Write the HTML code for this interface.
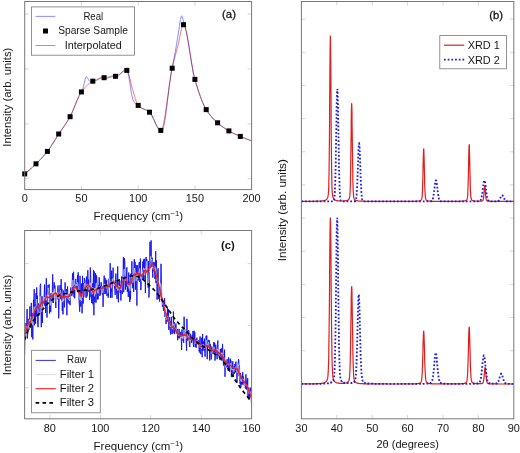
<!DOCTYPE html>
<html><head><meta charset="utf-8"><title>Figure</title>
<style>html,body{margin:0;padding:0;background:#fff}svg{display:block}text{font-family:"Liberation Sans",sans-serif;fill:#161616}.tk{font-size:10.9px;text-anchor:middle}.lb{font-size:11.5px;text-anchor:middle}.lg{font-size:11px}.ax{fill:none;stroke:#777;stroke-width:1}.t{stroke:#ccc;stroke-width:0.8}</style></head><body>
<svg width="520" height="453" viewBox="0 0 520 453">
<rect width="520" height="453" fill="#fff"/>
<path class="t" d="M81.4 189.6v-4M81.4 1.5v4"/><path class="t" d="M138.2 189.6v-4M138.2 1.5v4"/><path class="t" d="M194.9 189.6v-4M194.9 1.5v4"/><path class="t" d="M24.7 14.1h4M251.6 14.1h-4"/><path class="t" d="M24.7 68.9h4M251.6 68.9h-4"/><path class="t" d="M24.7 123.8h4M251.6 123.8h-4"/><path class="t" d="M24.7 178.7h4M251.6 178.7h-4"/>
<polyline fill="none" stroke="#5a5aff" stroke-width="0.7" points="24.7,173.9 25.3,173.4 25.8,173.0 26.4,172.5 27.0,172.1 27.5,171.6 28.1,171.1 28.7,170.6 29.2,170.1 29.8,169.6 30.4,169.1 31.0,168.6 31.5,168.1 32.1,167.6 32.7,167.0 33.2,166.5 33.8,166.0 34.4,165.4 34.9,164.9 35.5,164.3 36.1,163.8 36.6,163.2 37.2,162.7 37.8,162.1 38.3,161.5 38.9,160.9 39.5,160.4 40.1,159.8 40.6,159.2 41.2,158.6 41.8,158.0 42.3,157.4 42.9,156.7 43.5,156.1 44.0,155.5 44.6,154.8 45.2,154.1 45.7,153.4 46.3,152.8 46.9,152.0 47.4,151.3 48.0,150.6 48.6,149.8 49.2,149.0 49.7,148.2 50.3,147.4 50.9,146.5 51.4,145.6 52.0,144.7 52.6,143.9 53.1,142.9 53.7,142.0 54.3,141.1 54.8,140.2 55.4,139.3 56.0,138.4 56.5,137.4 57.1,136.5 57.7,135.6 58.3,134.7 58.8,133.9 59.4,133.0 60.0,132.2 60.5,131.3 61.1,130.5 61.7,129.7 62.2,128.9 62.8,128.0 63.4,127.2 63.9,126.4 64.5,125.6 65.1,124.8 65.6,123.9 66.2,123.0 66.8,122.2 67.4,121.3 67.9,120.4 68.5,119.4 69.1,118.5 69.6,117.5 70.2,116.5 70.8,115.4 71.3,114.2 71.9,113.0 72.5,111.7 73.0,110.4 73.6,109.0 74.2,107.6 74.7,106.2 75.3,104.7 75.9,103.3 76.4,101.9 77.0,100.5 77.6,99.2 78.2,97.9 78.7,96.6 79.3,95.5 79.9,94.4 80.4,93.4 81.0,92.4 81.6,91.5 82.1,90.5 82.7,89.1 83.3,87.3 83.8,85.0 84.4,82.4 85.0,79.8 85.5,77.8 86.1,76.8 86.7,76.8 87.3,77.4 87.8,78.4 88.4,79.5 89.0,80.5 89.5,81.2 90.1,81.6 90.7,81.8 91.2,81.7 91.8,81.6 92.4,81.3 92.9,81.2 93.5,81.2 94.1,81.2 94.6,81.2 95.2,81.0 95.8,80.8 96.4,80.5 96.9,80.2 97.5,79.8 98.1,79.3 98.6,78.9 99.2,78.4 99.8,78.0 100.3,77.7 100.9,77.5 101.5,77.3 102.0,77.3 102.6,77.3 103.2,77.5 103.7,77.6 104.3,77.8 104.9,78.0 105.5,78.1 106.0,78.2 106.6,78.2 107.2,78.2 107.7,78.0 108.3,77.8 108.9,77.5 109.4,77.2 110.0,76.9 110.6,76.6 111.1,76.3 111.7,76.0 112.3,75.9 112.8,75.8 113.4,75.8 114.0,75.9 114.6,76.1 115.1,76.2 115.7,76.4 116.3,76.5 116.8,76.5 117.4,76.4 118.0,76.2 118.5,75.8 119.1,75.3 119.7,74.8 120.2,74.1 120.8,73.4 121.4,72.7 121.9,72.1 122.5,71.5 123.1,70.9 123.6,70.5 124.2,70.2 124.8,70.1 125.4,70.1 125.9,70.2 126.5,70.5 127.1,70.9 127.6,72.0 128.2,73.8 128.8,76.4 129.3,79.6 129.9,83.3 130.5,87.2 131.0,91.0 131.6,94.4 132.2,97.0 132.7,98.9 133.3,100.4 133.9,101.5 134.5,102.4 135.0,103.2 135.6,103.8 136.2,104.4 136.7,105.0 137.3,105.5 137.9,105.9 138.4,106.2 139.0,106.5 139.6,106.9 140.1,107.2 140.7,107.6 141.3,107.9 141.8,108.2 142.4,108.5 143.0,108.7 143.6,109.0 144.1,109.2 144.7,109.4 145.3,109.7 145.8,109.9 146.4,110.2 147.0,110.5 147.5,110.8 148.1,111.1 148.7,111.5 149.2,112.0 149.8,112.5 150.4,113.2 150.9,114.0 151.5,114.9 152.1,116.0 152.7,117.1 153.2,118.3 153.8,119.5 154.4,120.7 154.9,122.0 155.5,123.3 156.1,124.5 156.6,125.6 157.2,126.7 157.8,127.7 158.3,128.6 158.9,129.4 159.5,130.1 160.0,130.7 160.6,131.2 161.2,131.5 161.7,131.3 162.3,130.5 162.9,129.2 163.5,127.4 164.0,125.0 164.6,122.2 165.2,118.8 165.7,114.9 166.3,110.7 166.9,106.1 167.4,101.4 168.0,96.7 168.6,92.0 169.1,87.5 169.7,83.1 170.3,79.1 170.8,75.2 171.4,71.8 172.0,68.6 172.6,65.7 173.1,62.9 173.7,60.0 174.3,57.1 174.8,54.1 175.4,51.0 176.0,47.8 176.5,44.5 177.1,41.0 177.7,37.5 178.2,34.0 178.8,30.2 179.4,26.4 179.9,22.8 180.5,19.6 181.1,16.9 181.7,15.8 182.2,16.7 182.8,18.6 183.4,20.8 183.9,23.0 184.5,25.0 185.1,27.0 185.6,29.2 186.2,31.7 186.8,34.5 187.3,37.6 187.9,40.8 188.5,44.1 189.0,47.6 189.6,51.1 190.2,54.7 190.8,58.2 191.3,61.7 191.9,65.1 192.5,68.4 193.0,71.4 193.6,74.3 194.2,76.8 194.7,79.0 195.3,80.9 195.9,82.8 196.4,84.7 197.0,86.5 197.6,88.3 198.1,90.1 198.7,91.8 199.3,93.5 199.9,95.1 200.4,96.7 201.0,98.3 201.6,99.7 202.1,101.2 202.7,102.5 203.3,103.9 203.8,105.1 204.4,106.3 205.0,107.4 205.5,108.4 206.1,109.4 206.7,110.3 207.2,111.2 207.8,112.0 208.4,112.9 208.9,113.6 209.5,114.4 210.1,115.1 210.7,115.8 211.2,116.5 211.8,117.1 212.4,117.8 212.9,118.4 213.5,119.0 214.1,119.5 214.6,120.1 215.2,120.6 215.8,121.2 216.3,121.7 216.9,122.2 217.5,122.7 218.0,123.2 218.6,123.7 219.2,124.2 219.8,124.7 220.3,125.1 220.9,125.6 221.5,126.0 222.0,126.4 222.6,126.8 223.2,127.2 223.7,127.6 224.3,128.0 224.9,128.4 225.4,128.8 226.0,129.1 226.6,129.5 227.1,129.9 227.7,130.2 228.3,130.5 228.9,130.9 229.4,131.2 230.0,131.5 230.6,131.8 231.1,132.1 231.7,132.4 232.3,132.7 232.8,133.0 233.4,133.3 234.0,133.6 234.5,133.8 235.1,134.1 235.7,134.4 236.2,134.6 236.8,134.9 237.4,135.1 238.0,135.4 238.5,135.6 239.1,135.9 239.7,136.1 240.2,136.4 240.8,136.6 241.4,136.9 241.9,137.1 242.5,137.4 243.1,137.6 243.6,137.8 244.2,138.0 244.8,138.3 245.3,138.5 245.9,138.7 246.5,138.9 247.1,139.2 247.6,139.4 248.2,139.6 248.8,139.8 249.3,140.0 249.9,140.2 250.5,140.4 251.0,140.6 251.6,140.8"/>
<polyline fill="none" stroke="#f04040" stroke-width="0.7" style="mix-blend-mode:multiply" points="24.7,173.9 25.3,173.4 25.8,173.0 26.4,172.5 27.0,172.1 27.5,171.6 28.1,171.1 28.7,170.6 29.2,170.1 29.8,169.6 30.4,169.1 31.0,168.6 31.5,168.1 32.1,167.6 32.7,167.0 33.2,166.5 33.8,166.0 34.4,165.4 34.9,164.9 35.5,164.3 36.1,163.8 36.6,163.2 37.2,162.7 37.8,162.1 38.3,161.5 38.9,160.9 39.5,160.4 40.1,159.8 40.6,159.2 41.2,158.6 41.8,158.0 42.3,157.4 42.9,156.7 43.5,156.1 44.0,155.5 44.6,154.8 45.2,154.1 45.7,153.4 46.3,152.8 46.9,152.0 47.4,151.3 48.0,150.6 48.6,149.8 49.2,149.0 49.7,148.2 50.3,147.4 50.9,146.5 51.4,145.6 52.0,144.7 52.6,143.9 53.1,142.9 53.7,142.0 54.3,141.1 54.8,140.2 55.4,139.3 56.0,138.4 56.5,137.4 57.1,136.5 57.7,135.6 58.3,134.7 58.8,133.9 59.4,133.0 60.0,132.2 60.5,131.3 61.1,130.5 61.7,129.7 62.2,128.9 62.8,128.0 63.4,127.2 63.9,126.4 64.5,125.6 65.1,124.8 65.6,123.9 66.2,123.0 66.8,122.2 67.4,121.3 67.9,120.4 68.5,119.4 69.1,118.5 69.6,117.5 70.2,116.5 70.8,115.4 71.3,114.2 71.9,113.0 72.5,111.7 73.0,110.4 73.6,109.0 74.2,107.6 74.7,106.2 75.3,104.7 75.9,103.3 76.4,101.9 77.0,100.5 77.6,99.2 78.2,97.9 78.7,96.6 79.3,95.5 79.9,94.4 80.4,93.4 81.0,92.5 81.6,91.7 82.1,91.0 82.7,90.3 83.3,89.6 83.8,88.9 84.4,88.2 85.0,87.6 85.5,86.9 86.1,86.3 86.7,85.7 87.3,85.2 87.8,84.7 88.4,84.2 89.0,83.7 89.5,83.2 90.1,82.8 90.7,82.4 91.2,82.0 91.8,81.7 92.4,81.4 92.9,81.1 93.5,80.9 94.1,80.6 94.6,80.4 95.2,80.2 95.8,79.9 96.4,79.7 96.9,79.5 97.5,79.3 98.1,79.2 98.6,79.0 99.2,78.8 99.8,78.7 100.3,78.5 100.9,78.4 101.5,78.2 102.0,78.1 102.6,78.0 103.2,77.9 103.7,77.8 104.3,77.7 104.9,77.6 105.5,77.5 106.0,77.4 106.6,77.3 107.2,77.3 107.7,77.2 108.3,77.2 108.9,77.1 109.4,77.1 110.0,77.0 110.6,77.0 111.1,76.9 111.7,76.8 112.3,76.8 112.8,76.7 113.4,76.6 114.0,76.6 114.6,76.5 115.1,76.4 115.7,76.2 116.3,76.1 116.8,75.9 117.4,75.6 118.0,75.3 118.5,74.9 119.1,74.5 119.7,74.1 120.2,73.7 120.8,73.3 121.4,72.9 121.9,72.5 122.5,72.1 123.1,71.7 123.6,71.4 124.2,71.1 124.8,70.8 125.4,70.6 125.9,70.5 126.5,70.4 127.1,70.5 127.6,71.2 128.2,72.5 128.8,74.3 129.3,76.4 129.9,78.8 130.5,81.3 131.0,83.8 131.6,86.1 132.2,88.1 132.7,89.9 133.3,91.8 133.9,93.8 134.5,95.8 135.0,97.7 135.6,99.6 136.2,101.3 136.7,102.8 137.3,104.1 137.9,105.0 138.4,105.7 139.0,106.2 139.6,106.7 140.1,107.1 140.7,107.5 141.3,107.9 141.8,108.2 142.4,108.5 143.0,108.7 143.6,109.0 144.1,109.2 144.7,109.4 145.3,109.7 145.8,109.9 146.4,110.2 147.0,110.5 147.5,110.8 148.1,111.1 148.7,111.5 149.2,112.0 149.8,112.5 150.4,113.2 150.9,114.0 151.5,114.9 152.1,116.0 152.7,117.1 153.2,118.3 153.8,119.5 154.4,120.7 154.9,122.0 155.5,123.2 156.1,124.5 156.6,125.6 157.2,126.7 157.8,127.7 158.3,128.5 158.9,129.2 159.5,129.8 160.0,130.2 160.6,130.4 161.2,130.3 161.7,129.6 162.3,128.3 162.9,126.4 163.5,124.1 164.0,121.3 164.6,118.2 165.2,114.8 165.7,111.1 166.3,107.2 166.9,103.1 167.4,99.0 168.0,94.8 168.6,90.6 169.1,86.5 169.7,82.6 170.3,78.8 170.8,75.3 171.4,72.0 172.0,69.1 172.6,66.6 173.1,64.1 173.7,61.8 174.3,59.6 174.8,57.4 175.4,55.2 176.0,53.1 176.5,51.0 177.1,48.8 177.7,46.7 178.2,44.4 178.8,41.8 179.4,39.1 179.9,36.2 180.5,33.5 181.1,30.8 181.7,28.5 182.2,26.7 182.8,25.4 183.4,24.7 183.9,24.9 184.5,25.6 185.1,26.8 185.6,28.6 186.2,30.7 186.8,33.3 187.3,36.1 187.9,39.3 188.5,42.7 189.0,46.2 189.6,49.8 190.2,53.5 190.8,57.2 191.3,60.9 191.9,64.5 192.5,67.9 193.0,71.1 193.6,74.0 194.2,76.6 194.7,78.9 195.3,80.9 195.9,82.8 196.4,84.6 197.0,86.5 197.6,88.3 198.1,90.1 198.7,91.8 199.3,93.5 199.9,95.1 200.4,96.7 201.0,98.3 201.6,99.7 202.1,101.2 202.7,102.5 203.3,103.9 203.8,105.1 204.4,106.3 205.0,107.4 205.5,108.4 206.1,109.4 206.7,110.3 207.2,111.2 207.8,112.0 208.4,112.9 208.9,113.6 209.5,114.4 210.1,115.1 210.7,115.8 211.2,116.5 211.8,117.1 212.4,117.8 212.9,118.4 213.5,119.0 214.1,119.5 214.6,120.1 215.2,120.6 215.8,121.2 216.3,121.7 216.9,122.2 217.5,122.7 218.0,123.2 218.6,123.7 219.2,124.2 219.8,124.7 220.3,125.1 220.9,125.6 221.5,126.0 222.0,126.4 222.6,126.8 223.2,127.2 223.7,127.6 224.3,128.0 224.9,128.4 225.4,128.8 226.0,129.1 226.6,129.5 227.1,129.9 227.7,130.2 228.3,130.5 228.9,130.9 229.4,131.2 230.0,131.5 230.6,131.8 231.1,132.1 231.7,132.4 232.3,132.7 232.8,133.0 233.4,133.3 234.0,133.6 234.5,133.8 235.1,134.1 235.7,134.4 236.2,134.6 236.8,134.9 237.4,135.1 238.0,135.4 238.5,135.6 239.1,135.9 239.7,136.1 240.2,136.4 240.8,136.6 241.4,136.9 241.9,137.1 242.5,137.4 243.1,137.6 243.6,137.8 244.2,138.0 244.8,138.3 245.3,138.5 245.9,138.7 246.5,138.9 247.1,139.2 247.6,139.4 248.2,139.6 248.8,139.8 249.3,140.0 249.9,140.2 250.5,140.4 251.0,140.6 251.6,140.8"/>
<rect x="22.2" y="171.4" width="5" height="5" fill="#000"/>
<rect x="33.5" y="161.3" width="5" height="5" fill="#000"/>
<rect x="44.9" y="148.9" width="5" height="5" fill="#000"/>
<rect x="56.2" y="131.5" width="5" height="5" fill="#000"/>
<rect x="67.6" y="114.2" width="5" height="5" fill="#000"/>
<rect x="78.9" y="89.4" width="5" height="5" fill="#000"/>
<rect x="90.3" y="78.7" width="5" height="5" fill="#000"/>
<rect x="101.6" y="75.2" width="5" height="5" fill="#000"/>
<rect x="113.0" y="73.8" width="5" height="5" fill="#000"/>
<rect x="124.3" y="67.9" width="5" height="5" fill="#000"/>
<rect x="135.7" y="102.9" width="5" height="5" fill="#000"/>
<rect x="147.0" y="109.7" width="5" height="5" fill="#000"/>
<rect x="158.3" y="127.9" width="5" height="5" fill="#000"/>
<rect x="169.7" y="65.7" width="5" height="5" fill="#000"/>
<rect x="181.0" y="22.2" width="5" height="5" fill="#000"/>
<rect x="192.4" y="76.9" width="5" height="5" fill="#000"/>
<rect x="203.7" y="107.1" width="5" height="5" fill="#000"/>
<rect x="215.1" y="120.3" width="5" height="5" fill="#000"/>
<rect x="226.4" y="128.4" width="5" height="5" fill="#000"/>
<rect x="237.8" y="133.9" width="5" height="5" fill="#000"/>
<rect class="ax" x="24.7" y="1.5" width="226.9" height="188.1"/>
<rect x="31.4" y="6.9" width="103" height="48.3" fill="#fff" stroke="#777" stroke-width="0.8"/>
<path d="M35.5 16.4H55.3" stroke="#5a5aff" stroke-width="0.7"/>
<rect x="43" y="28.5" width="5" height="5" fill="#000"/>
<path d="M35.5 45.5H55.3" stroke="#f04040" stroke-width="0.7"/>
<text x="93.3" y="19.5" text-anchor="middle" style="font-size:10.8px" textLength="19.8" lengthAdjust="spacingAndGlyphs">Real</text>
<text x="93.1" y="34.4" text-anchor="middle" style="font-size:10.8px" textLength="69.8" lengthAdjust="spacingAndGlyphs">Sparse Sample</text>
<text x="93.3" y="48.6" text-anchor="middle" style="font-size:10.8px" textLength="57.2" lengthAdjust="spacingAndGlyphs">Interpolated</text>
<text x="229" y="18.3" text-anchor="middle" style="font-size:11.3px;stroke:#161616;stroke-width:0.3px">(a)</text>
<text class="tk" x="24.7" y="202.4">0</text>
<text class="tk" x="81.4" y="202.4">50</text>
<text class="tk" x="138.2" y="202.4">100</text>
<text class="tk" x="194.9" y="202.4">150</text>
<text class="tk" x="251.6" y="202.4">200</text>
<text x="138.3" y="220" text-anchor="middle" style="font-size:11.2px" textLength="89.5" lengthAdjust="spacingAndGlyphs">Frequency (cm<tspan dy="-4" style="font-size:7.5px">−1</tspan><tspan dy="4">)</tspan></text>
<text x="0" y="0" text-anchor="middle" style="font-size:11.2px" textLength="99" lengthAdjust="spacingAndGlyphs" transform="translate(11.4 97.2) rotate(-90)">Intensity (arb. units)</text>
<path class="t" d="M49.8 418.8v-4M49.8 230.5v4"/><path class="t" d="M100.3 418.8v-4M100.3 230.5v4"/><path class="t" d="M150.7 418.8v-4M150.7 230.5v4"/><path class="t" d="M201.2 418.8v-4M201.2 230.5v4"/><path class="t" d="M24.6 263.6h4M251.6 263.6h-4"/><path class="t" d="M24.6 325.6h4M251.6 325.6h-4"/><path class="t" d="M24.6 387.7h4M251.6 387.7h-4"/>
<clipPath id="cc"><rect x="24.6" y="230.5" width="227.0" height="188.3"/></clipPath>
<g clip-path="url(#cc)">
<polyline fill="none" stroke="#1414ee" stroke-width="0.95" stroke-linejoin="round" points="24.6,354.6 25.0,329.8 25.3,334.2 25.7,337.2 26.0,323.0 26.4,330.6 26.7,329.5 27.1,309.1 27.4,338.5 27.8,332.9 28.2,318.8 28.5,323.1 28.9,329.9 29.2,320.8 29.6,320.3 29.9,306.4 30.3,327.8 30.6,322.4 31.0,323.4 31.3,302.9 31.7,337.2 32.1,320.1 32.4,313.4 32.8,339.4 33.1,315.9 33.5,299.8 33.8,310.6 34.2,289.2 34.5,325.3 34.9,308.6 35.3,304.4 35.6,323.7 36.0,293.2 36.3,316.6 36.7,287.4 37.0,302.3 37.4,295.7 37.7,324.4 38.1,327.2 38.5,303.5 38.8,315.8 39.2,304.0 39.5,311.6 39.9,296.5 40.2,285.3 40.6,283.7 40.9,307.2 41.3,327.2 41.7,305.2 42.0,296.2 42.4,322.8 42.7,304.2 43.1,302.4 43.4,303.9 43.8,299.4 44.1,297.2 44.5,284.6 44.8,305.7 45.2,298.9 45.6,312.9 45.9,295.5 46.3,278.3 46.6,298.0 47.0,317.5 47.3,294.4 47.7,288.6 48.0,285.0 48.4,286.4 48.8,294.4 49.1,284.4 49.5,313.5 49.8,293.6 50.2,297.5 50.5,311.8 50.9,312.2 51.2,293.0 51.6,298.6 52.0,302.7 52.3,292.1 52.7,274.3 53.0,300.7 53.4,303.0 53.7,297.4 54.1,282.3 54.4,290.0 54.8,285.3 55.2,288.1 55.5,305.4 55.9,308.0 56.2,298.9 56.6,297.8 56.9,299.5 57.3,292.2 57.6,291.8 58.0,285.5 58.3,292.6 58.7,318.3 59.1,303.3 59.4,290.3 59.8,289.1 60.1,285.1 60.5,298.9 60.8,299.2 61.2,279.1 61.5,300.4 61.9,288.9 62.3,311.0 62.6,297.1 63.0,314.4 63.3,290.5 63.7,292.5 64.0,299.0 64.4,307.4 64.7,302.1 65.1,282.4 65.5,298.1 65.8,296.4 66.2,291.6 66.5,289.0 66.9,315.2 67.2,291.6 67.6,286.4 67.9,302.5 68.3,296.8 68.7,294.4 69.0,303.7 69.4,300.3 69.7,298.7 70.1,305.2 70.4,297.6 70.8,287.5 71.1,290.1 71.5,288.2 71.8,296.1 72.2,281.8 72.6,273.4 72.9,294.4 73.3,278.7 73.6,271.8 74.0,297.2 74.3,285.2 74.7,298.3 75.0,286.9 75.4,280.3 75.8,278.9 76.1,286.8 76.5,289.3 76.8,283.1 77.2,289.0 77.5,275.1 77.9,292.2 78.2,272.4 78.6,290.2 79.0,300.2 79.3,304.7 79.7,311.7 80.0,275.9 80.4,301.6 80.7,306.7 81.1,304.4 81.4,283.5 81.8,297.9 82.1,313.3 82.5,275.9 82.9,297.1 83.2,303.6 83.6,283.2 83.9,296.8 84.3,278.1 84.6,280.4 85.0,279.9 85.3,290.5 85.7,286.9 86.1,297.9 86.4,276.5 86.8,284.9 87.1,296.4 87.5,291.5 87.8,270.3 88.2,291.7 88.5,279.4 88.9,289.5 89.3,289.2 89.6,300.0 90.0,288.5 90.3,267.5 90.7,273.4 91.0,297.2 91.4,287.0 91.7,303.0 92.1,294.1 92.5,283.5 92.8,304.3 93.2,284.0 93.5,270.1 93.9,315.2 94.2,271.3 94.6,299.1 94.9,302.3 95.3,293.4 95.6,273.1 96.0,302.6 96.4,275.4 96.7,276.3 97.1,286.9 97.4,299.4 97.8,293.8 98.1,299.3 98.5,285.3 98.8,288.1 99.2,277.3 99.6,286.1 99.9,296.0 100.3,286.0 100.6,294.3 101.0,282.6 101.3,282.2 101.7,288.9 102.0,286.1 102.4,294.6 102.8,289.8 103.1,306.8 103.5,285.0 103.8,284.7 104.2,275.6 104.5,287.0 104.9,294.1 105.2,278.2 105.6,285.6 106.0,293.8 106.3,284.3 106.7,279.8 107.0,296.0 107.4,286.2 107.7,289.3 108.1,297.7 108.4,297.3 108.8,280.7 109.1,278.6 109.5,287.4 109.9,282.7 110.2,263.2 110.6,298.0 110.9,284.1 111.3,291.8 111.6,270.7 112.0,297.7 112.3,276.9 112.7,282.1 113.1,267.7 113.4,281.2 113.8,280.6 114.1,281.4 114.5,288.5 114.8,284.6 115.2,294.9 115.5,279.2 115.9,273.6 116.3,284.6 116.6,292.0 117.0,299.0 117.3,294.5 117.7,266.4 118.0,290.2 118.4,302.3 118.7,287.2 119.1,281.1 119.4,290.0 119.8,280.7 120.2,292.9 120.5,285.3 120.9,300.5 121.2,290.3 121.6,276.5 121.9,290.7 122.3,294.0 122.6,277.1 123.0,278.3 123.4,257.3 123.7,292.2 124.1,275.5 124.4,258.2 124.8,261.8 125.1,278.6 125.5,289.6 125.8,280.5 126.2,286.8 126.6,269.7 126.9,267.3 127.3,291.9 127.6,287.8 128.0,282.2 128.3,296.9 128.7,272.5 129.0,278.1 129.4,293.5 129.8,302.0 130.1,281.4 130.5,299.3 130.8,273.7 131.2,283.5 131.5,277.5 131.9,261.4 132.2,281.3 132.6,288.2 132.9,275.9 133.3,276.2 133.7,291.9 134.0,262.3 134.4,259.1 134.7,268.0 135.1,261.9 135.4,289.7 135.8,278.1 136.1,265.0 136.5,267.6 136.9,305.6 137.2,267.2 137.6,265.4 137.9,276.9 138.3,280.4 138.6,276.0 139.0,264.2 139.3,262.0 139.7,282.0 140.1,275.4 140.4,258.6 140.8,290.1 141.1,286.4 141.5,275.3 141.8,274.7 142.2,279.7 142.5,269.2 142.9,261.5 143.3,279.4 143.6,259.6 144.0,279.3 144.3,258.8 144.7,273.1 145.0,272.3 145.4,293.0 145.7,261.2 146.1,257.0 146.4,264.9 146.8,259.2 147.2,264.6 147.5,275.2 147.9,278.6 148.2,287.8 148.6,261.0 148.9,297.6 149.3,289.9 149.6,265.4 150.0,241.9 150.4,265.7 150.7,266.9 151.1,240.4 151.4,266.7 151.8,263.9 152.1,257.6 152.5,273.3 152.8,277.6 153.2,262.2 153.6,271.2 153.9,262.6 154.3,262.3 154.6,273.0 155.0,279.0 155.3,268.2 155.7,251.2 156.0,283.1 156.4,260.3 156.8,280.3 157.1,299.7 157.5,281.0 157.8,269.5 158.2,268.3 158.5,299.0 158.9,287.7 159.2,295.6 159.6,301.6 159.9,292.6 160.3,291.5 160.7,286.2 161.0,263.8 161.4,282.2 161.7,299.2 162.1,299.2 162.4,306.7 162.8,302.0 163.1,305.6 163.5,311.0 163.9,300.7 164.2,306.0 164.6,298.1 164.9,316.8 165.3,311.6 165.6,315.8 166.0,324.0 166.3,321.8 166.7,315.0 167.1,321.7 167.4,307.5 167.8,321.1 168.1,320.0 168.5,309.0 168.8,330.0 169.2,317.0 169.5,327.4 169.9,320.8 170.2,331.4 170.6,334.5 171.0,320.8 171.3,316.8 171.7,326.9 172.0,334.1 172.4,326.3 172.7,325.2 173.1,333.3 173.4,311.6 173.8,326.5 174.2,322.1 174.5,334.1 174.9,327.6 175.2,325.5 175.6,331.0 175.9,323.5 176.3,333.5 176.6,329.1 177.0,331.2 177.4,329.0 177.7,340.2 178.1,333.3 178.4,337.8 178.8,337.5 179.1,328.9 179.5,338.3 179.8,336.9 180.2,336.8 180.6,332.0 180.9,331.9 181.3,340.3 181.6,349.9 182.0,329.4 182.3,338.8 182.7,332.8 183.0,340.7 183.4,338.5 183.7,342.8 184.1,316.7 184.5,331.9 184.8,329.6 185.2,335.9 185.5,332.0 185.9,332.8 186.2,342.1 186.6,350.7 186.9,318.8 187.3,336.2 187.7,340.7 188.0,338.9 188.4,336.8 188.7,330.2 189.1,333.3 189.4,344.7 189.8,347.0 190.1,340.3 190.5,333.8 190.9,340.1 191.2,337.7 191.6,343.0 191.9,340.0 192.3,334.9 192.6,340.4 193.0,331.0 193.3,344.5 193.7,346.9 194.1,330.8 194.4,341.6 194.8,332.3 195.1,346.9 195.5,346.2 195.8,339.0 196.2,347.8 196.5,338.6 196.9,337.7 197.2,338.7 197.6,342.1 198.0,341.3 198.3,345.1 198.7,340.3 199.0,350.2 199.4,352.5 199.7,342.6 200.1,336.5 200.4,351.2 200.8,354.2 201.2,345.4 201.5,337.8 201.9,348.5 202.2,357.2 202.6,334.1 202.9,350.3 203.3,345.0 203.6,341.4 204.0,350.7 204.4,338.6 204.7,349.6 205.1,356.6 205.4,349.0 205.8,341.9 206.1,335.8 206.5,339.3 206.8,335.6 207.2,359.2 207.5,346.7 207.9,341.4 208.3,339.8 208.6,341.5 209.0,346.6 209.3,340.3 209.7,360.5 210.0,344.1 210.4,344.0 210.7,351.6 211.1,359.5 211.5,358.7 211.8,346.5 212.2,351.7 212.5,351.1 212.9,353.8 213.2,352.0 213.6,344.0 213.9,342.0 214.3,352.1 214.7,343.0 215.0,360.6 215.4,351.8 215.7,344.8 216.1,349.9 216.4,348.8 216.8,351.6 217.1,359.2 217.5,343.1 217.9,340.5 218.2,355.8 218.6,352.5 218.9,355.1 219.3,357.2 219.6,353.2 220.0,360.1 220.3,348.9 220.7,355.8 221.0,350.1 221.4,348.4 221.8,360.7 222.1,360.7 222.5,343.9 222.8,349.9 223.2,359.9 223.5,365.5 223.9,354.0 224.2,357.7 224.6,349.7 225.0,376.8 225.3,363.3 225.7,366.5 226.0,365.2 226.4,367.4 226.7,365.4 227.1,359.2 227.4,366.8 227.8,362.5 228.2,371.0 228.5,357.4 228.9,358.9 229.2,367.4 229.6,371.8 229.9,364.3 230.3,358.7 230.6,362.9 231.0,360.6 231.4,377.1 231.7,370.5 232.1,373.3 232.4,366.9 232.8,361.3 233.1,373.3 233.5,376.8 233.8,369.7 234.2,365.8 234.5,373.6 234.9,364.1 235.3,372.3 235.6,362.8 236.0,361.6 236.3,372.6 236.7,371.5 237.0,382.8 237.4,368.4 237.7,371.0 238.1,363.6 238.5,359.1 238.8,360.3 239.2,376.1 239.5,365.4 239.9,381.7 240.2,384.2 240.6,373.1 240.9,386.9 241.3,377.7 241.7,384.4 242.0,375.8 242.4,384.5 242.7,372.1 243.1,383.3 243.4,376.6 243.8,379.4 244.1,385.2 244.5,382.7 244.9,381.6 245.2,387.6 245.6,388.7 245.9,374.4 246.3,388.3 246.6,389.6 247.0,380.5 247.3,388.9 247.7,378.1 248.0,398.0 248.4,387.7 248.8,389.9 249.1,399.7 249.5,391.7 249.8,397.9 250.2,387.8 250.5,392.2 250.9,387.7 251.2,396.9 251.6,406.4"/>
<polyline fill="none" stroke="#c8c8d0" stroke-width="0.7" points="24.6,345.6 25.0,342.1 25.3,335.7 25.7,330.9 26.0,330.9 26.4,325.9 26.7,326.1 27.1,328.1 27.4,325.7 27.8,324.5 28.2,328.6 28.5,325.1 28.9,322.6 29.2,320.1 29.6,321.0 29.9,319.5 30.3,320.0 30.6,316.6 31.0,322.7 31.3,321.2 31.7,319.4 32.1,322.6 32.4,325.2 32.8,317.7 33.1,315.8 33.5,311.0 33.8,308.1 34.2,306.7 34.5,307.6 34.9,310.2 35.3,311.0 35.6,309.3 36.0,305.1 36.3,304.7 36.7,299.0 37.0,305.3 37.4,307.4 37.7,310.6 38.1,313.3 38.5,315.0 38.8,312.4 39.2,306.3 39.5,302.6 39.9,296.2 40.2,296.9 40.6,300.0 40.9,301.7 41.3,303.9 41.7,311.7 42.0,311.1 42.4,306.2 42.7,305.9 43.1,306.5 43.4,301.4 43.8,297.5 44.1,298.2 44.5,297.2 44.8,299.9 45.2,299.5 45.6,298.3 45.9,296.7 46.3,300.4 46.6,296.7 47.0,295.4 47.3,296.7 47.7,294.4 48.0,289.8 48.4,287.8 48.8,292.8 49.1,294.5 49.5,296.7 49.8,300.2 50.2,305.7 50.5,301.6 50.9,302.6 51.2,303.6 51.6,299.7 52.0,292.1 52.3,293.7 52.7,294.6 53.0,293.5 53.4,291.6 53.7,294.7 54.1,291.6 54.4,288.6 54.8,290.2 55.2,295.4 55.5,297.1 55.9,299.6 56.2,301.9 56.6,299.3 56.9,296.0 57.3,293.4 57.6,292.3 58.0,296.1 58.3,298.3 58.7,298.0 59.1,298.7 59.4,297.2 59.8,293.3 60.1,292.5 60.5,290.3 60.8,292.6 61.2,293.3 61.5,295.7 61.9,295.3 62.3,302.4 62.6,300.4 63.0,301.1 63.3,298.7 63.7,300.8 64.0,298.3 64.4,296.7 64.7,297.8 65.1,297.3 65.5,294.1 65.8,291.5 66.2,298.1 66.5,296.8 66.9,294.8 67.2,296.9 67.6,298.5 67.9,294.3 68.3,296.8 68.7,299.5 69.0,298.8 69.4,300.5 69.7,301.1 70.1,297.9 70.4,295.8 70.8,293.7 71.1,291.9 71.5,288.8 71.8,286.0 72.2,286.8 72.6,284.9 72.9,280.0 73.3,283.1 73.6,285.5 74.0,286.2 74.3,287.9 74.7,289.6 75.0,285.9 75.4,286.2 75.8,284.4 76.1,283.7 76.5,285.4 76.8,284.6 77.2,285.7 77.5,282.4 77.9,283.8 78.2,286.0 78.6,291.9 79.0,295.9 79.3,296.6 79.7,298.8 80.0,300.1 80.4,300.1 80.7,294.4 81.1,298.8 81.4,301.2 81.8,295.0 82.1,293.6 82.5,297.6 82.9,294.6 83.2,291.3 83.6,291.8 83.9,288.4 84.3,283.7 84.6,285.1 85.0,283.2 85.3,287.1 85.7,286.3 86.1,287.3 86.4,288.5 86.8,289.5 87.1,283.9 87.5,287.0 87.8,285.9 88.2,284.5 88.5,284.0 88.9,290.0 89.3,289.3 89.6,286.9 90.0,283.7 90.3,285.3 90.7,282.7 91.0,285.6 91.4,290.9 91.7,292.9 92.1,294.4 92.5,293.8 92.8,287.2 93.2,291.4 93.5,289.0 93.9,288.0 94.2,291.6 94.6,296.3 94.9,287.9 95.3,294.1 95.6,289.4 96.0,284.2 96.4,282.9 96.7,288.1 97.1,286.4 97.4,291.1 97.8,292.9 98.1,293.2 98.5,288.8 98.8,287.2 99.2,286.6 99.6,286.7 99.9,287.9 100.3,289.0 100.6,288.2 101.0,286.8 101.3,286.8 101.7,286.9 102.0,288.3 102.4,293.2 102.8,292.5 103.1,292.2 103.5,288.4 103.8,287.8 104.2,285.3 104.5,283.9 104.9,284.1 105.2,287.8 105.6,287.2 106.0,284.4 106.3,287.9 106.7,288.0 107.0,287.1 107.4,289.8 107.7,293.3 108.1,290.2 108.4,288.7 108.8,288.3 109.1,285.4 109.5,278.5 109.9,282.0 110.2,283.1 110.6,284.0 110.9,281.6 111.3,288.4 111.6,284.2 112.0,283.8 112.3,279.0 112.7,281.1 113.1,277.7 113.4,278.6 113.8,279.9 114.1,283.2 114.5,286.0 114.8,285.7 115.2,284.1 115.5,283.4 115.9,284.9 116.3,285.7 116.6,288.7 117.0,287.3 117.3,288.4 117.7,290.5 118.0,288.1 118.4,285.4 118.7,290.1 119.1,288.2 119.4,286.3 119.8,286.0 120.2,289.9 120.5,289.9 120.9,289.1 121.2,288.6 121.6,290.4 121.9,285.7 122.3,283.3 122.6,279.5 123.0,279.8 123.4,276.1 123.7,272.3 124.1,269.0 124.4,273.3 124.8,272.7 125.1,273.7 125.5,279.5 125.8,281.0 126.2,278.8 126.6,279.2 126.9,280.7 127.3,279.8 127.6,285.2 128.0,286.3 128.3,283.5 128.7,284.6 129.0,288.6 129.4,285.5 129.8,290.8 130.1,290.0 130.5,287.9 130.8,283.1 131.2,279.1 131.5,275.5 131.9,278.4 132.2,276.9 132.6,276.6 132.9,282.7 133.3,278.9 133.7,273.1 134.0,271.5 134.4,268.7 134.7,268.2 135.1,271.4 135.4,272.5 135.8,272.4 136.1,281.2 136.5,276.7 136.9,274.2 137.2,276.6 137.6,279.1 137.9,273.2 138.3,272.6 138.6,271.9 139.0,272.9 139.3,271.9 139.7,268.4 140.1,273.6 140.4,278.5 140.8,277.2 141.1,277.0 141.5,281.3 141.8,277.1 142.2,272.1 142.5,272.9 142.9,269.9 143.3,269.8 143.6,267.7 144.0,270.1 144.3,268.6 144.7,275.3 145.0,271.7 145.4,271.3 145.7,269.7 146.1,267.1 146.4,261.4 146.8,264.2 147.2,268.5 147.5,273.1 147.9,273.4 148.2,280.0 148.6,283.0 148.9,280.3 149.3,271.1 149.6,272.1 150.0,265.9 150.4,256.1 150.7,256.3 151.1,260.7 151.4,259.1 151.8,260.4 152.1,267.8 152.5,266.9 152.8,268.4 153.2,269.4 153.6,267.2 153.9,266.3 154.3,269.6 154.6,269.0 155.0,266.7 155.3,270.9 155.7,268.4 156.0,268.6 156.4,274.9 156.8,280.9 157.1,278.1 157.5,279.8 157.8,283.5 158.2,281.1 158.5,284.0 158.9,290.4 159.2,295.3 159.6,293.8 159.9,293.5 160.3,287.1 160.7,283.3 161.0,284.6 161.4,286.1 161.7,290.2 162.1,297.8 162.4,302.5 162.8,304.9 163.1,305.2 163.5,305.1 163.9,304.3 164.2,306.5 164.6,306.6 164.9,309.6 165.3,313.3 165.6,318.0 166.0,317.6 166.3,319.7 166.7,318.0 167.1,317.4 167.4,317.0 167.8,315.8 168.1,317.5 168.5,319.4 168.8,320.7 169.2,320.9 169.5,325.4 169.9,326.2 170.2,327.0 170.6,324.9 171.0,326.1 171.3,326.6 171.7,325.0 172.0,325.9 172.4,329.2 172.7,326.1 173.1,324.6 173.4,323.7 173.8,325.5 174.2,324.4 174.5,327.2 174.9,328.1 175.2,328.3 175.6,328.2 175.9,328.5 176.3,329.7 176.6,329.3 177.0,332.6 177.4,332.6 177.7,334.3 178.1,335.6 178.4,335.5 178.8,335.2 179.1,335.9 179.5,335.7 179.8,334.6 180.2,335.2 180.6,335.6 180.9,338.2 181.3,336.7 181.6,338.1 182.0,338.2 182.3,338.3 182.7,336.1 183.0,338.7 183.4,334.3 183.7,334.1 184.1,331.9 184.5,331.4 184.8,329.2 185.2,332.4 185.5,334.5 185.9,338.7 186.2,335.3 186.6,336.1 186.9,337.7 187.3,337.0 187.7,334.3 188.0,336.5 188.4,336.0 188.7,336.8 189.1,338.4 189.4,339.1 189.8,339.8 190.1,341.2 190.5,339.8 190.9,339.0 191.2,339.0 191.6,339.2 191.9,339.2 192.3,337.9 192.6,338.2 193.0,339.5 193.3,338.7 193.7,339.0 194.1,339.2 194.4,339.7 194.8,339.5 195.1,341.2 195.5,342.4 195.8,343.7 196.2,341.9 196.5,340.3 196.9,341.0 197.2,339.7 197.6,341.0 198.0,341.5 198.3,343.8 198.7,345.9 199.0,346.1 199.4,344.4 199.7,346.6 200.1,347.4 200.4,346.0 200.8,345.0 201.2,347.4 201.5,348.6 201.9,344.6 202.2,345.6 202.6,347.0 202.9,345.6 203.3,344.3 203.6,345.2 204.0,345.1 204.4,347.4 204.7,348.9 205.1,347.1 205.4,346.6 205.8,344.5 206.1,340.3 206.5,342.4 206.8,343.3 207.2,344.5 207.5,344.6 207.9,345.7 208.3,343.2 208.6,341.9 209.0,345.7 209.3,346.6 209.7,347.1 210.0,348.1 210.4,351.9 210.7,351.6 211.1,352.1 211.5,353.6 211.8,353.5 212.2,352.3 212.5,351.0 212.9,350.5 213.2,348.6 213.6,348.8 213.9,346.6 214.3,348.3 214.7,349.9 215.0,350.5 215.4,350.0 215.7,351.2 216.1,349.4 216.4,350.9 216.8,350.5 217.1,348.7 217.5,350.1 217.9,350.2 218.2,349.4 218.6,352.2 218.9,354.7 219.3,355.6 219.6,354.9 220.0,355.1 220.3,353.6 220.7,352.7 221.0,352.8 221.4,355.1 221.8,352.8 222.1,352.7 222.5,355.0 222.8,356.0 223.2,354.7 223.5,357.4 223.9,357.4 224.2,360.7 224.6,360.3 225.0,362.8 225.3,364.3 225.7,367.8 226.0,365.6 226.4,364.7 226.7,364.8 227.1,364.3 227.4,365.0 227.8,363.4 228.2,363.3 228.5,363.4 228.9,365.3 229.2,363.9 229.6,364.2 229.9,365.0 230.3,363.6 230.6,364.7 231.0,366.0 231.4,368.9 231.7,369.7 232.1,369.8 232.4,369.1 232.8,370.3 233.1,369.6 233.5,369.4 233.8,371.8 234.2,370.0 234.5,369.1 234.9,367.7 235.3,366.9 235.6,366.7 236.0,368.2 236.3,370.2 236.7,371.4 237.0,373.2 237.4,371.4 237.7,369.0 238.1,364.5 238.5,366.0 238.8,364.9 239.2,368.5 239.5,373.5 239.9,376.1 240.2,378.3 240.6,380.7 240.9,381.3 241.3,379.6 241.7,381.8 242.0,378.9 242.4,380.0 242.7,378.4 243.1,379.2 243.4,379.3 243.8,381.4 244.1,381.1 244.5,383.3 244.9,385.2 245.2,383.0 245.6,384.1 245.9,385.7 246.3,384.3 246.6,384.3 247.0,385.1 247.3,387.0 247.7,386.6 248.0,388.5 248.4,390.7 248.8,393.4 249.1,393.4 249.5,393.4 249.8,393.9 250.2,391.4 250.5,392.5 250.9,394.2 251.2,397.9 251.6,400.8"/>
<polyline fill="none" stroke="#f41a1a" stroke-width="1.3" stroke-linejoin="round" points="24.6,334.2 25.3,333.8 26.0,331.6 26.7,329.3 27.4,325.6 28.2,324.6 28.9,322.8 29.6,322.4 30.3,322.3 31.0,320.2 31.7,317.3 32.4,316.6 33.1,315.9 33.8,313.8 34.5,311.0 35.3,310.1 36.0,308.6 36.7,308.7 37.4,308.0 38.1,305.6 38.8,306.1 39.5,305.5 40.2,306.4 40.9,303.7 41.7,302.5 42.4,301.4 43.1,302.8 43.8,301.9 44.5,300.9 45.2,299.1 45.9,297.4 46.6,296.1 47.3,297.2 48.0,297.3 48.8,297.1 49.5,298.0 50.2,295.6 50.9,296.8 51.6,296.5 52.3,295.2 53.0,295.1 53.7,294.0 54.4,293.9 55.2,292.9 55.9,292.9 56.6,294.3 57.3,295.1 58.0,295.8 58.7,294.4 59.4,294.3 60.1,295.3 60.8,296.7 61.5,295.8 62.3,296.5 63.0,296.8 63.7,296.4 64.4,297.7 65.1,296.8 65.8,296.4 66.5,297.1 67.2,296.5 67.9,297.2 68.7,296.3 69.4,296.3 70.1,293.8 70.8,293.0 71.5,291.8 72.2,290.8 72.9,289.0 73.6,288.1 74.3,287.7 75.0,287.0 75.8,286.8 76.5,288.5 77.2,289.9 77.9,289.4 78.6,292.1 79.3,292.6 80.0,293.7 80.7,295.6 81.4,297.0 82.1,294.2 82.9,292.8 83.6,291.2 84.3,289.6 85.0,288.2 85.7,287.4 86.4,286.2 87.1,286.2 87.8,285.1 88.5,284.5 89.3,286.3 90.0,286.9 90.7,288.7 91.4,289.9 92.1,290.2 92.8,291.3 93.5,293.0 94.2,290.9 94.9,290.1 95.6,290.1 96.4,290.9 97.1,289.7 97.8,288.7 98.5,289.1 99.2,288.7 99.9,289.4 100.6,289.4 101.3,288.6 102.0,288.4 102.8,287.8 103.5,287.6 104.2,287.4 104.9,287.6 105.6,287.6 106.3,286.8 107.0,286.9 107.7,285.1 108.4,286.0 109.1,285.2 109.9,285.1 110.6,283.8 111.3,282.2 112.0,282.5 112.7,282.8 113.4,282.1 114.1,282.4 114.8,283.9 115.5,284.0 116.3,286.1 117.0,286.6 117.7,286.9 118.4,287.9 119.1,288.7 119.8,288.0 120.5,287.3 121.2,284.9 121.9,283.1 122.6,281.4 123.4,280.7 124.1,278.7 124.8,277.8 125.5,277.9 126.2,279.9 126.9,280.4 127.6,283.7 128.3,284.4 129.0,284.2 129.8,283.8 130.5,282.6 131.2,281.7 131.9,280.0 132.6,276.6 133.3,275.7 134.0,274.1 134.7,275.3 135.4,274.1 136.1,274.3 136.9,272.8 137.6,273.8 138.3,273.2 139.0,274.5 139.7,274.5 140.4,275.4 141.1,275.6 141.8,275.1 142.5,274.4 143.3,274.8 144.0,271.9 144.7,270.5 145.4,270.5 146.1,270.6 146.8,272.6 147.5,271.1 148.2,269.3 148.9,268.4 149.6,267.8 150.4,267.7 151.1,265.5 151.8,264.1 152.5,263.8 153.2,264.8 153.9,267.7 154.6,271.0 155.3,272.8 156.0,274.6 156.8,277.4 157.5,280.5 158.2,283.0 158.9,285.0 159.6,289.1 160.3,291.9 161.0,296.3 161.7,297.6 162.4,299.0 163.1,301.6 163.9,306.7 164.6,310.1 165.3,311.9 166.0,313.6 166.7,315.7 167.4,318.3 168.1,320.5 168.8,321.0 169.5,322.7 170.2,324.5 171.0,325.4 171.7,326.2 172.4,327.1 173.1,327.5 173.8,328.0 174.5,329.2 175.2,330.2 175.9,330.8 176.6,332.0 177.4,332.8 178.1,333.5 178.8,334.4 179.5,335.2 180.2,335.8 180.9,336.1 181.6,335.5 182.3,335.2 183.0,334.9 183.7,335.4 184.5,334.6 185.2,335.3 185.9,335.6 186.6,335.0 187.3,337.2 188.0,337.8 188.7,338.8 189.4,338.5 190.1,339.2 190.9,338.9 191.6,339.3 192.3,339.0 193.0,339.1 193.7,339.4 194.4,338.9 195.1,339.6 195.8,340.9 196.5,341.3 197.2,342.7 198.0,343.4 198.7,344.5 199.4,345.0 200.1,346.0 200.8,346.4 201.5,346.6 202.2,345.9 202.9,347.2 203.6,346.0 204.4,345.7 205.1,345.8 205.8,345.7 206.5,345.8 207.2,346.4 207.9,345.6 208.6,346.6 209.3,348.1 210.0,348.6 210.7,349.4 211.5,349.7 212.2,350.2 212.9,350.5 213.6,350.5 214.3,349.9 215.0,350.3 215.7,350.0 216.4,350.7 217.1,351.6 217.9,352.0 218.6,352.6 219.3,353.1 220.0,352.9 220.7,354.4 221.4,355.2 222.1,355.2 222.8,356.7 223.5,358.2 224.2,360.0 225.0,360.5 225.7,362.6 226.4,362.4 227.1,363.8 227.8,363.7 228.5,363.5 229.2,364.3 229.9,365.2 230.6,365.6 231.4,366.6 232.1,367.3 232.8,367.4 233.5,367.6 234.2,367.9 234.9,368.3 235.6,369.1 236.3,368.1 237.0,368.8 237.7,370.4 238.5,371.9 239.2,373.5 239.9,374.1 240.6,375.1 241.3,377.0 242.0,378.8 242.7,380.2 243.4,380.9 244.1,381.9 244.9,382.6 245.6,383.9 246.3,384.9 247.0,386.3 247.7,387.6 248.4,388.7 249.1,391.4 249.8,393.2 250.5,395.2 251.2,397.2"/>
<polyline fill="none" stroke="#000" stroke-width="1.7" stroke-dasharray="3.6 3.3" points="24.6,340.0 25.7,336.7 26.9,333.5 28.0,330.7 29.2,328.0 30.3,325.7 31.4,323.6 32.6,321.8 33.7,320.3 34.9,318.9 36.0,317.5 37.1,316.1 38.3,314.7 39.4,313.4 40.6,312.0 41.7,310.7 42.9,309.3 44.0,307.9 45.1,306.5 46.3,305.1 47.4,303.8 48.6,302.7 49.7,301.7 50.8,300.8 52.0,299.9 53.1,299.0 54.3,298.2 55.4,297.4 56.5,296.8 57.7,296.2 58.8,295.7 60.0,295.2 61.1,294.8 62.2,294.4 63.4,294.1 64.5,293.8 65.7,293.5 66.8,293.2 67.9,292.9 69.1,292.7 70.2,292.4 71.4,292.1 72.5,291.9 73.7,291.7 74.8,291.5 75.9,291.3 77.1,291.1 78.2,290.9 79.4,290.8 80.5,290.7 81.6,290.6 82.8,290.5 83.9,290.4 85.1,290.2 86.2,290.1 87.3,290.0 88.5,289.9 89.6,289.7 90.8,289.6 91.9,289.4 93.0,289.2 94.2,289.0 95.3,288.8 96.5,288.6 97.6,288.3 98.7,288.0 99.9,287.7 101.0,287.3 102.2,286.9 103.3,286.4 104.4,286.0 105.6,285.5 106.7,285.1 107.9,284.7 109.0,284.2 110.2,283.8 111.3,283.3 112.4,282.9 113.6,282.4 114.7,281.9 115.9,281.4 117.0,281.0 118.1,280.5 119.3,279.9 120.4,279.4 121.6,278.9 122.7,278.5 123.8,278.1 125.0,277.7 126.1,277.3 127.3,276.9 128.4,276.5 129.5,276.2 130.7,276.0 131.8,275.8 133.0,275.8 134.1,275.9 135.2,276.0 136.4,276.3 137.5,276.5 138.7,276.9 139.8,277.2 141.0,277.8 142.1,278.6 143.2,279.6 144.4,280.7 145.5,281.9 146.7,282.9 147.8,283.9 148.9,284.9 150.1,286.0 151.2,287.1 152.4,288.2 153.5,289.3 154.6,290.5 155.8,291.8 156.9,293.1 158.1,294.6 159.2,296.1 160.3,297.7 161.5,299.3 162.6,301.0 163.8,302.7 164.9,304.3 166.0,305.9 167.2,307.6 168.3,309.3 169.5,311.1 170.6,312.8 171.8,314.6 172.9,316.2 174.0,317.8 175.2,319.3 176.3,320.7 177.5,322.0 178.6,323.3 179.7,324.5 180.9,325.7 182.0,326.9 183.2,328.1 184.3,329.2 185.4,330.4 186.6,331.6 187.7,332.8 188.9,334.1 190.0,335.4 191.1,336.6 192.3,337.8 193.4,339.0 194.6,340.1 195.7,341.1 196.8,342.1 198.0,343.0 199.1,343.8 200.3,344.6 201.4,345.4 202.5,346.1 203.7,346.8 204.8,347.5 206.0,348.2 207.1,349.0 208.3,349.7 209.4,350.5 210.5,351.2 211.7,351.9 212.8,352.7 214.0,353.4 215.1,354.1 216.2,354.9 217.4,355.7 218.5,356.6 219.7,357.6 220.8,358.7 221.9,359.9 223.1,361.3 224.2,362.8 225.4,364.3 226.5,365.9 227.6,367.6 228.8,369.3 229.9,371.1 231.1,373.1 232.2,375.1 233.3,377.1 234.5,379.0 235.6,380.8 236.8,382.5 237.9,384.2 239.1,385.8 240.2,387.4 241.3,389.0 242.5,390.5 243.6,392.0 244.8,393.4 245.9,394.8 247.0,396.2 248.2,397.6 249.3,398.9 250.5,400.2 251.6,401.5"/>
</g>
<rect class="ax" x="24.6" y="230.5" width="227.0" height="188.3"/>
<rect x="31.6" y="350.3" width="68.7" height="62.5" fill="#fff" stroke="#777" stroke-width="0.8"/>
<path d="M35.6 360.4H55.8" stroke="#1414ee" stroke-width="0.9"/>
<path d="M35.6 374.6H55.8" stroke="#c8c8d0" stroke-width="0.7"/>
<path d="M35.6 388.7H55.8" stroke="#f41a1a" stroke-width="1.1"/>
<path d="M35.6 402.9H55.8" stroke="#000" stroke-width="1.7" stroke-dasharray="3.6 3.3"/>
<text x="76.9" y="363.2" text-anchor="middle" style="font-size:10.8px" textLength="19.6" lengthAdjust="spacingAndGlyphs">Raw</text>
<text x="76.9" y="377.9" text-anchor="middle" style="font-size:10.8px" textLength="34.2" lengthAdjust="spacingAndGlyphs">Filter 1</text>
<text x="76.9" y="392.0" text-anchor="middle" style="font-size:10.8px" textLength="34.2" lengthAdjust="spacingAndGlyphs">Filter 2</text>
<text x="76.9" y="406.4" text-anchor="middle" style="font-size:10.8px" textLength="34.2" lengthAdjust="spacingAndGlyphs">Filter 3</text>
<text x="227.9" y="248.6" text-anchor="middle" style="font-size:11.3px;font-weight:bold">(c)</text>
<text class="tk" x="49.8" y="431.8">80</text>
<text class="tk" x="100.3" y="431.8">100</text>
<text class="tk" x="150.7" y="431.8">120</text>
<text class="tk" x="201.2" y="431.8">140</text>
<text class="tk" x="251.6" y="431.8">160</text>
<text x="138.3" y="449.5" text-anchor="middle" style="font-size:11.2px" textLength="89.5" lengthAdjust="spacingAndGlyphs">Frequency (cm<tspan dy="-4" style="font-size:7.5px">−1</tspan><tspan dy="4">)</tspan></text>
<text x="0" y="0" text-anchor="middle" style="font-size:11.2px" textLength="100.5" lengthAdjust="spacingAndGlyphs" transform="translate(11.4 325) rotate(-90)">Intensity (arb. units)</text>
<path class="t" d="M336.8 418.8v-4M336.8 1.5v4"/><path class="t" d="M372.2 418.8v-4M372.2 1.5v4"/><path class="t" d="M407.6 418.8v-4M407.6 1.5v4"/><path class="t" d="M443.0 418.8v-4M443.0 1.5v4"/><path class="t" d="M478.4 418.8v-4M478.4 1.5v4"/><path class="t" d="M301.4 19.2h4M513.8 19.2h-4"/><path class="t" d="M301.4 52.3h4M513.8 52.3h-4"/><path class="t" d="M301.4 85.5h4M513.8 85.5h-4"/><path class="t" d="M301.4 118.6h4M513.8 118.6h-4"/><path class="t" d="M301.4 151.8h4M513.8 151.8h-4"/><path class="t" d="M301.4 184.9h4M513.8 184.9h-4"/><path class="t" d="M301.4 218.1h4M513.8 218.1h-4"/><path class="t" d="M301.4 251.2h4M513.8 251.2h-4"/><path class="t" d="M301.4 284.4h4M513.8 284.4h-4"/><path class="t" d="M301.4 317.5h4M513.8 317.5h-4"/><path class="t" d="M301.4 350.7h4M513.8 350.7h-4"/><path class="t" d="M301.4 383.8h4M513.8 383.8h-4"/>
<polyline fill="none" stroke="#e31c1c" stroke-width="1.2" stroke-linejoin="round" points="301.4,201.4 301.5,201.4 301.6,201.4 301.7,201.4 301.8,201.4 301.8,201.4 301.9,201.4 302.0,201.4 302.1,201.4 302.2,201.4 302.3,201.4 302.4,201.4 302.5,201.4 302.6,201.4 302.6,201.4 302.7,201.4 302.8,201.4 302.9,201.4 303.0,201.4 303.1,201.4 303.2,201.4 303.3,201.4 303.3,201.4 303.4,201.3 303.5,201.3 303.6,201.3 303.7,201.3 303.8,201.3 303.9,201.3 304.0,201.3 304.1,201.3 304.1,201.3 304.2,201.3 304.3,201.3 304.4,201.3 304.5,201.3 304.6,201.3 304.7,201.3 304.8,201.3 304.9,201.3 304.9,201.3 305.0,201.3 305.1,201.3 305.2,201.3 305.3,201.3 305.4,201.3 305.5,201.3 305.6,201.3 305.6,201.3 305.7,201.3 305.8,201.3 305.9,201.3 306.0,201.3 306.1,201.3 306.2,201.3 306.3,201.3 306.4,201.3 306.4,201.3 306.5,201.3 306.6,201.3 306.7,201.3 306.8,201.3 306.9,201.3 307.0,201.3 307.1,201.3 307.2,201.3 307.2,201.3 307.3,201.3 307.4,201.3 307.5,201.3 307.6,201.3 307.7,201.3 307.8,201.3 307.9,201.3 308.0,201.3 308.0,201.3 308.1,201.3 308.2,201.3 308.3,201.3 308.4,201.3 308.5,201.3 308.6,201.3 308.7,201.3 308.7,201.3 308.8,201.3 308.9,201.3 309.0,201.3 309.1,201.3 309.2,201.3 309.3,201.3 309.4,201.3 309.5,201.3 309.5,201.3 309.6,201.3 309.7,201.3 309.8,201.3 309.9,201.3 310.0,201.3 310.1,201.3 310.2,201.3 310.3,201.3 310.3,201.3 310.4,201.3 310.5,201.3 310.6,201.3 310.7,201.3 310.8,201.3 310.9,201.3 311.0,201.3 311.1,201.3 311.1,201.3 311.2,201.3 311.3,201.3 311.4,201.3 311.5,201.3 311.6,201.3 311.7,201.3 311.8,201.3 311.8,201.3 311.9,201.3 312.0,201.3 312.1,201.3 312.2,201.3 312.3,201.3 312.4,201.3 312.5,201.3 312.6,201.3 312.6,201.3 312.7,201.3 312.8,201.3 312.9,201.3 313.0,201.3 313.1,201.3 313.2,201.3 313.3,201.3 313.4,201.3 313.4,201.3 313.5,201.3 313.6,201.3 313.7,201.3 313.8,201.3 313.9,201.3 314.0,201.3 314.1,201.3 314.1,201.3 314.2,201.3 314.3,201.3 314.4,201.3 314.5,201.3 314.6,201.3 314.7,201.3 314.8,201.3 314.9,201.3 314.9,201.3 315.0,201.3 315.1,201.3 315.2,201.3 315.3,201.3 315.4,201.3 315.5,201.2 315.6,201.2 315.7,201.2 315.7,201.2 315.8,201.2 315.9,201.2 316.0,201.2 316.1,201.2 316.2,201.2 316.3,201.2 316.4,201.2 316.5,201.2 316.5,201.2 316.6,201.2 316.7,201.2 316.8,201.2 316.9,201.2 317.0,201.2 317.1,201.2 317.2,201.2 317.2,201.2 317.3,201.2 317.4,201.2 317.5,201.2 317.6,201.2 317.7,201.2 317.8,201.2 317.9,201.2 318.0,201.2 318.0,201.2 318.1,201.2 318.2,201.2 318.3,201.2 318.4,201.2 318.5,201.2 318.6,201.2 318.7,201.2 318.8,201.2 318.8,201.2 318.9,201.2 319.0,201.1 319.1,201.1 319.2,201.1 319.3,201.1 319.4,201.1 319.5,201.1 319.6,201.1 319.6,201.1 319.7,201.1 319.8,201.1 319.9,201.1 320.0,201.1 320.1,201.1 320.2,201.1 320.3,201.1 320.3,201.1 320.4,201.1 320.5,201.1 320.6,201.1 320.7,201.1 320.8,201.1 320.9,201.0 321.0,201.0 321.1,201.0 321.1,201.0 321.2,201.0 321.3,201.0 321.4,201.0 321.5,201.0 321.6,201.0 321.7,201.0 321.8,201.0 321.9,201.0 321.9,201.0 322.0,200.9 322.1,200.9 322.2,200.9 322.3,200.9 322.4,200.9 322.5,200.9 322.6,200.9 322.6,200.9 322.7,200.9 322.8,200.9 322.9,200.8 323.0,200.8 323.1,200.8 323.2,200.8 323.3,200.8 323.4,200.8 323.4,200.8 323.5,200.7 323.6,200.7 323.7,200.7 323.8,200.7 323.9,200.7 324.0,200.6 324.1,200.6 324.2,200.6 324.2,200.6 324.3,200.6 324.4,200.5 324.5,200.5 324.6,200.5 324.7,200.5 324.8,200.4 324.9,200.4 325.0,200.4 325.0,200.3 325.1,200.3 325.2,200.3 325.3,200.2 325.4,200.2 325.5,200.1 325.6,200.1 325.7,200.0 325.7,200.0 325.8,199.9 325.9,199.9 326.0,199.8 326.1,199.8 326.2,199.7 326.3,199.6 326.4,199.5 326.5,199.5 326.5,199.4 326.6,199.3 326.7,199.2 326.8,199.1 326.9,199.0 327.0,198.9 327.1,198.7 327.2,198.6 327.3,198.4 327.3,198.3 327.4,198.1 327.5,197.9 327.6,197.7 327.7,197.4 327.8,197.1 327.9,196.8 328.0,196.5 328.0,196.0 328.1,195.5 328.2,194.9 328.3,194.1 328.4,193.1 328.5,191.8 328.6,190.2 328.7,188.2 328.8,185.6 328.8,182.4 328.9,178.4 329.0,173.6 329.1,167.7 329.2,160.8 329.3,152.7 329.4,143.5 329.5,133.1 329.6,121.8 329.6,109.7 329.7,97.1 329.8,84.4 329.9,72.1 330.0,60.6 330.1,50.7 330.2,42.9 330.3,37.8 330.4,36.0 330.4,37.4 330.5,42.1 330.6,49.5 330.7,59.2 330.8,70.5 330.9,82.8 331.0,95.5 331.1,108.1 331.1,120.3 331.2,131.7 331.3,142.2 331.4,151.6 331.5,159.8 331.6,166.9 331.7,172.9 331.8,177.9 331.9,181.9 331.9,185.2 332.0,187.9 332.1,190.0 332.2,191.6 332.3,192.9 332.4,193.9 332.5,194.8 332.6,195.4 332.7,196.0 332.7,196.4 332.8,196.8 332.9,197.1 333.0,197.4 333.1,197.6 333.2,197.8 333.3,198.0 333.4,198.2 333.5,198.4 333.5,198.5 333.6,198.7 333.7,198.8 333.8,198.9 333.9,199.0 334.0,199.2 334.1,199.2 334.2,199.3 334.2,199.4 334.3,199.5 334.4,199.6 334.5,199.7 334.6,199.7 334.7,199.8 334.8,199.8 334.9,199.9 335.0,200.0 335.0,200.0 335.1,200.0 335.2,200.1 335.3,200.1 335.4,200.2 335.5,200.2 335.6,200.2 335.7,200.3 335.8,200.3 335.8,200.3 335.9,200.4 336.0,200.4 336.1,200.4 336.2,200.5 336.3,200.5 336.4,200.5 336.5,200.5 336.5,200.5 336.6,200.6 336.7,200.6 336.8,200.6 336.9,200.6 337.0,200.6 337.1,200.7 337.2,200.7 337.3,200.7 337.3,200.7 337.4,200.7 337.5,200.7 337.6,200.7 337.7,200.8 337.8,200.8 337.9,200.8 338.0,200.8 338.1,200.8 338.1,200.8 338.2,200.8 338.3,200.8 338.4,200.8 338.5,200.8 338.6,200.9 338.7,200.9 338.8,200.9 338.9,200.9 338.9,200.9 339.0,200.9 339.1,200.9 339.2,200.9 339.3,200.9 339.4,200.9 339.5,200.9 339.6,200.9 339.6,200.9 339.7,200.9 339.8,200.9 339.9,200.9 340.0,200.9 340.1,201.0 340.2,201.0 340.3,201.0 340.4,201.0 340.4,201.0 340.5,201.0 340.6,201.0 340.7,201.0 340.8,201.0 340.9,201.0 341.0,201.0 341.1,201.0 341.2,201.0 341.2,201.0 341.3,201.0 341.4,201.0 341.5,201.0 341.6,201.0 341.7,201.0 341.8,201.0 341.9,201.0 341.9,201.0 342.0,201.0 342.1,201.0 342.2,201.0 342.3,201.0 342.4,201.0 342.5,201.0 342.6,201.0 342.7,201.0 342.7,201.0 342.8,201.0 342.9,201.0 343.0,201.0 343.1,201.0 343.2,201.0 343.3,201.0 343.4,201.0 343.5,201.0 343.5,201.0 343.6,201.0 343.7,201.0 343.8,200.9 343.9,200.9 344.0,200.9 344.1,200.9 344.2,200.9 344.3,200.9 344.3,200.9 344.4,200.9 344.5,200.9 344.6,200.9 344.7,200.9 344.8,200.9 344.9,200.9 345.0,200.9 345.0,200.9 345.1,200.8 345.2,200.8 345.3,200.8 345.4,200.8 345.5,200.8 345.6,200.8 345.7,200.8 345.8,200.8 345.8,200.8 345.9,200.7 346.0,200.7 346.1,200.7 346.2,200.7 346.3,200.7 346.4,200.7 346.5,200.6 346.6,200.6 346.6,200.6 346.7,200.6 346.8,200.5 346.9,200.5 347.0,200.5 347.1,200.5 347.2,200.4 347.3,200.4 347.4,200.4 347.4,200.3 347.5,200.3 347.6,200.3 347.7,200.2 347.8,200.2 347.9,200.1 348.0,200.1 348.1,200.0 348.1,199.9 348.2,199.9 348.3,199.8 348.4,199.7 348.5,199.6 348.6,199.5 348.7,199.4 348.8,199.3 348.9,199.2 348.9,199.1 349.0,198.9 349.1,198.8 349.2,198.6 349.3,198.3 349.4,198.1 349.5,197.7 349.6,197.3 349.7,196.8 349.7,196.2 349.8,195.4 349.9,194.4 350.0,193.1 350.1,191.5 350.2,189.5 350.3,187.0 350.4,183.9 350.4,180.3 350.5,176.0 350.6,171.0 350.7,165.4 350.8,159.1 350.9,152.2 351.0,145.0 351.1,137.5 351.2,130.0 351.2,122.9 351.3,116.3 351.4,110.8 351.5,106.6 351.6,104.2 351.7,103.7 351.8,105.1 351.9,108.4 352.0,113.3 352.0,119.3 352.1,126.2 352.2,133.6 352.3,141.1 352.4,148.5 352.5,155.5 352.6,162.1 352.7,168.1 352.8,173.5 352.8,178.1 352.9,182.1 353.0,185.5 353.1,188.2 353.2,190.5 353.3,192.3 353.4,193.8 353.5,194.9 353.5,195.8 353.6,196.6 353.7,197.1 353.8,197.6 353.9,197.9 354.0,198.2 354.1,198.5 354.2,198.7 354.3,198.9 354.3,199.0 354.4,199.2 354.5,199.3 354.6,199.4 354.7,199.5 354.8,199.6 354.9,199.7 355.0,199.8 355.1,199.9 355.1,199.9 355.2,200.0 355.3,200.1 355.4,200.1 355.5,200.2 355.6,200.2 355.7,200.3 355.8,200.3 355.9,200.4 355.9,200.4 356.0,200.4 356.1,200.5 356.2,200.5 356.3,200.5 356.4,200.6 356.5,200.6 356.6,200.6 356.6,200.7 356.7,200.7 356.8,200.7 356.9,200.7 357.0,200.7 357.1,200.8 357.2,200.8 357.3,200.8 357.4,200.8 357.4,200.8 357.5,200.8 357.6,200.9 357.7,200.9 357.8,200.9 357.9,200.9 358.0,200.9 358.1,200.9 358.2,200.9 358.2,201.0 358.3,201.0 358.4,201.0 358.5,201.0 358.6,201.0 358.7,201.0 358.8,201.0 358.9,201.0 358.9,201.0 359.0,201.0 359.1,201.0 359.2,201.1 359.3,201.1 359.4,201.1 359.5,201.1 359.6,201.1 359.7,201.1 359.7,201.1 359.8,201.1 359.9,201.1 360.0,201.1 360.1,201.1 360.2,201.1 360.3,201.1 360.4,201.1 360.5,201.1 360.5,201.1 360.6,201.1 360.7,201.1 360.8,201.2 360.9,201.2 361.0,201.2 361.1,201.2 361.2,201.2 361.3,201.2 361.3,201.2 361.4,201.2 361.5,201.2 361.6,201.2 361.7,201.2 361.8,201.2 361.9,201.2 362.0,201.2 362.0,201.2 362.1,201.2 362.2,201.2 362.3,201.2 362.4,201.2 362.5,201.2 362.6,201.2 362.7,201.2 362.8,201.2 362.8,201.2 362.9,201.2 363.0,201.2 363.1,201.2 363.2,201.2 363.3,201.2 363.4,201.2 363.5,201.2 363.6,201.2 363.6,201.2 363.7,201.2 363.8,201.2 363.9,201.3 364.0,201.3 364.1,201.3 364.2,201.3 364.3,201.3 364.3,201.3 364.4,201.3 364.5,201.3 364.6,201.3 364.7,201.3 364.8,201.3 364.9,201.3 365.0,201.3 365.1,201.3 365.1,201.3 365.2,201.3 365.3,201.3 365.4,201.3 365.5,201.3 365.6,201.3 365.7,201.3 365.8,201.3 365.9,201.3 365.9,201.3 366.0,201.3 366.1,201.3 366.2,201.3 366.3,201.3 366.4,201.3 366.5,201.3 366.6,201.3 366.7,201.3 366.7,201.3 366.8,201.3 366.9,201.3 367.0,201.3 367.1,201.3 367.2,201.3 367.3,201.3 367.4,201.3 367.4,201.3 367.5,201.3 367.6,201.3 367.7,201.3 367.8,201.3 367.9,201.3 368.0,201.3 368.1,201.3 368.2,201.3 368.2,201.3 368.3,201.3 368.4,201.3 368.5,201.3 368.6,201.3 368.7,201.3 368.8,201.3 368.9,201.3 369.0,201.3 369.0,201.3 369.1,201.3 369.2,201.3 369.3,201.3 369.4,201.3 369.5,201.3 369.6,201.3 369.7,201.3 369.8,201.3 369.8,201.3 369.9,201.3 370.0,201.3 370.1,201.3 370.2,201.3 370.3,201.3 370.4,201.3 370.5,201.3 370.5,201.3 370.6,201.3 370.7,201.3 370.8,201.3 370.9,201.3 371.0,201.3 371.1,201.3 371.2,201.3 371.3,201.3 371.3,201.3 371.4,201.3 371.5,201.3 371.6,201.3 371.7,201.3 371.8,201.3 371.9,201.3 372.0,201.3 372.1,201.3 372.1,201.3 372.2,201.3 372.3,201.3 372.4,201.3 372.5,201.3 372.6,201.3 372.7,201.3 372.8,201.3 372.8,201.3 372.9,201.3 373.0,201.3 373.1,201.3 373.2,201.3 373.3,201.3 373.4,201.3 373.5,201.3 373.6,201.3 373.6,201.3 373.7,201.3 373.8,201.3 373.9,201.3 374.0,201.3 374.1,201.3 374.2,201.3 374.3,201.3 374.4,201.3 374.4,201.3 374.5,201.3 374.6,201.3 374.7,201.3 374.8,201.3 374.9,201.3 375.0,201.3 375.1,201.3 375.2,201.3 375.2,201.3 375.3,201.3 375.4,201.3 375.5,201.3 375.6,201.3 375.7,201.3 375.8,201.3 375.9,201.3 375.9,201.3 376.0,201.4 376.1,201.4 376.2,201.4 376.3,201.4 376.4,201.4 376.5,201.4 376.6,201.4 376.7,201.4 376.7,201.4 376.8,201.4 376.9,201.4 377.0,201.4 377.1,201.4 377.2,201.4 377.3,201.4 377.4,201.4 377.5,201.4 377.5,201.4 377.6,201.4 377.7,201.4 377.8,201.4 377.9,201.4 378.0,201.4 378.1,201.4 378.2,201.4 378.3,201.4 378.3,201.4 378.4,201.4 378.5,201.4 378.6,201.4 378.7,201.4 378.8,201.4 378.9,201.4 379.0,201.4 379.0,201.4 379.1,201.4 379.2,201.4 379.3,201.4 379.4,201.4 379.5,201.4 379.6,201.4 379.7,201.4 379.8,201.4 379.8,201.4 379.9,201.4 380.0,201.4 380.1,201.4 380.2,201.4 380.3,201.4 380.4,201.4 380.5,201.4 380.6,201.4 380.6,201.4 380.7,201.4 380.8,201.4 380.9,201.4 381.0,201.4 381.1,201.4 381.2,201.4 381.3,201.4 381.3,201.4 381.4,201.4 381.5,201.4 381.6,201.4 381.7,201.4 381.8,201.4 381.9,201.4 382.0,201.4 382.1,201.4 382.1,201.4 382.2,201.4 382.3,201.4 382.4,201.4 382.5,201.4 382.6,201.4 382.7,201.4 382.8,201.4 382.9,201.4 382.9,201.4 383.0,201.4 383.1,201.4 383.2,201.4 383.3,201.4 383.4,201.4 383.5,201.4 383.6,201.4 383.7,201.4 383.7,201.4 383.8,201.4 383.9,201.4 384.0,201.4 384.1,201.4 384.2,201.4 384.3,201.4 384.4,201.4 384.4,201.4 384.5,201.4 384.6,201.4 384.7,201.4 384.8,201.4 384.9,201.4 385.0,201.4 385.1,201.4 385.2,201.4 385.2,201.4 385.3,201.4 385.4,201.4 385.5,201.4 385.6,201.4 385.7,201.4 385.8,201.4 385.9,201.4 386.0,201.4 386.0,201.4 386.1,201.4 386.2,201.4 386.3,201.4 386.4,201.4 386.5,201.4 386.6,201.4 386.7,201.4 386.7,201.4 386.8,201.4 386.9,201.4 387.0,201.4 387.1,201.4 387.2,201.4 387.3,201.4 387.4,201.4 387.5,201.4 387.5,201.4 387.6,201.4 387.7,201.4 387.8,201.4 387.9,201.4 388.0,201.4 388.1,201.4 388.2,201.4 388.3,201.4 388.3,201.4 388.4,201.4 388.5,201.4 388.6,201.4 388.7,201.4 388.8,201.4 388.9,201.4 389.0,201.4 389.1,201.4 389.1,201.4 389.2,201.4 389.3,201.4 389.4,201.4 389.5,201.4 389.6,201.4 389.7,201.4 389.8,201.4 389.8,201.4 389.9,201.4 390.0,201.4 390.1,201.4 390.2,201.4 390.3,201.4 390.4,201.4 390.5,201.4 390.6,201.4 390.6,201.4 390.7,201.4 390.8,201.4 390.9,201.4 391.0,201.4 391.1,201.4 391.2,201.4 391.3,201.4 391.4,201.4 391.4,201.4 391.5,201.4 391.6,201.4 391.7,201.4 391.8,201.4 391.9,201.4 392.0,201.4 392.1,201.4 392.2,201.4 392.2,201.4 392.3,201.4 392.4,201.4 392.5,201.4 392.6,201.4 392.7,201.4 392.8,201.4 392.9,201.4 392.9,201.4 393.0,201.4 393.1,201.4 393.2,201.4 393.3,201.4 393.4,201.4 393.5,201.4 393.6,201.4 393.7,201.4 393.7,201.4 393.8,201.4 393.9,201.4 394.0,201.4 394.1,201.4 394.2,201.4 394.3,201.4 394.4,201.4 394.5,201.4 394.5,201.4 394.6,201.4 394.7,201.4 394.8,201.4 394.9,201.4 395.0,201.4 395.1,201.4 395.2,201.4 395.2,201.4 395.3,201.4 395.4,201.4 395.5,201.4 395.6,201.4 395.7,201.4 395.8,201.4 395.9,201.4 396.0,201.4 396.0,201.4 396.1,201.4 396.2,201.4 396.3,201.4 396.4,201.4 396.5,201.4 396.6,201.4 396.7,201.4 396.8,201.4 396.8,201.4 396.9,201.4 397.0,201.4 397.1,201.4 397.2,201.4 397.3,201.4 397.4,201.4 397.5,201.4 397.6,201.4 397.6,201.4 397.7,201.4 397.8,201.4 397.9,201.4 398.0,201.4 398.1,201.4 398.2,201.4 398.3,201.4 398.3,201.4 398.4,201.4 398.5,201.4 398.6,201.4 398.7,201.4 398.8,201.4 398.9,201.4 399.0,201.4 399.1,201.4 399.1,201.4 399.2,201.4 399.3,201.4 399.4,201.4 399.5,201.4 399.6,201.4 399.7,201.4 399.8,201.4 399.9,201.4 399.9,201.4 400.0,201.4 400.1,201.4 400.2,201.4 400.3,201.4 400.4,201.4 400.5,201.4 400.6,201.4 400.6,201.4 400.7,201.4 400.8,201.4 400.9,201.4 401.0,201.4 401.1,201.4 401.2,201.4 401.3,201.4 401.4,201.4 401.4,201.4 401.5,201.4 401.6,201.4 401.7,201.4 401.8,201.4 401.9,201.4 402.0,201.4 402.1,201.4 402.2,201.4 402.2,201.4 402.3,201.4 402.4,201.4 402.5,201.4 402.6,201.4 402.7,201.4 402.8,201.4 402.9,201.4 403.0,201.4 403.0,201.4 403.1,201.4 403.2,201.4 403.3,201.4 403.4,201.4 403.5,201.4 403.6,201.4 403.7,201.4 403.7,201.4 403.8,201.4 403.9,201.4 404.0,201.4 404.1,201.4 404.2,201.4 404.3,201.4 404.4,201.4 404.5,201.4 404.5,201.4 404.6,201.4 404.7,201.4 404.8,201.4 404.9,201.4 405.0,201.4 405.1,201.4 405.2,201.4 405.3,201.4 405.3,201.4 405.4,201.4 405.5,201.4 405.6,201.4 405.7,201.4 405.8,201.4 405.9,201.4 406.0,201.4 406.1,201.4 406.1,201.4 406.2,201.4 406.3,201.4 406.4,201.4 406.5,201.4 406.6,201.4 406.7,201.4 406.8,201.4 406.8,201.4 406.9,201.4 407.0,201.4 407.1,201.4 407.2,201.4 407.3,201.4 407.4,201.4 407.5,201.3 407.6,201.3 407.6,201.3 407.7,201.3 407.8,201.3 407.9,201.3 408.0,201.3 408.1,201.3 408.2,201.3 408.3,201.3 408.4,201.3 408.4,201.3 408.5,201.3 408.6,201.3 408.7,201.3 408.8,201.3 408.9,201.3 409.0,201.3 409.1,201.3 409.1,201.3 409.2,201.3 409.3,201.3 409.4,201.3 409.5,201.3 409.6,201.3 409.7,201.3 409.8,201.3 409.9,201.3 409.9,201.3 410.0,201.3 410.1,201.3 410.2,201.3 410.3,201.3 410.4,201.3 410.5,201.3 410.6,201.3 410.7,201.3 410.7,201.3 410.8,201.3 410.9,201.3 411.0,201.3 411.1,201.3 411.2,201.3 411.3,201.3 411.4,201.3 411.5,201.3 411.5,201.3 411.6,201.3 411.7,201.3 411.8,201.3 411.9,201.3 412.0,201.3 412.1,201.3 412.2,201.3 412.2,201.3 412.3,201.3 412.4,201.3 412.5,201.3 412.6,201.3 412.7,201.3 412.8,201.3 412.9,201.3 413.0,201.3 413.0,201.3 413.1,201.3 413.2,201.3 413.3,201.3 413.4,201.3 413.5,201.3 413.6,201.3 413.7,201.3 413.8,201.3 413.8,201.3 413.9,201.3 414.0,201.3 414.1,201.3 414.2,201.3 414.3,201.3 414.4,201.3 414.5,201.3 414.6,201.3 414.6,201.3 414.7,201.3 414.8,201.3 414.9,201.3 415.0,201.3 415.1,201.3 415.2,201.3 415.3,201.3 415.3,201.3 415.4,201.2 415.5,201.2 415.6,201.2 415.7,201.2 415.8,201.2 415.9,201.2 416.0,201.2 416.1,201.2 416.1,201.2 416.2,201.2 416.3,201.2 416.4,201.2 416.5,201.2 416.6,201.2 416.7,201.2 416.8,201.2 416.9,201.2 416.9,201.2 417.0,201.2 417.1,201.2 417.2,201.2 417.3,201.2 417.4,201.2 417.5,201.1 417.6,201.1 417.6,201.1 417.7,201.1 417.8,201.1 417.9,201.1 418.0,201.1 418.1,201.1 418.2,201.1 418.3,201.1 418.4,201.1 418.4,201.0 418.5,201.0 418.6,201.0 418.7,201.0 418.8,201.0 418.9,201.0 419.0,201.0 419.1,201.0 419.2,200.9 419.2,200.9 419.3,200.9 419.4,200.9 419.5,200.9 419.6,200.8 419.7,200.8 419.8,200.8 419.9,200.8 420.0,200.7 420.0,200.7 420.1,200.7 420.2,200.6 420.3,200.6 420.4,200.6 420.5,200.5 420.6,200.5 420.7,200.4 420.7,200.4 420.8,200.3 420.9,200.2 421.0,200.2 421.1,200.1 421.2,200.0 421.3,199.9 421.4,199.7 421.5,199.6 421.5,199.4 421.6,199.2 421.7,198.9 421.8,198.5 421.9,198.0 422.0,197.4 422.1,196.7 422.2,195.8 422.3,194.6 422.3,193.1 422.4,191.4 422.5,189.3 422.6,186.9 422.7,184.1 422.8,180.9 422.9,177.4 423.0,173.7 423.0,169.7 423.1,165.7 423.2,161.7 423.3,157.9 423.4,154.5 423.5,151.8 423.6,149.9 423.7,148.9 423.8,149.0 423.8,150.1 423.9,152.2 424.0,155.0 424.1,158.4 424.2,162.3 424.3,166.3 424.4,170.3 424.5,174.2 424.6,178.0 424.6,181.4 424.7,184.5 424.8,187.3 424.9,189.7 425.0,191.7 425.1,193.4 425.2,194.8 425.3,195.9 425.4,196.8 425.4,197.5 425.5,198.1 425.6,198.6 425.7,198.9 425.8,199.2 425.9,199.4 426.0,199.6 426.1,199.8 426.1,199.9 426.2,200.0 426.3,200.1 426.4,200.2 426.5,200.2 426.6,200.3 426.7,200.4 426.8,200.4 426.9,200.5 426.9,200.5 427.0,200.6 427.1,200.6 427.2,200.6 427.3,200.7 427.4,200.7 427.5,200.7 427.6,200.8 427.7,200.8 427.7,200.8 427.8,200.8 427.9,200.9 428.0,200.9 428.1,200.9 428.2,200.9 428.3,200.9 428.4,201.0 428.5,201.0 428.5,201.0 428.6,201.0 428.7,201.0 428.8,201.0 428.9,201.0 429.0,201.0 429.1,201.1 429.2,201.1 429.2,201.1 429.3,201.1 429.4,201.1 429.5,201.1 429.6,201.1 429.7,201.1 429.8,201.1 429.9,201.1 430.0,201.1 430.0,201.2 430.1,201.2 430.2,201.2 430.3,201.2 430.4,201.2 430.5,201.2 430.6,201.2 430.7,201.2 430.8,201.2 430.8,201.2 430.9,201.2 431.0,201.2 431.1,201.2 431.2,201.2 431.3,201.2 431.4,201.2 431.5,201.2 431.5,201.2 431.6,201.2 431.7,201.2 431.8,201.2 431.9,201.2 432.0,201.2 432.1,201.3 432.2,201.3 432.3,201.3 432.3,201.3 432.4,201.3 432.5,201.3 432.6,201.3 432.7,201.3 432.8,201.3 432.9,201.3 433.0,201.3 433.1,201.3 433.1,201.3 433.2,201.3 433.3,201.3 433.4,201.3 433.5,201.3 433.6,201.3 433.7,201.3 433.8,201.3 433.9,201.3 433.9,201.3 434.0,201.3 434.1,201.3 434.2,201.3 434.3,201.3 434.4,201.3 434.5,201.3 434.6,201.3 434.6,201.3 434.7,201.3 434.8,201.3 434.9,201.3 435.0,201.3 435.1,201.3 435.2,201.3 435.3,201.3 435.4,201.3 435.4,201.3 435.5,201.3 435.6,201.3 435.7,201.3 435.8,201.3 435.9,201.3 436.0,201.3 436.1,201.3 436.2,201.3 436.2,201.3 436.3,201.3 436.4,201.3 436.5,201.3 436.6,201.3 436.7,201.3 436.8,201.3 436.9,201.3 436.9,201.3 437.0,201.3 437.1,201.3 437.2,201.3 437.3,201.3 437.4,201.3 437.5,201.3 437.6,201.3 437.7,201.3 437.7,201.3 437.8,201.3 437.9,201.3 438.0,201.3 438.1,201.3 438.2,201.3 438.3,201.3 438.4,201.3 438.5,201.3 438.5,201.3 438.6,201.3 438.7,201.3 438.8,201.3 438.9,201.3 439.0,201.3 439.1,201.3 439.2,201.3 439.3,201.3 439.3,201.3 439.4,201.3 439.5,201.3 439.6,201.3 439.7,201.3 439.8,201.3 439.9,201.3 440.0,201.3 440.0,201.3 440.1,201.3 440.2,201.3 440.3,201.3 440.4,201.3 440.5,201.3 440.6,201.3 440.7,201.3 440.8,201.3 440.8,201.3 440.9,201.3 441.0,201.3 441.1,201.3 441.2,201.3 441.3,201.3 441.4,201.3 441.5,201.4 441.6,201.4 441.6,201.4 441.7,201.4 441.8,201.4 441.9,201.4 442.0,201.4 442.1,201.4 442.2,201.4 442.3,201.4 442.4,201.4 442.4,201.4 442.5,201.4 442.6,201.4 442.7,201.4 442.8,201.4 442.9,201.4 443.0,201.4 443.1,201.4 443.1,201.4 443.2,201.4 443.3,201.4 443.4,201.4 443.5,201.4 443.6,201.4 443.7,201.4 443.8,201.4 443.9,201.4 443.9,201.4 444.0,201.4 444.1,201.4 444.2,201.4 444.3,201.4 444.4,201.4 444.5,201.4 444.6,201.4 444.7,201.4 444.7,201.4 444.8,201.4 444.9,201.4 445.0,201.4 445.1,201.4 445.2,201.4 445.3,201.4 445.4,201.4 445.4,201.4 445.5,201.4 445.6,201.4 445.7,201.4 445.8,201.4 445.9,201.4 446.0,201.4 446.1,201.4 446.2,201.4 446.2,201.4 446.3,201.4 446.4,201.4 446.5,201.4 446.6,201.4 446.7,201.4 446.8,201.4 446.9,201.4 447.0,201.4 447.0,201.4 447.1,201.4 447.2,201.4 447.3,201.4 447.4,201.4 447.5,201.4 447.6,201.4 447.7,201.4 447.8,201.4 447.8,201.4 447.9,201.4 448.0,201.4 448.1,201.4 448.2,201.4 448.3,201.4 448.4,201.4 448.5,201.4 448.5,201.4 448.6,201.4 448.7,201.4 448.8,201.4 448.9,201.4 449.0,201.4 449.1,201.4 449.2,201.4 449.3,201.4 449.3,201.4 449.4,201.4 449.5,201.4 449.6,201.4 449.7,201.4 449.8,201.4 449.9,201.4 450.0,201.4 450.1,201.4 450.1,201.4 450.2,201.4 450.3,201.4 450.4,201.4 450.5,201.4 450.6,201.4 450.7,201.4 450.8,201.4 450.9,201.4 450.9,201.3 451.0,201.3 451.1,201.3 451.2,201.3 451.3,201.3 451.4,201.3 451.5,201.3 451.6,201.3 451.6,201.3 451.7,201.3 451.8,201.3 451.9,201.3 452.0,201.3 452.1,201.3 452.2,201.3 452.3,201.3 452.4,201.3 452.4,201.3 452.5,201.3 452.6,201.3 452.7,201.3 452.8,201.3 452.9,201.3 453.0,201.3 453.1,201.3 453.2,201.3 453.2,201.3 453.3,201.3 453.4,201.3 453.5,201.3 453.6,201.3 453.7,201.3 453.8,201.3 453.9,201.3 453.9,201.3 454.0,201.3 454.1,201.3 454.2,201.3 454.3,201.3 454.4,201.3 454.5,201.3 454.6,201.3 454.7,201.3 454.7,201.3 454.8,201.3 454.9,201.3 455.0,201.3 455.1,201.3 455.2,201.3 455.3,201.3 455.4,201.3 455.5,201.3 455.5,201.3 455.6,201.3 455.7,201.3 455.8,201.3 455.9,201.3 456.0,201.3 456.1,201.3 456.2,201.3 456.3,201.3 456.3,201.3 456.4,201.3 456.5,201.3 456.6,201.3 456.7,201.3 456.8,201.3 456.9,201.3 457.0,201.3 457.0,201.3 457.1,201.3 457.2,201.3 457.3,201.3 457.4,201.3 457.5,201.3 457.6,201.3 457.7,201.3 457.8,201.3 457.8,201.3 457.9,201.3 458.0,201.3 458.1,201.3 458.2,201.3 458.3,201.3 458.4,201.3 458.5,201.3 458.6,201.3 458.6,201.3 458.7,201.3 458.8,201.3 458.9,201.3 459.0,201.3 459.1,201.3 459.2,201.3 459.3,201.3 459.3,201.3 459.4,201.3 459.5,201.3 459.6,201.3 459.7,201.3 459.8,201.3 459.9,201.3 460.0,201.3 460.1,201.3 460.1,201.3 460.2,201.3 460.3,201.3 460.4,201.3 460.5,201.2 460.6,201.2 460.7,201.2 460.8,201.2 460.9,201.2 460.9,201.2 461.0,201.2 461.1,201.2 461.2,201.2 461.3,201.2 461.4,201.2 461.5,201.2 461.6,201.2 461.7,201.2 461.7,201.2 461.8,201.2 461.9,201.2 462.0,201.2 462.1,201.2 462.2,201.2 462.3,201.2 462.4,201.2 462.4,201.2 462.5,201.2 462.6,201.1 462.7,201.1 462.8,201.1 462.9,201.1 463.0,201.1 463.1,201.1 463.2,201.1 463.2,201.1 463.3,201.1 463.4,201.1 463.5,201.1 463.6,201.1 463.7,201.1 463.8,201.0 463.9,201.0 464.0,201.0 464.0,201.0 464.1,201.0 464.2,201.0 464.3,201.0 464.4,200.9 464.5,200.9 464.6,200.9 464.7,200.9 464.8,200.9 464.8,200.9 464.9,200.8 465.0,200.8 465.1,200.8 465.2,200.8 465.3,200.7 465.4,200.7 465.5,200.7 465.5,200.6 465.6,200.6 465.7,200.6 465.8,200.5 465.9,200.5 466.0,200.4 466.1,200.4 466.2,200.3 466.3,200.3 466.3,200.2 466.4,200.1 466.5,200.0 466.6,199.9 466.7,199.8 466.8,199.7 466.9,199.6 467.0,199.4 467.1,199.2 467.1,198.9 467.2,198.6 467.3,198.2 467.4,197.7 467.5,197.0 467.6,196.1 467.7,195.1 467.8,193.7 467.8,192.1 467.9,190.2 468.0,187.8 468.1,185.1 468.2,182.0 468.3,178.5 468.4,174.7 468.5,170.6 468.6,166.3 468.6,161.9 468.7,157.7 468.8,153.7 468.9,150.2 469.0,147.4 469.1,145.5 469.2,144.7 469.3,145.0 469.4,146.5 469.4,148.9 469.5,152.1 469.6,155.9 469.7,160.1 469.8,164.5 469.9,168.8 470.0,173.0 470.1,177.0 470.2,180.6 470.2,183.9 470.3,186.7 470.4,189.2 470.5,191.3 470.6,193.1 470.7,194.5 470.8,195.7 470.9,196.6 470.9,197.4 471.0,198.0 471.1,198.4 471.2,198.8 471.3,199.1 471.4,199.3 471.5,199.5 471.6,199.7 471.7,199.8 471.7,199.9 471.8,200.0 471.9,200.1 472.0,200.2 472.1,200.2 472.2,200.3 472.3,200.4 472.4,200.4 472.5,200.5 472.5,200.5 472.6,200.5 472.7,200.6 472.8,200.6 472.9,200.7 473.0,200.7 473.1,200.7 473.2,200.7 473.3,200.8 473.3,200.8 473.4,200.8 473.5,200.8 473.6,200.9 473.7,200.9 473.8,200.9 473.9,200.9 474.0,200.9 474.0,200.9 474.1,201.0 474.2,201.0 474.3,201.0 474.4,201.0 474.5,201.0 474.6,201.0 474.7,201.0 474.8,201.0 474.8,201.0 474.9,201.1 475.0,201.1 475.1,201.1 475.2,201.1 475.3,201.1 475.4,201.1 475.5,201.1 475.6,201.1 475.6,201.1 475.7,201.1 475.8,201.1 475.9,201.1 476.0,201.1 476.1,201.1 476.2,201.1 476.3,201.2 476.3,201.2 476.4,201.2 476.5,201.2 476.6,201.2 476.7,201.2 476.8,201.2 476.9,201.2 477.0,201.2 477.1,201.2 477.1,201.2 477.2,201.2 477.3,201.2 477.4,201.2 477.5,201.2 477.6,201.2 477.7,201.2 477.8,201.2 477.9,201.2 477.9,201.2 478.0,201.2 478.1,201.2 478.2,201.2 478.3,201.2 478.4,201.2 478.5,201.2 478.6,201.2 478.7,201.2 478.7,201.2 478.8,201.2 478.9,201.2 479.0,201.2 479.1,201.2 479.2,201.2 479.3,201.2 479.4,201.2 479.4,201.2 479.5,201.2 479.6,201.2 479.7,201.2 479.8,201.2 479.9,201.2 480.0,201.2 480.1,201.2 480.2,201.2 480.2,201.2 480.3,201.2 480.4,201.2 480.5,201.2 480.6,201.2 480.7,201.2 480.8,201.1 480.9,201.1 481.0,201.1 481.0,201.1 481.1,201.1 481.2,201.1 481.3,201.1 481.4,201.1 481.5,201.1 481.6,201.1 481.7,201.1 481.7,201.0 481.8,201.0 481.9,201.0 482.0,201.0 482.1,201.0 482.2,200.9 482.3,200.9 482.4,200.9 482.5,200.8 482.5,200.8 482.6,200.7 482.7,200.7 482.8,200.6 482.9,200.4 483.0,200.3 483.1,200.1 483.2,199.9 483.3,199.6 483.3,199.2 483.4,198.8 483.5,198.2 483.6,197.6 483.7,196.8 483.8,196.0 483.9,195.0 484.0,193.9 484.1,192.8 484.1,191.6 484.2,190.4 484.3,189.2 484.4,188.2 484.5,187.2 484.6,186.5 484.7,186.0 484.8,185.8 484.8,185.9 484.9,186.3 485.0,187.0 485.1,187.9 485.2,188.9 485.3,190.1 485.4,191.3 485.5,192.5 485.6,193.6 485.6,194.7 485.7,195.7 485.8,196.6 485.9,197.4 486.0,198.1 486.1,198.6 486.2,199.1 486.3,199.5 486.4,199.8 486.4,200.1 486.5,200.3 486.6,200.4 486.7,200.6 486.8,200.7 486.9,200.7 487.0,200.8 487.1,200.9 487.2,200.9 487.2,200.9 487.3,201.0 487.4,201.0 487.5,201.0 487.6,201.0 487.7,201.1 487.8,201.1 487.9,201.1 487.9,201.1 488.0,201.1 488.1,201.1 488.2,201.1 488.3,201.2 488.4,201.2 488.5,201.2 488.6,201.2 488.7,201.2 488.7,201.2 488.8,201.2 488.9,201.2 489.0,201.2 489.1,201.2 489.2,201.2 489.3,201.2 489.4,201.2 489.5,201.2 489.5,201.2 489.6,201.3 489.7,201.3 489.8,201.3 489.9,201.3 490.0,201.3 490.1,201.3 490.2,201.3 490.2,201.3 490.3,201.3 490.4,201.3 490.5,201.3 490.6,201.3 490.7,201.3 490.8,201.3 490.9,201.3 491.0,201.3 491.0,201.3 491.1,201.3 491.2,201.3 491.3,201.3 491.4,201.3 491.5,201.3 491.6,201.3 491.7,201.3 491.8,201.3 491.8,201.3 491.9,201.3 492.0,201.3 492.1,201.3 492.2,201.3 492.3,201.3 492.4,201.3 492.5,201.3 492.6,201.3 492.6,201.3 492.7,201.3 492.8,201.3 492.9,201.3 493.0,201.3 493.1,201.3 493.2,201.3 493.3,201.3 493.3,201.3 493.4,201.3 493.5,201.3 493.6,201.3 493.7,201.3 493.8,201.3 493.9,201.3 494.0,201.3 494.1,201.3 494.1,201.3 494.2,201.3 494.3,201.3 494.4,201.3 494.5,201.4 494.6,201.4 494.7,201.4 494.8,201.4 494.9,201.4 494.9,201.4 495.0,201.4 495.1,201.4 495.2,201.4 495.3,201.4 495.4,201.4 495.5,201.4 495.6,201.4 495.6,201.4 495.7,201.4 495.8,201.4 495.9,201.4 496.0,201.4 496.1,201.4 496.2,201.4 496.3,201.4 496.4,201.4 496.4,201.4 496.5,201.4 496.6,201.4 496.7,201.4 496.8,201.4 496.9,201.4 497.0,201.4 497.1,201.4 497.2,201.4 497.2,201.4 497.3,201.4 497.4,201.4 497.5,201.4 497.6,201.4 497.7,201.4 497.8,201.4 497.9,201.4 498.0,201.4 498.0,201.4 498.1,201.4 498.2,201.4 498.3,201.4 498.4,201.4 498.5,201.4 498.6,201.4 498.7,201.4 498.7,201.4 498.8,201.4 498.9,201.4 499.0,201.4 499.1,201.4 499.2,201.4 499.3,201.4 499.4,201.4 499.5,201.4 499.5,201.4 499.6,201.4 499.7,201.4 499.8,201.4 499.9,201.4 500.0,201.4 500.1,201.4 500.2,201.4 500.3,201.4 500.3,201.4 500.4,201.4 500.5,201.4 500.6,201.4 500.7,201.4 500.8,201.4 500.9,201.4 501.0,201.4 501.1,201.4 501.1,201.4 501.2,201.4 501.3,201.4 501.4,201.4 501.5,201.4 501.6,201.4 501.7,201.4 501.8,201.4 501.8,201.4 501.9,201.4 502.0,201.4 502.1,201.4 502.2,201.4 502.3,201.4 502.4,201.4 502.5,201.4 502.6,201.4 502.6,201.4 502.7,201.4 502.8,201.4 502.9,201.4 503.0,201.4 503.1,201.4 503.2,201.4 503.3,201.4 503.4,201.4 503.4,201.4 503.5,201.4 503.6,201.4 503.7,201.4 503.8,201.4 503.9,201.4 504.0,201.4 504.1,201.4 504.1,201.4 504.2,201.4 504.3,201.4 504.4,201.4 504.5,201.4 504.6,201.4 504.7,201.4 504.8,201.4 504.9,201.4 504.9,201.4 505.0,201.4 505.1,201.4 505.2,201.4 505.3,201.4 505.4,201.4 505.5,201.4 505.6,201.4 505.7,201.4 505.7,201.4 505.8,201.4 505.9,201.4 506.0,201.4 506.1,201.4 506.2,201.4 506.3,201.4 506.4,201.4 506.5,201.4 506.5,201.4 506.6,201.4 506.7,201.4 506.8,201.4 506.9,201.4 507.0,201.4 507.1,201.4 507.2,201.4 507.2,201.4 507.3,201.4 507.4,201.4 507.5,201.4 507.6,201.4 507.7,201.4 507.8,201.4 507.9,201.4 508.0,201.4 508.0,201.4 508.1,201.4 508.2,201.4 508.3,201.4 508.4,201.4 508.5,201.4 508.6,201.4 508.7,201.4 508.8,201.4 508.8,201.4 508.9,201.4 509.0,201.4 509.1,201.4 509.2,201.4 509.3,201.4 509.4,201.4 509.5,201.4 509.6,201.4 509.6,201.4 509.7,201.4 509.8,201.4 509.9,201.4 510.0,201.4 510.1,201.4 510.2,201.4 510.3,201.4 510.3,201.4 510.4,201.4 510.5,201.4 510.6,201.4 510.7,201.4 510.8,201.4 510.9,201.4 511.0,201.4 511.1,201.4 511.1,201.4 511.2,201.4 511.3,201.4 511.4,201.4 511.5,201.4 511.6,201.4 511.7,201.4 511.8,201.4 511.9,201.4 511.9,201.4 512.0,201.4 512.1,201.4 512.2,201.4 512.3,201.4 512.4,201.4 512.5,201.4 512.6,201.4 512.6,201.4 512.7,201.4 512.8,201.4 512.9,201.4 513.0,201.4 513.1,201.4 513.2,201.4 513.3,201.4 513.4,201.4 513.4,201.4 513.5,201.4 513.6,201.4 513.7,201.4 513.8,201.4"/>
<polyline fill="none" stroke="#1a1ae0" stroke-width="1.8" stroke-dasharray="1.7 2.0" points="301.4,201.4 301.5,201.4 301.6,201.4 301.7,201.4 301.8,201.4 301.8,201.4 301.9,201.4 302.0,201.4 302.1,201.4 302.2,201.4 302.3,201.4 302.4,201.4 302.5,201.4 302.6,201.4 302.6,201.4 302.7,201.4 302.8,201.4 302.9,201.4 303.0,201.4 303.1,201.4 303.2,201.4 303.3,201.4 303.3,201.4 303.4,201.4 303.5,201.4 303.6,201.4 303.7,201.4 303.8,201.4 303.9,201.4 304.0,201.4 304.1,201.4 304.1,201.4 304.2,201.4 304.3,201.4 304.4,201.4 304.5,201.4 304.6,201.4 304.7,201.4 304.8,201.4 304.9,201.4 304.9,201.4 305.0,201.4 305.1,201.4 305.2,201.4 305.3,201.4 305.4,201.4 305.5,201.4 305.6,201.4 305.6,201.4 305.7,201.4 305.8,201.4 305.9,201.4 306.0,201.4 306.1,201.4 306.2,201.4 306.3,201.4 306.4,201.4 306.4,201.4 306.5,201.4 306.6,201.4 306.7,201.4 306.8,201.4 306.9,201.4 307.0,201.4 307.1,201.4 307.2,201.4 307.2,201.4 307.3,201.4 307.4,201.4 307.5,201.4 307.6,201.4 307.7,201.4 307.8,201.4 307.9,201.4 308.0,201.4 308.0,201.4 308.1,201.4 308.2,201.4 308.3,201.4 308.4,201.4 308.5,201.4 308.6,201.4 308.7,201.4 308.7,201.4 308.8,201.4 308.9,201.4 309.0,201.4 309.1,201.4 309.2,201.4 309.3,201.4 309.4,201.4 309.5,201.4 309.5,201.4 309.6,201.4 309.7,201.4 309.8,201.4 309.9,201.4 310.0,201.4 310.1,201.4 310.2,201.4 310.3,201.4 310.3,201.4 310.4,201.4 310.5,201.4 310.6,201.4 310.7,201.4 310.8,201.4 310.9,201.4 311.0,201.4 311.1,201.4 311.1,201.4 311.2,201.4 311.3,201.4 311.4,201.4 311.5,201.4 311.6,201.4 311.7,201.4 311.8,201.4 311.8,201.4 311.9,201.4 312.0,201.4 312.1,201.4 312.2,201.4 312.3,201.4 312.4,201.4 312.5,201.4 312.6,201.4 312.6,201.4 312.7,201.4 312.8,201.4 312.9,201.4 313.0,201.4 313.1,201.4 313.2,201.4 313.3,201.4 313.4,201.4 313.4,201.4 313.5,201.4 313.6,201.4 313.7,201.4 313.8,201.4 313.9,201.4 314.0,201.4 314.1,201.4 314.1,201.4 314.2,201.4 314.3,201.4 314.4,201.4 314.5,201.4 314.6,201.4 314.7,201.4 314.8,201.4 314.9,201.4 314.9,201.4 315.0,201.4 315.1,201.4 315.2,201.4 315.3,201.4 315.4,201.4 315.5,201.4 315.6,201.4 315.7,201.4 315.7,201.4 315.8,201.4 315.9,201.4 316.0,201.4 316.1,201.4 316.2,201.4 316.3,201.4 316.4,201.4 316.5,201.4 316.5,201.4 316.6,201.4 316.7,201.4 316.8,201.4 316.9,201.4 317.0,201.4 317.1,201.4 317.2,201.4 317.2,201.4 317.3,201.4 317.4,201.4 317.5,201.4 317.6,201.4 317.7,201.4 317.8,201.4 317.9,201.4 318.0,201.4 318.0,201.4 318.1,201.4 318.2,201.4 318.3,201.4 318.4,201.4 318.5,201.4 318.6,201.4 318.7,201.4 318.8,201.4 318.8,201.4 318.9,201.4 319.0,201.4 319.1,201.4 319.2,201.4 319.3,201.4 319.4,201.4 319.5,201.4 319.6,201.4 319.6,201.4 319.7,201.4 319.8,201.4 319.9,201.4 320.0,201.4 320.1,201.4 320.2,201.4 320.3,201.4 320.3,201.4 320.4,201.4 320.5,201.4 320.6,201.4 320.7,201.4 320.8,201.4 320.9,201.4 321.0,201.4 321.1,201.4 321.1,201.4 321.2,201.4 321.3,201.4 321.4,201.4 321.5,201.4 321.6,201.4 321.7,201.4 321.8,201.4 321.9,201.4 321.9,201.4 322.0,201.4 322.1,201.4 322.2,201.4 322.3,201.4 322.4,201.4 322.5,201.4 322.6,201.4 322.6,201.4 322.7,201.4 322.8,201.4 322.9,201.4 323.0,201.4 323.1,201.4 323.2,201.4 323.3,201.4 323.4,201.4 323.4,201.4 323.5,201.4 323.6,201.4 323.7,201.4 323.8,201.4 323.9,201.4 324.0,201.4 324.1,201.4 324.2,201.4 324.2,201.4 324.3,201.4 324.4,201.4 324.5,201.4 324.6,201.4 324.7,201.4 324.8,201.4 324.9,201.4 325.0,201.4 325.0,201.4 325.1,201.4 325.2,201.4 325.3,201.4 325.4,201.4 325.5,201.4 325.6,201.4 325.7,201.4 325.7,201.4 325.8,201.4 325.9,201.4 326.0,201.4 326.1,201.4 326.2,201.4 326.3,201.4 326.4,201.4 326.5,201.4 326.5,201.4 326.6,201.4 326.7,201.4 326.8,201.4 326.9,201.4 327.0,201.4 327.1,201.4 327.2,201.4 327.3,201.4 327.3,201.4 327.4,201.4 327.5,201.4 327.6,201.4 327.7,201.4 327.8,201.4 327.9,201.4 328.0,201.4 328.0,201.4 328.1,201.4 328.2,201.4 328.3,201.4 328.4,201.4 328.5,201.4 328.6,201.4 328.7,201.4 328.8,201.4 328.8,201.4 328.9,201.4 329.0,201.4 329.1,201.4 329.2,201.4 329.3,201.4 329.4,201.4 329.5,201.4 329.6,201.4 329.6,201.4 329.7,201.4 329.8,201.4 329.9,201.4 330.0,201.4 330.1,201.4 330.2,201.4 330.3,201.4 330.4,201.4 330.4,201.4 330.5,201.4 330.6,201.4 330.7,201.4 330.8,201.4 330.9,201.4 331.0,201.4 331.1,201.4 331.1,201.4 331.2,201.4 331.3,201.4 331.4,201.4 331.5,201.4 331.6,201.4 331.7,201.4 331.8,201.4 331.9,201.4 331.9,201.4 332.0,201.4 332.1,201.4 332.2,201.4 332.3,201.4 332.4,201.4 332.5,201.4 332.6,201.4 332.7,201.4 332.7,201.4 332.8,201.4 332.9,201.4 333.0,201.3 333.1,201.3 333.2,201.3 333.3,201.3 333.4,201.2 333.5,201.1 333.5,201.1 333.6,201.0 333.7,200.8 333.8,200.7 333.9,200.5 334.0,200.2 334.1,199.9 334.2,199.5 334.2,199.0 334.3,198.4 334.4,197.7 334.5,196.9 334.6,195.9 334.7,194.7 334.8,193.3 334.9,191.7 335.0,189.9 335.0,187.8 335.1,185.4 335.2,182.8 335.3,179.8 335.4,176.5 335.5,172.9 335.6,169.0 335.7,164.8 335.8,160.3 335.8,155.5 335.9,150.5 336.0,145.3 336.1,140.0 336.2,134.6 336.3,129.2 336.4,123.8 336.5,118.6 336.5,113.5 336.6,108.8 336.7,104.4 336.8,100.4 336.9,96.9 337.0,94.0 337.1,91.7 337.2,90.1 337.3,89.1 337.3,88.9 337.4,89.4 337.5,90.6 337.6,92.4 337.7,94.9 337.8,98.0 337.9,101.7 338.0,105.8 338.1,110.3 338.1,115.2 338.2,120.3 338.3,125.6 338.4,131.0 338.5,136.4 338.6,141.8 338.7,147.1 338.8,152.2 338.9,157.2 338.9,161.9 339.0,166.3 339.1,170.4 339.2,174.2 339.3,177.7 339.4,180.9 339.5,183.7 339.6,186.3 339.6,188.5 339.7,190.5 339.8,192.3 339.9,193.8 340.0,195.1 340.1,196.2 340.2,197.2 340.3,197.9 340.4,198.6 340.4,199.2 340.5,199.6 340.6,200.0 340.7,200.3 340.8,200.5 340.9,200.7 341.0,200.9 341.1,201.0 341.2,201.1 341.2,201.2 341.3,201.2 341.4,201.3 341.5,201.3 341.6,201.3 341.7,201.3 341.8,201.4 341.9,201.4 341.9,201.4 342.0,201.4 342.1,201.4 342.2,201.4 342.3,201.4 342.4,201.4 342.5,201.4 342.6,201.4 342.7,201.4 342.7,201.4 342.8,201.4 342.9,201.4 343.0,201.4 343.1,201.4 343.2,201.4 343.3,201.4 343.4,201.4 343.5,201.4 343.5,201.4 343.6,201.4 343.7,201.4 343.8,201.4 343.9,201.4 344.0,201.4 344.1,201.4 344.2,201.4 344.3,201.4 344.3,201.4 344.4,201.4 344.5,201.4 344.6,201.4 344.7,201.4 344.8,201.4 344.9,201.4 345.0,201.4 345.0,201.4 345.1,201.4 345.2,201.4 345.3,201.4 345.4,201.4 345.5,201.4 345.6,201.4 345.7,201.4 345.8,201.4 345.8,201.4 345.9,201.4 346.0,201.4 346.1,201.4 346.2,201.4 346.3,201.4 346.4,201.4 346.5,201.4 346.6,201.4 346.6,201.4 346.7,201.4 346.8,201.4 346.9,201.4 347.0,201.4 347.1,201.4 347.2,201.4 347.3,201.4 347.4,201.4 347.4,201.4 347.5,201.4 347.6,201.4 347.7,201.4 347.8,201.4 347.9,201.4 348.0,201.4 348.1,201.4 348.1,201.4 348.2,201.4 348.3,201.4 348.4,201.4 348.5,201.4 348.6,201.4 348.7,201.4 348.8,201.4 348.9,201.4 348.9,201.4 349.0,201.4 349.1,201.4 349.2,201.4 349.3,201.4 349.4,201.4 349.5,201.4 349.6,201.4 349.7,201.4 349.7,201.4 349.8,201.4 349.9,201.4 350.0,201.4 350.1,201.4 350.2,201.4 350.3,201.4 350.4,201.4 350.4,201.4 350.5,201.4 350.6,201.4 350.7,201.4 350.8,201.4 350.9,201.4 351.0,201.4 351.1,201.4 351.2,201.4 351.2,201.4 351.3,201.4 351.4,201.4 351.5,201.4 351.6,201.4 351.7,201.4 351.8,201.4 351.9,201.4 352.0,201.4 352.0,201.4 352.1,201.4 352.2,201.4 352.3,201.4 352.4,201.4 352.5,201.4 352.6,201.4 352.7,201.4 352.8,201.4 352.8,201.4 352.9,201.4 353.0,201.4 353.1,201.4 353.2,201.4 353.3,201.4 353.4,201.4 353.5,201.4 353.5,201.4 353.6,201.4 353.7,201.4 353.8,201.4 353.9,201.4 354.0,201.4 354.1,201.4 354.2,201.4 354.3,201.4 354.3,201.4 354.4,201.4 354.5,201.4 354.6,201.3 354.7,201.3 354.8,201.3 354.9,201.3 355.0,201.2 355.1,201.2 355.1,201.1 355.2,201.1 355.3,201.0 355.4,200.9 355.5,200.8 355.6,200.6 355.7,200.4 355.8,200.2 355.9,199.9 355.9,199.6 356.0,199.2 356.1,198.7 356.2,198.2 356.3,197.6 356.4,196.9 356.5,196.1 356.6,195.2 356.6,194.2 356.7,193.0 356.8,191.8 356.9,190.3 357.0,188.8 357.1,187.1 357.2,185.3 357.3,183.3 357.4,181.2 357.4,179.0 357.5,176.7 357.6,174.2 357.7,171.7 357.8,169.2 357.9,166.6 358.0,164.0 358.1,161.4 358.2,158.9 358.2,156.5 358.3,154.2 358.4,152.1 358.5,150.1 358.6,148.3 358.7,146.8 358.8,145.5 358.9,144.6 358.9,143.9 359.0,143.5 359.1,143.4 359.2,143.7 359.3,144.2 359.4,145.1 359.5,146.2 359.6,147.6 359.7,149.3 359.7,151.1 359.8,153.2 359.9,155.5 360.0,157.8 360.1,160.3 360.2,162.8 360.3,165.4 360.4,168.0 360.5,170.6 360.5,173.1 360.6,175.6 360.7,177.9 360.8,180.2 360.9,182.4 361.0,184.4 361.1,186.3 361.2,188.0 361.3,189.6 361.3,191.1 361.4,192.5 361.5,193.7 361.6,194.8 361.7,195.7 361.8,196.6 361.9,197.3 362.0,198.0 362.0,198.5 362.1,199.0 362.2,199.4 362.3,199.8 362.4,200.1 362.5,200.3 362.6,200.5 362.7,200.7 362.8,200.8 362.8,200.9 362.9,201.0 363.0,201.1 363.1,201.2 363.2,201.2 363.3,201.3 363.4,201.3 363.5,201.3 363.6,201.3 363.6,201.4 363.7,201.4 363.8,201.4 363.9,201.4 364.0,201.4 364.1,201.4 364.2,201.4 364.3,201.4 364.3,201.4 364.4,201.4 364.5,201.4 364.6,201.4 364.7,201.4 364.8,201.4 364.9,201.4 365.0,201.4 365.1,201.4 365.1,201.4 365.2,201.4 365.3,201.4 365.4,201.4 365.5,201.4 365.6,201.4 365.7,201.4 365.8,201.4 365.9,201.4 365.9,201.4 366.0,201.4 366.1,201.4 366.2,201.4 366.3,201.4 366.4,201.4 366.5,201.4 366.6,201.4 366.7,201.4 366.7,201.4 366.8,201.4 366.9,201.4 367.0,201.4 367.1,201.4 367.2,201.4 367.3,201.4 367.4,201.4 367.4,201.4 367.5,201.4 367.6,201.4 367.7,201.4 367.8,201.4 367.9,201.4 368.0,201.4 368.1,201.4 368.2,201.4 368.2,201.4 368.3,201.4 368.4,201.4 368.5,201.4 368.6,201.4 368.7,201.4 368.8,201.4 368.9,201.4 369.0,201.4 369.0,201.4 369.1,201.4 369.2,201.4 369.3,201.4 369.4,201.4 369.5,201.4 369.6,201.4 369.7,201.4 369.8,201.4 369.8,201.4 369.9,201.4 370.0,201.4 370.1,201.4 370.2,201.4 370.3,201.4 370.4,201.4 370.5,201.4 370.5,201.4 370.6,201.4 370.7,201.4 370.8,201.4 370.9,201.4 371.0,201.4 371.1,201.4 371.2,201.4 371.3,201.4 371.3,201.4 371.4,201.4 371.5,201.4 371.6,201.4 371.7,201.4 371.8,201.4 371.9,201.4 372.0,201.4 372.1,201.4 372.1,201.4 372.2,201.4 372.3,201.4 372.4,201.4 372.5,201.4 372.6,201.4 372.7,201.4 372.8,201.4 372.8,201.4 372.9,201.4 373.0,201.4 373.1,201.4 373.2,201.4 373.3,201.4 373.4,201.4 373.5,201.4 373.6,201.4 373.6,201.4 373.7,201.4 373.8,201.4 373.9,201.4 374.0,201.4 374.1,201.4 374.2,201.4 374.3,201.4 374.4,201.4 374.4,201.4 374.5,201.4 374.6,201.4 374.7,201.4 374.8,201.4 374.9,201.4 375.0,201.4 375.1,201.4 375.2,201.4 375.2,201.4 375.3,201.4 375.4,201.4 375.5,201.4 375.6,201.4 375.7,201.4 375.8,201.4 375.9,201.4 375.9,201.4 376.0,201.4 376.1,201.4 376.2,201.4 376.3,201.4 376.4,201.4 376.5,201.4 376.6,201.4 376.7,201.4 376.7,201.4 376.8,201.4 376.9,201.4 377.0,201.4 377.1,201.4 377.2,201.4 377.3,201.4 377.4,201.4 377.5,201.4 377.5,201.4 377.6,201.4 377.7,201.4 377.8,201.4 377.9,201.4 378.0,201.4 378.1,201.4 378.2,201.4 378.3,201.4 378.3,201.4 378.4,201.4 378.5,201.4 378.6,201.4 378.7,201.4 378.8,201.4 378.9,201.4 379.0,201.4 379.0,201.4 379.1,201.4 379.2,201.4 379.3,201.4 379.4,201.4 379.5,201.4 379.6,201.4 379.7,201.4 379.8,201.4 379.8,201.4 379.9,201.4 380.0,201.4 380.1,201.4 380.2,201.4 380.3,201.4 380.4,201.4 380.5,201.4 380.6,201.4 380.6,201.4 380.7,201.4 380.8,201.4 380.9,201.4 381.0,201.4 381.1,201.4 381.2,201.4 381.3,201.4 381.3,201.4 381.4,201.4 381.5,201.4 381.6,201.4 381.7,201.4 381.8,201.4 381.9,201.4 382.0,201.4 382.1,201.4 382.1,201.4 382.2,201.4 382.3,201.4 382.4,201.4 382.5,201.4 382.6,201.4 382.7,201.4 382.8,201.4 382.9,201.4 382.9,201.4 383.0,201.4 383.1,201.4 383.2,201.4 383.3,201.4 383.4,201.4 383.5,201.4 383.6,201.4 383.7,201.4 383.7,201.4 383.8,201.4 383.9,201.4 384.0,201.4 384.1,201.4 384.2,201.4 384.3,201.4 384.4,201.4 384.4,201.4 384.5,201.4 384.6,201.4 384.7,201.4 384.8,201.4 384.9,201.4 385.0,201.4 385.1,201.4 385.2,201.4 385.2,201.4 385.3,201.4 385.4,201.4 385.5,201.4 385.6,201.4 385.7,201.4 385.8,201.4 385.9,201.4 386.0,201.4 386.0,201.4 386.1,201.4 386.2,201.4 386.3,201.4 386.4,201.4 386.5,201.4 386.6,201.4 386.7,201.4 386.7,201.4 386.8,201.4 386.9,201.4 387.0,201.4 387.1,201.4 387.2,201.4 387.3,201.4 387.4,201.4 387.5,201.4 387.5,201.4 387.6,201.4 387.7,201.4 387.8,201.4 387.9,201.4 388.0,201.4 388.1,201.4 388.2,201.4 388.3,201.4 388.3,201.4 388.4,201.4 388.5,201.4 388.6,201.4 388.7,201.4 388.8,201.4 388.9,201.4 389.0,201.4 389.1,201.4 389.1,201.4 389.2,201.4 389.3,201.4 389.4,201.4 389.5,201.4 389.6,201.4 389.7,201.4 389.8,201.4 389.8,201.4 389.9,201.4 390.0,201.4 390.1,201.4 390.2,201.4 390.3,201.4 390.4,201.4 390.5,201.4 390.6,201.4 390.6,201.4 390.7,201.4 390.8,201.4 390.9,201.4 391.0,201.4 391.1,201.4 391.2,201.4 391.3,201.4 391.4,201.4 391.4,201.4 391.5,201.4 391.6,201.4 391.7,201.4 391.8,201.4 391.9,201.4 392.0,201.4 392.1,201.4 392.2,201.4 392.2,201.4 392.3,201.4 392.4,201.4 392.5,201.4 392.6,201.4 392.7,201.4 392.8,201.4 392.9,201.4 392.9,201.4 393.0,201.4 393.1,201.4 393.2,201.4 393.3,201.4 393.4,201.4 393.5,201.4 393.6,201.4 393.7,201.4 393.7,201.4 393.8,201.4 393.9,201.4 394.0,201.4 394.1,201.4 394.2,201.4 394.3,201.4 394.4,201.4 394.5,201.4 394.5,201.4 394.6,201.4 394.7,201.4 394.8,201.4 394.9,201.4 395.0,201.4 395.1,201.4 395.2,201.4 395.2,201.4 395.3,201.4 395.4,201.4 395.5,201.4 395.6,201.4 395.7,201.4 395.8,201.4 395.9,201.4 396.0,201.4 396.0,201.4 396.1,201.4 396.2,201.4 396.3,201.4 396.4,201.4 396.5,201.4 396.6,201.4 396.7,201.4 396.8,201.4 396.8,201.4 396.9,201.4 397.0,201.4 397.1,201.4 397.2,201.4 397.3,201.4 397.4,201.4 397.5,201.4 397.6,201.4 397.6,201.4 397.7,201.4 397.8,201.4 397.9,201.4 398.0,201.4 398.1,201.4 398.2,201.4 398.3,201.4 398.3,201.4 398.4,201.4 398.5,201.4 398.6,201.4 398.7,201.4 398.8,201.4 398.9,201.4 399.0,201.4 399.1,201.4 399.1,201.4 399.2,201.4 399.3,201.4 399.4,201.4 399.5,201.4 399.6,201.4 399.7,201.4 399.8,201.4 399.9,201.4 399.9,201.4 400.0,201.4 400.1,201.4 400.2,201.4 400.3,201.4 400.4,201.4 400.5,201.4 400.6,201.4 400.6,201.4 400.7,201.4 400.8,201.4 400.9,201.4 401.0,201.4 401.1,201.4 401.2,201.4 401.3,201.4 401.4,201.4 401.4,201.4 401.5,201.4 401.6,201.4 401.7,201.4 401.8,201.4 401.9,201.4 402.0,201.4 402.1,201.4 402.2,201.4 402.2,201.4 402.3,201.4 402.4,201.4 402.5,201.4 402.6,201.4 402.7,201.4 402.8,201.4 402.9,201.4 403.0,201.4 403.0,201.4 403.1,201.4 403.2,201.4 403.3,201.4 403.4,201.4 403.5,201.4 403.6,201.4 403.7,201.4 403.7,201.4 403.8,201.4 403.9,201.4 404.0,201.4 404.1,201.4 404.2,201.4 404.3,201.4 404.4,201.4 404.5,201.4 404.5,201.4 404.6,201.4 404.7,201.4 404.8,201.4 404.9,201.4 405.0,201.4 405.1,201.4 405.2,201.4 405.3,201.4 405.3,201.4 405.4,201.4 405.5,201.4 405.6,201.4 405.7,201.4 405.8,201.4 405.9,201.4 406.0,201.4 406.1,201.4 406.1,201.4 406.2,201.4 406.3,201.4 406.4,201.4 406.5,201.4 406.6,201.4 406.7,201.4 406.8,201.4 406.8,201.4 406.9,201.4 407.0,201.4 407.1,201.4 407.2,201.4 407.3,201.4 407.4,201.4 407.5,201.4 407.6,201.4 407.6,201.4 407.7,201.4 407.8,201.4 407.9,201.4 408.0,201.4 408.1,201.4 408.2,201.4 408.3,201.4 408.4,201.4 408.4,201.4 408.5,201.4 408.6,201.4 408.7,201.4 408.8,201.4 408.9,201.4 409.0,201.4 409.1,201.4 409.1,201.4 409.2,201.4 409.3,201.4 409.4,201.4 409.5,201.4 409.6,201.4 409.7,201.4 409.8,201.4 409.9,201.4 409.9,201.4 410.0,201.4 410.1,201.4 410.2,201.4 410.3,201.4 410.4,201.4 410.5,201.4 410.6,201.4 410.7,201.4 410.7,201.4 410.8,201.4 410.9,201.4 411.0,201.4 411.1,201.4 411.2,201.4 411.3,201.4 411.4,201.4 411.5,201.4 411.5,201.4 411.6,201.4 411.7,201.4 411.8,201.4 411.9,201.4 412.0,201.4 412.1,201.4 412.2,201.4 412.2,201.4 412.3,201.4 412.4,201.4 412.5,201.4 412.6,201.4 412.7,201.4 412.8,201.4 412.9,201.4 413.0,201.4 413.0,201.4 413.1,201.4 413.2,201.4 413.3,201.4 413.4,201.4 413.5,201.4 413.6,201.4 413.7,201.4 413.8,201.4 413.8,201.4 413.9,201.4 414.0,201.4 414.1,201.4 414.2,201.4 414.3,201.4 414.4,201.4 414.5,201.4 414.6,201.4 414.6,201.4 414.7,201.4 414.8,201.4 414.9,201.4 415.0,201.4 415.1,201.4 415.2,201.4 415.3,201.4 415.3,201.4 415.4,201.4 415.5,201.4 415.6,201.4 415.7,201.4 415.8,201.4 415.9,201.4 416.0,201.4 416.1,201.4 416.1,201.4 416.2,201.4 416.3,201.4 416.4,201.4 416.5,201.4 416.6,201.4 416.7,201.4 416.8,201.4 416.9,201.4 416.9,201.4 417.0,201.4 417.1,201.4 417.2,201.4 417.3,201.4 417.4,201.4 417.5,201.4 417.6,201.4 417.6,201.4 417.7,201.4 417.8,201.4 417.9,201.4 418.0,201.4 418.1,201.4 418.2,201.4 418.3,201.4 418.4,201.4 418.4,201.4 418.5,201.4 418.6,201.4 418.7,201.4 418.8,201.4 418.9,201.4 419.0,201.4 419.1,201.4 419.2,201.4 419.2,201.4 419.3,201.4 419.4,201.4 419.5,201.4 419.6,201.4 419.7,201.4 419.8,201.4 419.9,201.4 420.0,201.4 420.0,201.4 420.1,201.4 420.2,201.4 420.3,201.4 420.4,201.4 420.5,201.4 420.6,201.4 420.7,201.4 420.7,201.4 420.8,201.4 420.9,201.4 421.0,201.4 421.1,201.4 421.2,201.4 421.3,201.4 421.4,201.4 421.5,201.4 421.5,201.4 421.6,201.4 421.7,201.4 421.8,201.4 421.9,201.4 422.0,201.4 422.1,201.4 422.2,201.4 422.3,201.4 422.3,201.4 422.4,201.4 422.5,201.4 422.6,201.4 422.7,201.4 422.8,201.4 422.9,201.4 423.0,201.4 423.0,201.4 423.1,201.4 423.2,201.4 423.3,201.4 423.4,201.4 423.5,201.4 423.6,201.4 423.7,201.4 423.8,201.4 423.8,201.4 423.9,201.4 424.0,201.4 424.1,201.4 424.2,201.4 424.3,201.4 424.4,201.4 424.5,201.4 424.6,201.4 424.6,201.4 424.7,201.4 424.8,201.4 424.9,201.4 425.0,201.4 425.1,201.4 425.2,201.4 425.3,201.4 425.4,201.4 425.4,201.4 425.5,201.4 425.6,201.4 425.7,201.4 425.8,201.4 425.9,201.4 426.0,201.4 426.1,201.4 426.1,201.4 426.2,201.4 426.3,201.4 426.4,201.4 426.5,201.4 426.6,201.4 426.7,201.4 426.8,201.4 426.9,201.4 426.9,201.4 427.0,201.4 427.1,201.4 427.2,201.4 427.3,201.4 427.4,201.4 427.5,201.4 427.6,201.4 427.7,201.4 427.7,201.4 427.8,201.4 427.9,201.4 428.0,201.4 428.1,201.4 428.2,201.4 428.3,201.4 428.4,201.4 428.5,201.4 428.5,201.4 428.6,201.4 428.7,201.4 428.8,201.4 428.9,201.4 429.0,201.4 429.1,201.4 429.2,201.4 429.2,201.4 429.3,201.4 429.4,201.4 429.5,201.4 429.6,201.4 429.7,201.4 429.8,201.4 429.9,201.4 430.0,201.4 430.0,201.4 430.1,201.4 430.2,201.4 430.3,201.4 430.4,201.4 430.5,201.4 430.6,201.4 430.7,201.4 430.8,201.3 430.8,201.3 430.9,201.3 431.0,201.3 431.1,201.3 431.2,201.2 431.3,201.2 431.4,201.2 431.5,201.1 431.5,201.1 431.6,201.0 431.7,201.0 431.8,200.9 431.9,200.8 432.0,200.7 432.1,200.6 432.2,200.5 432.3,200.3 432.3,200.2 432.4,200.0 432.5,199.8 432.6,199.5 432.7,199.3 432.8,199.0 432.9,198.7 433.0,198.4 433.1,198.0 433.1,197.6 433.2,197.2 433.3,196.7 433.4,196.2 433.5,195.7 433.6,195.1 433.7,194.5 433.8,193.9 433.9,193.3 433.9,192.6 434.0,191.9 434.1,191.2 434.2,190.4 434.3,189.7 434.4,189.0 434.5,188.2 434.6,187.5 434.6,186.7 434.7,186.0 434.8,185.3 434.9,184.6 435.0,184.0 435.1,183.4 435.2,182.8 435.3,182.3 435.4,181.8 435.4,181.4 435.5,181.1 435.6,180.8 435.7,180.6 435.8,180.5 435.9,180.4 436.0,180.4 436.1,180.5 436.2,180.7 436.2,180.9 436.3,181.2 436.4,181.5 436.5,181.9 436.6,182.4 436.7,182.9 436.8,183.5 436.9,184.1 436.9,184.8 437.0,185.5 437.1,186.2 437.2,186.9 437.3,187.7 437.4,188.4 437.5,189.2 437.6,189.9 437.7,190.6 437.7,191.4 437.8,192.1 437.9,192.8 438.0,193.4 438.1,194.1 438.2,194.7 438.3,195.3 438.4,195.8 438.5,196.3 438.5,196.8 438.6,197.3 438.7,197.7 438.8,198.1 438.9,198.4 439.0,198.8 439.1,199.1 439.2,199.4 439.3,199.6 439.3,199.8 439.4,200.0 439.5,200.2 439.6,200.4 439.7,200.5 439.8,200.6 439.9,200.7 440.0,200.8 440.0,200.9 440.1,201.0 440.2,201.1 440.3,201.1 440.4,201.2 440.5,201.2 440.6,201.2 440.7,201.3 440.8,201.3 440.8,201.3 440.9,201.3 441.0,201.3 441.1,201.3 441.2,201.4 441.3,201.4 441.4,201.4 441.5,201.4 441.6,201.4 441.6,201.4 441.7,201.4 441.8,201.4 441.9,201.4 442.0,201.4 442.1,201.4 442.2,201.4 442.3,201.4 442.4,201.4 442.4,201.4 442.5,201.4 442.6,201.4 442.7,201.4 442.8,201.4 442.9,201.4 443.0,201.4 443.1,201.4 443.1,201.4 443.2,201.4 443.3,201.4 443.4,201.4 443.5,201.4 443.6,201.4 443.7,201.4 443.8,201.4 443.9,201.4 443.9,201.4 444.0,201.4 444.1,201.4 444.2,201.4 444.3,201.4 444.4,201.4 444.5,201.4 444.6,201.4 444.7,201.4 444.7,201.4 444.8,201.4 444.9,201.4 445.0,201.4 445.1,201.4 445.2,201.4 445.3,201.4 445.4,201.4 445.4,201.4 445.5,201.4 445.6,201.4 445.7,201.4 445.8,201.4 445.9,201.4 446.0,201.4 446.1,201.4 446.2,201.4 446.2,201.4 446.3,201.4 446.4,201.4 446.5,201.4 446.6,201.4 446.7,201.4 446.8,201.4 446.9,201.4 447.0,201.4 447.0,201.4 447.1,201.4 447.2,201.4 447.3,201.4 447.4,201.4 447.5,201.4 447.6,201.4 447.7,201.4 447.8,201.4 447.8,201.4 447.9,201.4 448.0,201.4 448.1,201.4 448.2,201.4 448.3,201.4 448.4,201.4 448.5,201.4 448.5,201.4 448.6,201.4 448.7,201.4 448.8,201.4 448.9,201.4 449.0,201.4 449.1,201.4 449.2,201.4 449.3,201.4 449.3,201.4 449.4,201.4 449.5,201.4 449.6,201.4 449.7,201.4 449.8,201.4 449.9,201.4 450.0,201.4 450.1,201.4 450.1,201.4 450.2,201.4 450.3,201.4 450.4,201.4 450.5,201.4 450.6,201.4 450.7,201.4 450.8,201.4 450.9,201.4 450.9,201.4 451.0,201.4 451.1,201.4 451.2,201.4 451.3,201.4 451.4,201.4 451.5,201.4 451.6,201.4 451.6,201.4 451.7,201.4 451.8,201.4 451.9,201.4 452.0,201.4 452.1,201.4 452.2,201.4 452.3,201.4 452.4,201.4 452.4,201.4 452.5,201.4 452.6,201.4 452.7,201.4 452.8,201.4 452.9,201.4 453.0,201.4 453.1,201.4 453.2,201.4 453.2,201.4 453.3,201.4 453.4,201.4 453.5,201.4 453.6,201.4 453.7,201.4 453.8,201.4 453.9,201.4 453.9,201.4 454.0,201.4 454.1,201.4 454.2,201.4 454.3,201.4 454.4,201.4 454.5,201.4 454.6,201.4 454.7,201.4 454.7,201.4 454.8,201.4 454.9,201.4 455.0,201.4 455.1,201.4 455.2,201.4 455.3,201.4 455.4,201.4 455.5,201.4 455.5,201.4 455.6,201.4 455.7,201.4 455.8,201.4 455.9,201.4 456.0,201.4 456.1,201.4 456.2,201.4 456.3,201.4 456.3,201.4 456.4,201.4 456.5,201.4 456.6,201.4 456.7,201.4 456.8,201.4 456.9,201.4 457.0,201.4 457.0,201.4 457.1,201.4 457.2,201.4 457.3,201.4 457.4,201.4 457.5,201.4 457.6,201.4 457.7,201.4 457.8,201.4 457.8,201.4 457.9,201.4 458.0,201.4 458.1,201.4 458.2,201.4 458.3,201.4 458.4,201.4 458.5,201.4 458.6,201.4 458.6,201.4 458.7,201.4 458.8,201.4 458.9,201.4 459.0,201.4 459.1,201.4 459.2,201.4 459.3,201.4 459.3,201.4 459.4,201.4 459.5,201.4 459.6,201.4 459.7,201.4 459.8,201.4 459.9,201.4 460.0,201.4 460.1,201.4 460.1,201.4 460.2,201.4 460.3,201.4 460.4,201.4 460.5,201.4 460.6,201.4 460.7,201.4 460.8,201.4 460.9,201.4 460.9,201.4 461.0,201.4 461.1,201.4 461.2,201.4 461.3,201.4 461.4,201.4 461.5,201.4 461.6,201.4 461.7,201.4 461.7,201.4 461.8,201.4 461.9,201.4 462.0,201.4 462.1,201.4 462.2,201.4 462.3,201.4 462.4,201.4 462.4,201.4 462.5,201.4 462.6,201.4 462.7,201.4 462.8,201.4 462.9,201.4 463.0,201.4 463.1,201.4 463.2,201.4 463.2,201.4 463.3,201.4 463.4,201.4 463.5,201.4 463.6,201.4 463.7,201.4 463.8,201.4 463.9,201.4 464.0,201.4 464.0,201.4 464.1,201.4 464.2,201.4 464.3,201.4 464.4,201.4 464.5,201.4 464.6,201.4 464.7,201.4 464.8,201.4 464.8,201.4 464.9,201.4 465.0,201.4 465.1,201.4 465.2,201.4 465.3,201.4 465.4,201.4 465.5,201.4 465.5,201.4 465.6,201.4 465.7,201.4 465.8,201.4 465.9,201.4 466.0,201.4 466.1,201.4 466.2,201.4 466.3,201.4 466.3,201.4 466.4,201.4 466.5,201.4 466.6,201.4 466.7,201.4 466.8,201.4 466.9,201.4 467.0,201.4 467.1,201.4 467.1,201.4 467.2,201.4 467.3,201.4 467.4,201.4 467.5,201.4 467.6,201.4 467.7,201.4 467.8,201.4 467.8,201.4 467.9,201.4 468.0,201.4 468.1,201.4 468.2,201.4 468.3,201.4 468.4,201.4 468.5,201.4 468.6,201.4 468.6,201.4 468.7,201.4 468.8,201.4 468.9,201.4 469.0,201.4 469.1,201.4 469.2,201.4 469.3,201.4 469.4,201.4 469.4,201.4 469.5,201.4 469.6,201.4 469.7,201.4 469.8,201.4 469.9,201.4 470.0,201.4 470.1,201.4 470.2,201.4 470.2,201.4 470.3,201.4 470.4,201.4 470.5,201.4 470.6,201.4 470.7,201.4 470.8,201.4 470.9,201.4 470.9,201.4 471.0,201.4 471.1,201.4 471.2,201.4 471.3,201.4 471.4,201.4 471.5,201.4 471.6,201.4 471.7,201.4 471.7,201.4 471.8,201.4 471.9,201.4 472.0,201.4 472.1,201.4 472.2,201.4 472.3,201.4 472.4,201.4 472.5,201.4 472.5,201.4 472.6,201.4 472.7,201.4 472.8,201.4 472.9,201.4 473.0,201.4 473.1,201.4 473.2,201.4 473.3,201.4 473.3,201.4 473.4,201.4 473.5,201.4 473.6,201.4 473.7,201.4 473.8,201.4 473.9,201.4 474.0,201.4 474.0,201.4 474.1,201.4 474.2,201.4 474.3,201.4 474.4,201.4 474.5,201.4 474.6,201.4 474.7,201.4 474.8,201.4 474.8,201.4 474.9,201.4 475.0,201.4 475.1,201.4 475.2,201.4 475.3,201.4 475.4,201.4 475.5,201.4 475.6,201.4 475.6,201.4 475.7,201.4 475.8,201.4 475.9,201.4 476.0,201.4 476.1,201.4 476.2,201.4 476.3,201.4 476.3,201.4 476.4,201.4 476.5,201.4 476.6,201.4 476.7,201.4 476.8,201.4 476.9,201.4 477.0,201.4 477.1,201.4 477.1,201.4 477.2,201.4 477.3,201.4 477.4,201.4 477.5,201.4 477.6,201.4 477.7,201.4 477.8,201.4 477.9,201.4 477.9,201.4 478.0,201.4 478.1,201.4 478.2,201.4 478.3,201.4 478.4,201.4 478.5,201.4 478.6,201.4 478.7,201.4 478.7,201.4 478.8,201.4 478.9,201.4 479.0,201.3 479.1,201.3 479.2,201.3 479.3,201.3 479.4,201.3 479.4,201.3 479.5,201.2 479.6,201.2 479.7,201.2 479.8,201.1 479.9,201.1 480.0,201.0 480.1,201.0 480.2,200.9 480.2,200.8 480.3,200.7 480.4,200.6 480.5,200.5 480.6,200.3 480.7,200.2 480.8,200.0 480.9,199.8 481.0,199.6 481.0,199.4 481.1,199.1 481.2,198.8 481.3,198.5 481.4,198.2 481.5,197.8 481.6,197.4 481.7,197.0 481.7,196.5 481.8,196.0 481.9,195.5 482.0,195.0 482.1,194.4 482.2,193.8 482.3,193.1 482.4,192.5 482.5,191.8 482.5,191.1 482.6,190.4 482.7,189.7 482.8,189.0 482.9,188.3 483.0,187.6 483.1,186.9 483.2,186.2 483.3,185.5 483.3,184.8 483.4,184.2 483.5,183.6 483.6,183.0 483.7,182.5 483.8,182.0 483.9,181.6 484.0,181.3 484.1,181.0 484.1,180.7 484.2,180.6 484.3,180.4 484.4,180.4 484.5,180.4 484.6,180.5 484.7,180.7 484.8,180.9 484.8,181.2 484.9,181.5 485.0,181.9 485.1,182.4 485.2,182.9 485.3,183.4 485.4,184.0 485.5,184.6 485.6,185.3 485.6,186.0 485.7,186.7 485.8,187.4 485.9,188.1 486.0,188.8 486.1,189.5 486.2,190.2 486.3,190.9 486.4,191.6 486.4,192.3 486.5,193.0 486.6,193.6 486.7,194.2 486.8,194.8 486.9,195.4 487.0,195.9 487.1,196.4 487.2,196.8 487.2,197.3 487.3,197.7 487.4,198.1 487.5,198.4 487.6,198.7 487.7,199.0 487.8,199.3 487.9,199.5 487.9,199.8 488.0,200.0 488.1,200.1 488.2,200.3 488.3,200.4 488.4,200.6 488.5,200.7 488.6,200.8 488.7,200.9 488.7,200.9 488.8,201.0 488.9,201.1 489.0,201.1 489.1,201.2 489.2,201.2 489.3,201.2 489.4,201.3 489.5,201.3 489.5,201.3 489.6,201.3 489.7,201.3 489.8,201.3 489.9,201.4 490.0,201.4 490.1,201.4 490.2,201.4 490.2,201.4 490.3,201.4 490.4,201.4 490.5,201.4 490.6,201.4 490.7,201.4 490.8,201.4 490.9,201.4 491.0,201.4 491.0,201.4 491.1,201.4 491.2,201.4 491.3,201.4 491.4,201.4 491.5,201.4 491.6,201.4 491.7,201.4 491.8,201.4 491.8,201.4 491.9,201.4 492.0,201.4 492.1,201.4 492.2,201.4 492.3,201.4 492.4,201.4 492.5,201.4 492.6,201.4 492.6,201.4 492.7,201.4 492.8,201.4 492.9,201.4 493.0,201.4 493.1,201.4 493.2,201.4 493.3,201.4 493.3,201.4 493.4,201.4 493.5,201.4 493.6,201.4 493.7,201.4 493.8,201.4 493.9,201.4 494.0,201.4 494.1,201.4 494.1,201.4 494.2,201.4 494.3,201.4 494.4,201.4 494.5,201.4 494.6,201.4 494.7,201.4 494.8,201.4 494.9,201.4 494.9,201.4 495.0,201.4 495.1,201.4 495.2,201.4 495.3,201.4 495.4,201.4 495.5,201.4 495.6,201.4 495.6,201.4 495.7,201.4 495.8,201.4 495.9,201.4 496.0,201.4 496.1,201.4 496.2,201.4 496.3,201.4 496.4,201.4 496.4,201.4 496.5,201.4 496.6,201.4 496.7,201.4 496.8,201.4 496.9,201.4 497.0,201.4 497.1,201.3 497.2,201.3 497.2,201.3 497.3,201.3 497.4,201.3 497.5,201.3 497.6,201.3 497.7,201.2 497.8,201.2 497.9,201.2 498.0,201.1 498.0,201.1 498.1,201.1 498.2,201.0 498.3,201.0 498.4,200.9 498.5,200.9 498.6,200.8 498.7,200.7 498.7,200.6 498.8,200.6 498.9,200.5 499.0,200.4 499.1,200.3 499.2,200.1 499.3,200.0 499.4,199.9 499.5,199.8 499.5,199.6 499.6,199.5 499.7,199.3 499.8,199.1 499.9,199.0 500.0,198.8 500.1,198.6 500.2,198.4 500.3,198.2 500.3,198.0 500.4,197.8 500.5,197.6 500.6,197.4 500.7,197.3 500.8,197.1 500.9,196.9 501.0,196.7 501.1,196.5 501.1,196.4 501.2,196.2 501.3,196.1 501.4,195.9 501.5,195.8 501.6,195.7 501.7,195.6 501.8,195.5 501.8,195.5 501.9,195.4 502.0,195.4 502.1,195.4 502.2,195.4 502.3,195.4 502.4,195.5 502.5,195.5 502.6,195.6 502.6,195.7 502.7,195.8 502.8,195.9 502.9,196.1 503.0,196.2 503.1,196.3 503.2,196.5 503.3,196.7 503.4,196.9 503.4,197.0 503.5,197.2 503.6,197.4 503.7,197.6 503.8,197.8 503.9,198.0 504.0,198.2 504.1,198.4 504.1,198.6 504.2,198.8 504.3,198.9 504.4,199.1 504.5,199.3 504.6,199.4 504.7,199.6 504.8,199.7 504.9,199.9 504.9,200.0 505.0,200.1 505.1,200.2 505.2,200.4 505.3,200.5 505.4,200.6 505.5,200.6 505.6,200.7 505.7,200.8 505.7,200.9 505.8,200.9 505.9,201.0 506.0,201.0 506.1,201.1 506.2,201.1 506.3,201.1 506.4,201.2 506.5,201.2 506.5,201.2 506.6,201.3 506.7,201.3 506.8,201.3 506.9,201.3 507.0,201.3 507.1,201.3 507.2,201.3 507.2,201.4 507.3,201.4 507.4,201.4 507.5,201.4 507.6,201.4 507.7,201.4 507.8,201.4 507.9,201.4 508.0,201.4 508.0,201.4 508.1,201.4 508.2,201.4 508.3,201.4 508.4,201.4 508.5,201.4 508.6,201.4 508.7,201.4 508.8,201.4 508.8,201.4 508.9,201.4 509.0,201.4 509.1,201.4 509.2,201.4 509.3,201.4 509.4,201.4 509.5,201.4 509.6,201.4 509.6,201.4 509.7,201.4 509.8,201.4 509.9,201.4 510.0,201.4 510.1,201.4 510.2,201.4 510.3,201.4 510.3,201.4 510.4,201.4 510.5,201.4 510.6,201.4 510.7,201.4 510.8,201.4 510.9,201.4 511.0,201.4 511.1,201.4 511.1,201.4 511.2,201.4 511.3,201.4 511.4,201.4 511.5,201.4 511.6,201.4 511.7,201.4 511.8,201.4 511.9,201.4 511.9,201.4 512.0,201.4 512.1,201.4 512.2,201.4 512.3,201.4 512.4,201.4 512.5,201.4 512.6,201.4 512.6,201.4 512.7,201.4 512.8,201.4 512.9,201.4 513.0,201.4 513.1,201.4 513.2,201.4 513.3,201.4 513.4,201.4 513.4,201.4 513.5,201.4 513.6,201.4 513.7,201.4 513.8,201.4"/>
<polyline fill="none" stroke="#e31c1c" stroke-width="1.2" stroke-linejoin="round" points="301.4,383.9 301.5,383.9 301.6,383.9 301.7,383.9 301.8,383.9 301.8,383.9 301.9,383.9 302.0,383.9 302.1,383.9 302.2,383.9 302.3,383.9 302.4,383.9 302.5,383.9 302.6,383.9 302.6,383.9 302.7,383.9 302.8,383.9 302.9,383.9 303.0,383.9 303.1,383.9 303.2,383.9 303.3,383.9 303.3,383.9 303.4,383.9 303.5,383.9 303.6,383.9 303.7,383.9 303.8,383.9 303.9,383.9 304.0,383.9 304.1,383.9 304.1,383.9 304.2,383.9 304.3,383.9 304.4,383.9 304.5,383.9 304.6,383.9 304.7,383.9 304.8,383.9 304.9,383.9 304.9,383.9 305.0,383.9 305.1,383.9 305.2,383.9 305.3,383.9 305.4,383.9 305.5,383.9 305.6,383.9 305.6,383.9 305.7,383.9 305.8,383.9 305.9,383.9 306.0,383.9 306.1,383.9 306.2,383.9 306.3,383.9 306.4,383.9 306.4,383.9 306.5,383.9 306.6,383.9 306.7,383.9 306.8,383.9 306.9,383.9 307.0,383.9 307.1,383.9 307.2,383.9 307.2,383.9 307.3,383.9 307.4,383.9 307.5,383.9 307.6,383.9 307.7,383.9 307.8,383.9 307.9,383.9 308.0,383.9 308.0,383.9 308.1,383.9 308.2,383.9 308.3,383.9 308.4,383.9 308.5,383.9 308.6,383.9 308.7,383.9 308.7,383.9 308.8,383.9 308.9,383.9 309.0,383.9 309.1,383.9 309.2,383.9 309.3,383.9 309.4,383.9 309.5,383.9 309.5,383.9 309.6,383.9 309.7,383.9 309.8,383.9 309.9,383.9 310.0,383.9 310.1,383.9 310.2,383.9 310.3,383.9 310.3,383.9 310.4,383.9 310.5,383.9 310.6,383.9 310.7,383.9 310.8,383.9 310.9,383.9 311.0,383.9 311.1,383.9 311.1,383.9 311.2,383.9 311.3,383.9 311.4,383.9 311.5,383.9 311.6,383.9 311.7,383.9 311.8,383.9 311.8,383.8 311.9,383.8 312.0,383.8 312.1,383.8 312.2,383.8 312.3,383.8 312.4,383.8 312.5,383.8 312.6,383.8 312.6,383.8 312.7,383.8 312.8,383.8 312.9,383.8 313.0,383.8 313.1,383.8 313.2,383.8 313.3,383.8 313.4,383.8 313.4,383.8 313.5,383.8 313.6,383.8 313.7,383.8 313.8,383.8 313.9,383.8 314.0,383.8 314.1,383.8 314.1,383.8 314.2,383.8 314.3,383.8 314.4,383.8 314.5,383.8 314.6,383.8 314.7,383.8 314.8,383.8 314.9,383.8 314.9,383.8 315.0,383.8 315.1,383.8 315.2,383.8 315.3,383.8 315.4,383.8 315.5,383.8 315.6,383.8 315.7,383.8 315.7,383.8 315.8,383.8 315.9,383.8 316.0,383.8 316.1,383.8 316.2,383.8 316.3,383.7 316.4,383.7 316.5,383.7 316.5,383.7 316.6,383.7 316.7,383.7 316.8,383.7 316.9,383.7 317.0,383.7 317.1,383.7 317.2,383.7 317.2,383.7 317.3,383.7 317.4,383.7 317.5,383.7 317.6,383.7 317.7,383.7 317.8,383.7 317.9,383.7 318.0,383.7 318.0,383.7 318.1,383.7 318.2,383.7 318.3,383.7 318.4,383.7 318.5,383.7 318.6,383.6 318.7,383.6 318.8,383.6 318.8,383.6 318.9,383.6 319.0,383.6 319.1,383.6 319.2,383.6 319.3,383.6 319.4,383.6 319.5,383.6 319.6,383.6 319.6,383.6 319.7,383.6 319.8,383.6 319.9,383.6 320.0,383.6 320.1,383.5 320.2,383.5 320.3,383.5 320.3,383.5 320.4,383.5 320.5,383.5 320.6,383.5 320.7,383.5 320.8,383.5 320.9,383.5 321.0,383.5 321.1,383.4 321.1,383.4 321.2,383.4 321.3,383.4 321.4,383.4 321.5,383.4 321.6,383.4 321.7,383.4 321.8,383.4 321.9,383.3 321.9,383.3 322.0,383.3 322.1,383.3 322.2,383.3 322.3,383.3 322.4,383.3 322.5,383.2 322.6,383.2 322.6,383.2 322.7,383.2 322.8,383.2 322.9,383.2 323.0,383.1 323.1,383.1 323.2,383.1 323.3,383.1 323.4,383.1 323.4,383.0 323.5,383.0 323.6,383.0 323.7,383.0 323.8,382.9 323.9,382.9 324.0,382.9 324.1,382.8 324.2,382.8 324.2,382.8 324.3,382.7 324.4,382.7 324.5,382.7 324.6,382.6 324.7,382.6 324.8,382.5 324.9,382.5 325.0,382.5 325.0,382.4 325.1,382.3 325.2,382.3 325.3,382.2 325.4,382.2 325.5,382.1 325.6,382.0 325.7,382.0 325.7,381.9 325.8,381.8 325.9,381.7 326.0,381.7 326.1,381.6 326.2,381.5 326.3,381.4 326.4,381.3 326.5,381.1 326.5,381.0 326.6,380.9 326.7,380.7 326.8,380.6 326.9,380.4 327.0,380.2 327.1,380.0 327.2,379.8 327.3,379.6 327.3,379.3 327.4,379.0 327.5,378.6 327.6,378.2 327.7,377.7 327.8,377.1 327.9,376.5 328.0,375.6 328.0,374.6 328.1,373.4 328.2,371.9 328.3,370.1 328.4,367.9 328.5,365.3 328.6,362.2 328.7,358.5 328.8,354.2 328.8,349.1 328.9,343.4 329.0,336.9 329.1,329.6 329.2,321.6 329.3,312.9 329.4,303.5 329.5,293.7 329.6,283.4 329.6,273.0 329.7,262.7 329.8,252.7 329.9,243.4 330.0,235.0 330.1,228.0 330.2,222.6 330.3,219.2 330.4,217.9 330.4,218.9 330.5,222.1 330.6,227.2 330.7,234.0 330.8,242.2 330.9,251.5 331.0,261.4 331.1,271.7 331.1,282.1 331.2,292.4 331.3,302.3 331.4,311.7 331.5,320.5 331.6,328.7 331.7,336.0 331.8,342.6 331.9,348.4 331.9,353.5 332.0,357.9 332.1,361.7 332.2,364.9 332.3,367.6 332.4,369.8 332.5,371.7 332.6,373.2 332.7,374.4 332.7,375.5 332.8,376.3 332.9,377.0 333.0,377.6 333.1,378.1 333.2,378.5 333.3,378.9 333.4,379.2 333.5,379.5 333.5,379.7 333.6,380.0 333.7,380.2 333.8,380.3 333.9,380.5 334.0,380.7 334.1,380.8 334.2,380.9 334.2,381.1 334.3,381.2 334.4,381.3 334.5,381.4 334.6,381.5 334.7,381.6 334.8,381.7 334.9,381.8 335.0,381.8 335.0,381.9 335.1,382.0 335.2,382.0 335.3,382.1 335.4,382.2 335.5,382.2 335.6,382.3 335.7,382.3 335.8,382.4 335.8,382.4 335.9,382.5 336.0,382.5 336.1,382.5 336.2,382.6 336.3,382.6 336.4,382.7 336.5,382.7 336.5,382.7 336.6,382.8 336.7,382.8 336.8,382.8 336.9,382.8 337.0,382.9 337.1,382.9 337.2,382.9 337.3,382.9 337.3,383.0 337.4,383.0 337.5,383.0 337.6,383.0 337.7,383.0 337.8,383.0 337.9,383.1 338.0,383.1 338.1,383.1 338.1,383.1 338.2,383.1 338.3,383.1 338.4,383.2 338.5,383.2 338.6,383.2 338.7,383.2 338.8,383.2 338.9,383.2 338.9,383.2 339.0,383.2 339.1,383.2 339.2,383.3 339.3,383.3 339.4,383.3 339.5,383.3 339.6,383.3 339.6,383.3 339.7,383.3 339.8,383.3 339.9,383.3 340.0,383.3 340.1,383.3 340.2,383.3 340.3,383.3 340.4,383.3 340.4,383.3 340.5,383.3 340.6,383.4 340.7,383.4 340.8,383.4 340.9,383.4 341.0,383.4 341.1,383.4 341.2,383.4 341.2,383.4 341.3,383.4 341.4,383.4 341.5,383.4 341.6,383.4 341.7,383.4 341.8,383.4 341.9,383.4 341.9,383.4 342.0,383.4 342.1,383.4 342.2,383.4 342.3,383.4 342.4,383.4 342.5,383.4 342.6,383.4 342.7,383.4 342.7,383.4 342.8,383.4 342.9,383.4 343.0,383.4 343.1,383.4 343.2,383.4 343.3,383.4 343.4,383.3 343.5,383.3 343.5,383.3 343.6,383.3 343.7,383.3 343.8,383.3 343.9,383.3 344.0,383.3 344.1,383.3 344.2,383.3 344.3,383.3 344.3,383.3 344.4,383.3 344.5,383.3 344.6,383.2 344.7,383.2 344.8,383.2 344.9,383.2 345.0,383.2 345.0,383.2 345.1,383.2 345.2,383.2 345.3,383.1 345.4,383.1 345.5,383.1 345.6,383.1 345.7,383.1 345.8,383.1 345.8,383.0 345.9,383.0 346.0,383.0 346.1,383.0 346.2,383.0 346.3,382.9 346.4,382.9 346.5,382.9 346.6,382.8 346.6,382.8 346.7,382.8 346.8,382.7 346.9,382.7 347.0,382.7 347.1,382.6 347.2,382.6 347.3,382.5 347.4,382.5 347.4,382.4 347.5,382.4 347.6,382.3 347.7,382.2 347.8,382.2 347.9,382.1 348.0,382.0 348.1,381.9 348.1,381.8 348.2,381.7 348.3,381.6 348.4,381.5 348.5,381.4 348.6,381.2 348.7,381.1 348.8,380.9 348.9,380.7 348.9,380.4 349.0,380.1 349.1,379.8 349.2,379.3 349.3,378.8 349.4,378.2 349.5,377.4 349.6,376.5 349.7,375.4 349.7,374.0 349.8,372.4 349.9,370.5 350.0,368.2 350.1,365.6 350.2,362.5 350.3,359.0 350.4,355.1 350.4,350.7 350.5,345.9 350.6,340.6 350.7,335.1 350.8,329.2 350.9,323.2 351.0,317.1 351.1,311.0 351.2,305.3 351.2,299.9 351.3,295.3 351.4,291.4 351.5,288.6 351.6,287.0 351.7,286.6 351.8,287.6 351.9,289.8 352.0,293.1 352.0,297.4 352.1,302.4 352.2,308.0 352.3,313.9 352.4,320.0 352.5,326.0 352.6,332.0 352.7,337.8 352.8,343.2 352.8,348.2 352.9,352.8 353.0,357.0 353.1,360.8 353.2,364.0 353.3,366.9 353.4,369.4 353.5,371.5 353.5,373.3 353.6,374.7 353.7,376.0 353.8,377.0 353.9,377.9 354.0,378.6 354.1,379.1 354.2,379.6 354.3,380.0 354.3,380.3 354.4,380.6 354.5,380.8 354.6,381.0 354.7,381.2 354.8,381.4 354.9,381.5 355.0,381.6 355.1,381.8 355.1,381.9 355.2,382.0 355.3,382.0 355.4,382.1 355.5,382.2 355.6,382.3 355.7,382.4 355.8,382.4 355.9,382.5 355.9,382.5 356.0,382.6 356.1,382.6 356.2,382.7 356.3,382.7 356.4,382.8 356.5,382.8 356.6,382.9 356.6,382.9 356.7,382.9 356.8,383.0 356.9,383.0 357.0,383.0 357.1,383.1 357.2,383.1 357.3,383.1 357.4,383.1 357.4,383.2 357.5,383.2 357.6,383.2 357.7,383.2 357.8,383.2 357.9,383.3 358.0,383.3 358.1,383.3 358.2,383.3 358.2,383.3 358.3,383.3 358.4,383.4 358.5,383.4 358.6,383.4 358.7,383.4 358.8,383.4 358.9,383.4 358.9,383.4 359.0,383.5 359.1,383.5 359.2,383.5 359.3,383.5 359.4,383.5 359.5,383.5 359.6,383.5 359.7,383.5 359.7,383.5 359.8,383.5 359.9,383.6 360.0,383.6 360.1,383.6 360.2,383.6 360.3,383.6 360.4,383.6 360.5,383.6 360.5,383.6 360.6,383.6 360.7,383.6 360.8,383.6 360.9,383.6 361.0,383.6 361.1,383.6 361.2,383.7 361.3,383.7 361.3,383.7 361.4,383.7 361.5,383.7 361.6,383.7 361.7,383.7 361.8,383.7 361.9,383.7 362.0,383.7 362.0,383.7 362.1,383.7 362.2,383.7 362.3,383.7 362.4,383.7 362.5,383.7 362.6,383.7 362.7,383.7 362.8,383.7 362.8,383.7 362.9,383.7 363.0,383.7 363.1,383.7 363.2,383.8 363.3,383.8 363.4,383.8 363.5,383.8 363.6,383.8 363.6,383.8 363.7,383.8 363.8,383.8 363.9,383.8 364.0,383.8 364.1,383.8 364.2,383.8 364.3,383.8 364.3,383.8 364.4,383.8 364.5,383.8 364.6,383.8 364.7,383.8 364.8,383.8 364.9,383.8 365.0,383.8 365.1,383.8 365.1,383.8 365.2,383.8 365.3,383.8 365.4,383.8 365.5,383.8 365.6,383.8 365.7,383.8 365.8,383.8 365.9,383.8 365.9,383.8 366.0,383.8 366.1,383.8 366.2,383.8 366.3,383.8 366.4,383.8 366.5,383.8 366.6,383.8 366.7,383.8 366.7,383.8 366.8,383.8 366.9,383.8 367.0,383.8 367.1,383.8 367.2,383.8 367.3,383.9 367.4,383.9 367.4,383.9 367.5,383.9 367.6,383.9 367.7,383.9 367.8,383.9 367.9,383.9 368.0,383.9 368.1,383.9 368.2,383.9 368.2,383.9 368.3,383.9 368.4,383.9 368.5,383.9 368.6,383.9 368.7,383.9 368.8,383.9 368.9,383.9 369.0,383.9 369.0,383.9 369.1,383.9 369.2,383.9 369.3,383.9 369.4,383.9 369.5,383.9 369.6,383.9 369.7,383.9 369.8,383.9 369.8,383.9 369.9,383.9 370.0,383.9 370.1,383.9 370.2,383.9 370.3,383.9 370.4,383.9 370.5,383.9 370.5,383.9 370.6,383.9 370.7,383.9 370.8,383.9 370.9,383.9 371.0,383.9 371.1,383.9 371.2,383.9 371.3,383.9 371.3,383.9 371.4,383.9 371.5,383.9 371.6,383.9 371.7,383.9 371.8,383.9 371.9,383.9 372.0,383.9 372.1,383.9 372.1,383.9 372.2,383.9 372.3,383.9 372.4,383.9 372.5,383.9 372.6,383.9 372.7,383.9 372.8,383.9 372.8,383.9 372.9,383.9 373.0,383.9 373.1,383.9 373.2,383.9 373.3,383.9 373.4,383.9 373.5,383.9 373.6,383.9 373.6,383.9 373.7,383.9 373.8,383.9 373.9,383.9 374.0,383.9 374.1,383.9 374.2,383.9 374.3,383.9 374.4,383.9 374.4,383.9 374.5,383.9 374.6,383.9 374.7,383.9 374.8,383.9 374.9,383.9 375.0,383.9 375.1,383.9 375.2,383.9 375.2,383.9 375.3,383.9 375.4,383.9 375.5,383.9 375.6,383.9 375.7,383.9 375.8,383.9 375.9,383.9 375.9,383.9 376.0,383.9 376.1,383.9 376.2,383.9 376.3,383.9 376.4,383.9 376.5,383.9 376.6,383.9 376.7,383.9 376.7,383.9 376.8,383.9 376.9,383.9 377.0,383.9 377.1,383.9 377.2,383.9 377.3,383.9 377.4,383.9 377.5,383.9 377.5,383.9 377.6,383.9 377.7,383.9 377.8,383.9 377.9,383.9 378.0,383.9 378.1,383.9 378.2,383.9 378.3,383.9 378.3,383.9 378.4,383.9 378.5,383.9 378.6,383.9 378.7,383.9 378.8,383.9 378.9,383.9 379.0,383.9 379.0,383.9 379.1,383.9 379.2,383.9 379.3,383.9 379.4,383.9 379.5,383.9 379.6,383.9 379.7,383.9 379.8,383.9 379.8,383.9 379.9,383.9 380.0,383.9 380.1,383.9 380.2,383.9 380.3,383.9 380.4,383.9 380.5,383.9 380.6,383.9 380.6,383.9 380.7,383.9 380.8,383.9 380.9,383.9 381.0,383.9 381.1,383.9 381.2,383.9 381.3,383.9 381.3,383.9 381.4,383.9 381.5,383.9 381.6,383.9 381.7,383.9 381.8,383.9 381.9,383.9 382.0,383.9 382.1,383.9 382.1,383.9 382.2,383.9 382.3,383.9 382.4,383.9 382.5,383.9 382.6,383.9 382.7,383.9 382.8,383.9 382.9,383.9 382.9,383.9 383.0,383.9 383.1,383.9 383.2,383.9 383.3,383.9 383.4,383.9 383.5,383.9 383.6,383.9 383.7,383.9 383.7,383.9 383.8,383.9 383.9,383.9 384.0,383.9 384.1,383.9 384.2,383.9 384.3,383.9 384.4,383.9 384.4,383.9 384.5,383.9 384.6,383.9 384.7,383.9 384.8,383.9 384.9,383.9 385.0,383.9 385.1,383.9 385.2,383.9 385.2,383.9 385.3,383.9 385.4,383.9 385.5,383.9 385.6,383.9 385.7,383.9 385.8,383.9 385.9,383.9 386.0,383.9 386.0,383.9 386.1,383.9 386.2,384.0 386.3,384.0 386.4,384.0 386.5,384.0 386.6,384.0 386.7,384.0 386.7,384.0 386.8,384.0 386.9,384.0 387.0,384.0 387.1,384.0 387.2,384.0 387.3,384.0 387.4,384.0 387.5,384.0 387.5,384.0 387.6,384.0 387.7,384.0 387.8,384.0 387.9,384.0 388.0,384.0 388.1,384.0 388.2,384.0 388.3,384.0 388.3,384.0 388.4,384.0 388.5,384.0 388.6,384.0 388.7,384.0 388.8,384.0 388.9,384.0 389.0,384.0 389.1,384.0 389.1,384.0 389.2,384.0 389.3,384.0 389.4,384.0 389.5,384.0 389.6,384.0 389.7,384.0 389.8,384.0 389.8,384.0 389.9,384.0 390.0,384.0 390.1,384.0 390.2,384.0 390.3,384.0 390.4,384.0 390.5,384.0 390.6,384.0 390.6,384.0 390.7,384.0 390.8,384.0 390.9,384.0 391.0,384.0 391.1,384.0 391.2,384.0 391.3,384.0 391.4,384.0 391.4,384.0 391.5,384.0 391.6,384.0 391.7,384.0 391.8,384.0 391.9,384.0 392.0,384.0 392.1,384.0 392.2,384.0 392.2,384.0 392.3,384.0 392.4,384.0 392.5,384.0 392.6,384.0 392.7,384.0 392.8,384.0 392.9,384.0 392.9,384.0 393.0,384.0 393.1,384.0 393.2,384.0 393.3,384.0 393.4,384.0 393.5,384.0 393.6,384.0 393.7,384.0 393.7,384.0 393.8,384.0 393.9,384.0 394.0,384.0 394.1,384.0 394.2,384.0 394.3,384.0 394.4,384.0 394.5,384.0 394.5,384.0 394.6,384.0 394.7,384.0 394.8,384.0 394.9,384.0 395.0,384.0 395.1,384.0 395.2,384.0 395.2,384.0 395.3,384.0 395.4,384.0 395.5,384.0 395.6,384.0 395.7,384.0 395.8,384.0 395.9,384.0 396.0,384.0 396.0,384.0 396.1,384.0 396.2,384.0 396.3,384.0 396.4,384.0 396.5,384.0 396.6,384.0 396.7,384.0 396.8,384.0 396.8,384.0 396.9,384.0 397.0,384.0 397.1,384.0 397.2,384.0 397.3,384.0 397.4,384.0 397.5,384.0 397.6,384.0 397.6,384.0 397.7,384.0 397.8,384.0 397.9,384.0 398.0,384.0 398.1,384.0 398.2,384.0 398.3,384.0 398.3,384.0 398.4,384.0 398.5,384.0 398.6,384.0 398.7,384.0 398.8,384.0 398.9,384.0 399.0,384.0 399.1,384.0 399.1,384.0 399.2,384.0 399.3,384.0 399.4,384.0 399.5,384.0 399.6,384.0 399.7,384.0 399.8,383.9 399.9,383.9 399.9,383.9 400.0,383.9 400.1,383.9 400.2,383.9 400.3,383.9 400.4,383.9 400.5,383.9 400.6,383.9 400.6,383.9 400.7,383.9 400.8,383.9 400.9,383.9 401.0,383.9 401.1,383.9 401.2,383.9 401.3,383.9 401.4,383.9 401.4,383.9 401.5,383.9 401.6,383.9 401.7,383.9 401.8,383.9 401.9,383.9 402.0,383.9 402.1,383.9 402.2,383.9 402.2,383.9 402.3,383.9 402.4,383.9 402.5,383.9 402.6,383.9 402.7,383.9 402.8,383.9 402.9,383.9 403.0,383.9 403.0,383.9 403.1,383.9 403.2,383.9 403.3,383.9 403.4,383.9 403.5,383.9 403.6,383.9 403.7,383.9 403.7,383.9 403.8,383.9 403.9,383.9 404.0,383.9 404.1,383.9 404.2,383.9 404.3,383.9 404.4,383.9 404.5,383.9 404.5,383.9 404.6,383.9 404.7,383.9 404.8,383.9 404.9,383.9 405.0,383.9 405.1,383.9 405.2,383.9 405.3,383.9 405.3,383.9 405.4,383.9 405.5,383.9 405.6,383.9 405.7,383.9 405.8,383.9 405.9,383.9 406.0,383.9 406.1,383.9 406.1,383.9 406.2,383.9 406.3,383.9 406.4,383.9 406.5,383.9 406.6,383.9 406.7,383.9 406.8,383.9 406.8,383.9 406.9,383.9 407.0,383.9 407.1,383.9 407.2,383.9 407.3,383.9 407.4,383.9 407.5,383.9 407.6,383.9 407.6,383.9 407.7,383.9 407.8,383.9 407.9,383.9 408.0,383.9 408.1,383.9 408.2,383.9 408.3,383.9 408.4,383.9 408.4,383.9 408.5,383.9 408.6,383.9 408.7,383.9 408.8,383.9 408.9,383.9 409.0,383.9 409.1,383.9 409.1,383.9 409.2,383.9 409.3,383.9 409.4,383.9 409.5,383.9 409.6,383.9 409.7,383.9 409.8,383.9 409.9,383.9 409.9,383.9 410.0,383.9 410.1,383.9 410.2,383.9 410.3,383.9 410.4,383.9 410.5,383.9 410.6,383.9 410.7,383.9 410.7,383.9 410.8,383.9 410.9,383.9 411.0,383.9 411.1,383.9 411.2,383.9 411.3,383.9 411.4,383.9 411.5,383.9 411.5,383.9 411.6,383.9 411.7,383.9 411.8,383.9 411.9,383.9 412.0,383.9 412.1,383.9 412.2,383.9 412.2,383.9 412.3,383.9 412.4,383.9 412.5,383.9 412.6,383.9 412.7,383.9 412.8,383.9 412.9,383.9 413.0,383.9 413.0,383.9 413.1,383.9 413.2,383.8 413.3,383.8 413.4,383.8 413.5,383.8 413.6,383.8 413.7,383.8 413.8,383.8 413.8,383.8 413.9,383.8 414.0,383.8 414.1,383.8 414.2,383.8 414.3,383.8 414.4,383.8 414.5,383.8 414.6,383.8 414.6,383.8 414.7,383.8 414.8,383.8 414.9,383.8 415.0,383.8 415.1,383.8 415.2,383.8 415.3,383.8 415.3,383.8 415.4,383.8 415.5,383.8 415.6,383.8 415.7,383.8 415.8,383.8 415.9,383.7 416.0,383.7 416.1,383.7 416.1,383.7 416.2,383.7 416.3,383.7 416.4,383.7 416.5,383.7 416.6,383.7 416.7,383.7 416.8,383.7 416.9,383.7 416.9,383.7 417.0,383.7 417.1,383.7 417.2,383.6 417.3,383.6 417.4,383.6 417.5,383.6 417.6,383.6 417.6,383.6 417.7,383.6 417.8,383.6 417.9,383.6 418.0,383.5 418.1,383.5 418.2,383.5 418.3,383.5 418.4,383.5 418.4,383.5 418.5,383.5 418.6,383.4 418.7,383.4 418.8,383.4 418.9,383.4 419.0,383.4 419.1,383.3 419.2,383.3 419.2,383.3 419.3,383.3 419.4,383.2 419.5,383.2 419.6,383.2 419.7,383.1 419.8,383.1 419.9,383.1 420.0,383.0 420.0,383.0 420.1,382.9 420.2,382.9 420.3,382.8 420.4,382.8 420.5,382.7 420.6,382.6 420.7,382.5 420.7,382.4 420.8,382.3 420.9,382.2 421.0,382.1 421.1,381.9 421.2,381.7 421.3,381.4 421.4,381.1 421.5,380.8 421.5,380.3 421.6,379.8 421.7,379.1 421.8,378.4 421.9,377.4 422.0,376.3 422.1,375.0 422.2,373.5 422.3,371.8 422.3,369.8 422.4,367.6 422.5,365.1 422.6,362.4 422.7,359.5 422.8,356.4 422.9,353.2 423.0,349.9 423.0,346.6 423.1,343.4 423.2,340.3 423.3,337.5 423.4,335.1 423.5,333.2 423.6,331.9 423.7,331.2 423.8,331.3 423.8,332.1 423.9,333.5 424.0,335.5 424.1,337.9 424.2,340.8 424.3,343.8 424.4,347.1 424.5,350.4 424.6,353.7 424.6,356.9 424.7,360.0 424.8,362.8 424.9,365.5 425.0,367.9 425.1,370.1 425.2,372.1 425.3,373.8 425.4,375.2 425.4,376.5 425.5,377.6 425.6,378.5 425.7,379.2 425.8,379.9 425.9,380.4 426.0,380.8 426.1,381.2 426.1,381.5 426.2,381.7 426.3,381.9 426.4,382.1 426.5,382.2 426.6,382.3 426.7,382.5 426.8,382.5 426.9,382.6 426.9,382.7 427.0,382.8 427.1,382.8 427.2,382.9 427.3,382.9 427.4,383.0 427.5,383.0 427.6,383.1 427.7,383.1 427.7,383.1 427.8,383.2 427.9,383.2 428.0,383.2 428.1,383.3 428.2,383.3 428.3,383.3 428.4,383.3 428.5,383.4 428.5,383.4 428.6,383.4 428.7,383.4 428.8,383.4 428.9,383.5 429.0,383.5 429.1,383.5 429.2,383.5 429.2,383.5 429.3,383.5 429.4,383.5 429.5,383.6 429.6,383.6 429.7,383.6 429.8,383.6 429.9,383.6 430.0,383.6 430.0,383.6 430.1,383.6 430.2,383.6 430.3,383.7 430.4,383.7 430.5,383.7 430.6,383.7 430.7,383.7 430.8,383.7 430.8,383.7 430.9,383.7 431.0,383.7 431.1,383.7 431.2,383.7 431.3,383.7 431.4,383.7 431.5,383.7 431.5,383.7 431.6,383.8 431.7,383.8 431.8,383.8 431.9,383.8 432.0,383.8 432.1,383.8 432.2,383.8 432.3,383.8 432.3,383.8 432.4,383.8 432.5,383.8 432.6,383.8 432.7,383.8 432.8,383.8 432.9,383.8 433.0,383.8 433.1,383.8 433.1,383.8 433.2,383.8 433.3,383.8 433.4,383.8 433.5,383.8 433.6,383.8 433.7,383.8 433.8,383.8 433.9,383.8 433.9,383.8 434.0,383.8 434.1,383.8 434.2,383.8 434.3,383.8 434.4,383.9 434.5,383.9 434.6,383.9 434.6,383.9 434.7,383.9 434.8,383.9 434.9,383.9 435.0,383.9 435.1,383.9 435.2,383.9 435.3,383.9 435.4,383.9 435.4,383.9 435.5,383.9 435.6,383.9 435.7,383.9 435.8,383.9 435.9,383.9 436.0,383.9 436.1,383.9 436.2,383.9 436.2,383.9 436.3,383.9 436.4,383.9 436.5,383.9 436.6,383.9 436.7,383.9 436.8,383.9 436.9,383.9 436.9,383.9 437.0,383.9 437.1,383.9 437.2,383.9 437.3,383.9 437.4,383.9 437.5,383.9 437.6,383.9 437.7,383.9 437.7,383.9 437.8,383.9 437.9,383.9 438.0,383.9 438.1,383.9 438.2,383.9 438.3,383.9 438.4,383.9 438.5,383.9 438.5,383.9 438.6,383.9 438.7,383.9 438.8,383.9 438.9,383.9 439.0,383.9 439.1,383.9 439.2,383.9 439.3,383.9 439.3,383.9 439.4,383.9 439.5,383.9 439.6,383.9 439.7,383.9 439.8,383.9 439.9,383.9 440.0,383.9 440.0,383.9 440.1,383.9 440.2,383.9 440.3,383.9 440.4,383.9 440.5,383.9 440.6,383.9 440.7,383.9 440.8,383.9 440.8,383.9 440.9,383.9 441.0,383.9 441.1,383.9 441.2,383.9 441.3,383.9 441.4,383.9 441.5,383.9 441.6,383.9 441.6,383.9 441.7,383.9 441.8,383.9 441.9,383.9 442.0,383.9 442.1,383.9 442.2,383.9 442.3,383.9 442.4,383.9 442.4,383.9 442.5,383.9 442.6,383.9 442.7,383.9 442.8,383.9 442.9,383.9 443.0,383.9 443.1,383.9 443.1,383.9 443.2,383.9 443.3,383.9 443.4,383.9 443.5,383.9 443.6,383.9 443.7,383.9 443.8,383.9 443.9,383.9 443.9,383.9 444.0,383.9 444.1,383.9 444.2,383.9 444.3,383.9 444.4,383.9 444.5,383.9 444.6,383.9 444.7,383.9 444.7,383.9 444.8,383.9 444.9,383.9 445.0,383.9 445.1,383.9 445.2,383.9 445.3,383.9 445.4,383.9 445.4,383.9 445.5,383.9 445.6,383.9 445.7,383.9 445.8,383.9 445.9,383.9 446.0,383.9 446.1,383.9 446.2,383.9 446.2,383.9 446.3,383.9 446.4,383.9 446.5,383.9 446.6,383.9 446.7,383.9 446.8,383.9 446.9,383.9 447.0,383.9 447.0,383.9 447.1,383.9 447.2,383.9 447.3,383.9 447.4,383.9 447.5,383.9 447.6,383.9 447.7,383.9 447.8,383.9 447.8,383.9 447.9,383.9 448.0,383.9 448.1,383.9 448.2,383.9 448.3,383.9 448.4,383.9 448.5,383.9 448.5,383.9 448.6,383.9 448.7,383.9 448.8,383.9 448.9,383.9 449.0,383.9 449.1,383.9 449.2,383.9 449.3,383.9 449.3,383.9 449.4,383.9 449.5,383.9 449.6,383.9 449.7,383.9 449.8,383.9 449.9,383.9 450.0,383.9 450.1,383.9 450.1,383.9 450.2,383.9 450.3,383.9 450.4,383.9 450.5,383.9 450.6,383.9 450.7,383.9 450.8,383.9 450.9,383.9 450.9,383.9 451.0,383.9 451.1,383.9 451.2,383.9 451.3,383.9 451.4,383.9 451.5,383.9 451.6,383.9 451.6,383.9 451.7,383.9 451.8,383.9 451.9,383.9 452.0,383.9 452.1,383.9 452.2,383.9 452.3,383.9 452.4,383.9 452.4,383.9 452.5,383.9 452.6,383.9 452.7,383.9 452.8,383.9 452.9,383.9 453.0,383.9 453.1,383.9 453.2,383.9 453.2,383.9 453.3,383.9 453.4,383.9 453.5,383.9 453.6,383.9 453.7,383.9 453.8,383.9 453.9,383.9 453.9,383.9 454.0,383.9 454.1,383.9 454.2,383.9 454.3,383.9 454.4,383.9 454.5,383.9 454.6,383.9 454.7,383.9 454.7,383.9 454.8,383.9 454.9,383.9 455.0,383.9 455.1,383.9 455.2,383.9 455.3,383.9 455.4,383.9 455.5,383.9 455.5,383.9 455.6,383.9 455.7,383.9 455.8,383.9 455.9,383.9 456.0,383.9 456.1,383.9 456.2,383.9 456.3,383.9 456.3,383.9 456.4,383.9 456.5,383.9 456.6,383.9 456.7,383.9 456.8,383.9 456.9,383.9 457.0,383.9 457.0,383.9 457.1,383.9 457.2,383.9 457.3,383.9 457.4,383.9 457.5,383.9 457.6,383.9 457.7,383.9 457.8,383.9 457.8,383.9 457.9,383.9 458.0,383.9 458.1,383.9 458.2,383.8 458.3,383.8 458.4,383.8 458.5,383.8 458.6,383.8 458.6,383.8 458.7,383.8 458.8,383.8 458.9,383.8 459.0,383.8 459.1,383.8 459.2,383.8 459.3,383.8 459.3,383.8 459.4,383.8 459.5,383.8 459.6,383.8 459.7,383.8 459.8,383.8 459.9,383.8 460.0,383.8 460.1,383.8 460.1,383.8 460.2,383.8 460.3,383.8 460.4,383.8 460.5,383.8 460.6,383.8 460.7,383.8 460.8,383.8 460.9,383.8 460.9,383.8 461.0,383.7 461.1,383.7 461.2,383.7 461.3,383.7 461.4,383.7 461.5,383.7 461.6,383.7 461.7,383.7 461.7,383.7 461.8,383.7 461.9,383.7 462.0,383.7 462.1,383.7 462.2,383.7 462.3,383.7 462.4,383.7 462.4,383.6 462.5,383.6 462.6,383.6 462.7,383.6 462.8,383.6 462.9,383.6 463.0,383.6 463.1,383.6 463.2,383.6 463.2,383.5 463.3,383.5 463.4,383.5 463.5,383.5 463.6,383.5 463.7,383.5 463.8,383.5 463.9,383.4 464.0,383.4 464.0,383.4 464.1,383.4 464.2,383.4 464.3,383.3 464.4,383.3 464.5,383.3 464.6,383.3 464.7,383.3 464.8,383.2 464.8,383.2 464.9,383.2 465.0,383.1 465.1,383.1 465.2,383.1 465.3,383.0 465.4,383.0 465.5,382.9 465.5,382.9 465.6,382.8 465.7,382.8 465.8,382.7 465.9,382.6 466.0,382.6 466.1,382.5 466.2,382.4 466.3,382.3 466.3,382.2 466.4,382.0 466.5,381.9 466.6,381.7 466.7,381.4 466.8,381.2 466.9,380.8 467.0,380.4 467.1,379.9 467.1,379.3 467.2,378.6 467.3,377.7 467.4,376.7 467.5,375.5 467.6,374.0 467.7,372.3 467.8,370.4 467.8,368.2 467.9,365.8 468.0,363.1 468.1,360.1 468.2,356.9 468.3,353.6 468.4,350.1 468.5,346.5 468.6,343.0 468.6,339.6 468.7,336.3 468.8,333.4 468.9,330.9 469.0,329.0 469.1,327.7 469.2,327.2 469.3,327.4 469.4,328.4 469.4,330.0 469.5,332.3 469.6,335.0 469.7,338.2 469.8,341.5 469.9,345.1 470.0,348.6 470.1,352.1 470.2,355.6 470.2,358.8 470.3,361.9 470.4,364.7 470.5,367.2 470.6,369.5 470.7,371.5 470.8,373.3 470.9,374.9 470.9,376.2 471.0,377.3 471.1,378.2 471.2,379.0 471.3,379.7 471.4,380.2 471.5,380.7 471.6,381.0 471.7,381.3 471.7,381.6 471.8,381.8 471.9,382.0 472.0,382.1 472.1,382.2 472.2,382.3 472.3,382.4 472.4,382.5 472.5,382.6 472.5,382.7 472.6,382.7 472.7,382.8 472.8,382.8 472.9,382.9 473.0,382.9 473.1,383.0 473.2,383.0 473.3,383.1 473.3,383.1 473.4,383.1 473.5,383.2 473.6,383.2 473.7,383.2 473.8,383.2 473.9,383.3 474.0,383.3 474.0,383.3 474.1,383.3 474.2,383.4 474.3,383.4 474.4,383.4 474.5,383.4 474.6,383.4 474.7,383.4 474.8,383.5 474.8,383.5 474.9,383.5 475.0,383.5 475.1,383.5 475.2,383.5 475.3,383.5 475.4,383.5 475.5,383.6 475.6,383.6 475.6,383.6 475.7,383.6 475.8,383.6 475.9,383.6 476.0,383.6 476.1,383.6 476.2,383.6 476.3,383.6 476.3,383.6 476.4,383.6 476.5,383.6 476.6,383.7 476.7,383.7 476.8,383.7 476.9,383.7 477.0,383.7 477.1,383.7 477.1,383.7 477.2,383.7 477.3,383.7 477.4,383.7 477.5,383.7 477.6,383.7 477.7,383.7 477.8,383.7 477.9,383.7 477.9,383.7 478.0,383.7 478.1,383.7 478.2,383.7 478.3,383.7 478.4,383.7 478.5,383.7 478.6,383.7 478.7,383.7 478.7,383.7 478.8,383.7 478.9,383.7 479.0,383.7 479.1,383.7 479.2,383.7 479.3,383.7 479.4,383.7 479.4,383.7 479.5,383.7 479.6,383.7 479.7,383.7 479.8,383.7 479.9,383.7 480.0,383.7 480.1,383.7 480.2,383.7 480.2,383.7 480.3,383.7 480.4,383.7 480.5,383.7 480.6,383.7 480.7,383.7 480.8,383.7 480.9,383.6 481.0,383.6 481.0,383.6 481.1,383.6 481.2,383.6 481.3,383.6 481.4,383.6 481.5,383.6 481.6,383.6 481.7,383.5 481.7,383.5 481.8,383.5 481.9,383.5 482.0,383.5 482.1,383.4 482.2,383.4 482.3,383.4 482.4,383.3 482.5,383.3 482.5,383.2 482.6,383.2 482.7,383.1 482.8,383.0 482.9,382.9 483.0,382.7 483.1,382.6 483.2,382.3 483.3,382.1 483.3,381.8 483.4,381.4 483.5,381.0 483.6,380.5 483.7,380.0 483.8,379.3 483.9,378.6 484.0,377.8 484.1,377.0 484.1,376.0 484.2,375.1 484.3,374.1 484.4,373.0 484.5,372.0 484.6,371.0 484.7,370.1 484.8,369.3 484.8,368.6 484.9,368.0 485.0,367.7 485.1,367.5 485.2,367.6 485.3,367.9 485.4,368.4 485.5,369.1 485.6,369.9 485.6,370.8 485.7,371.8 485.8,372.8 485.9,373.8 486.0,374.8 486.1,375.8 486.2,376.7 486.3,377.6 486.4,378.4 486.4,379.2 486.5,379.8 486.6,380.4 486.7,380.9 486.8,381.3 486.9,381.7 487.0,382.0 487.1,382.3 487.2,382.5 487.2,382.7 487.3,382.9 487.4,383.0 487.5,383.1 487.6,383.2 487.7,383.3 487.8,383.3 487.9,383.4 487.9,383.4 488.0,383.5 488.1,383.5 488.2,383.5 488.3,383.5 488.4,383.6 488.5,383.6 488.6,383.6 488.7,383.6 488.7,383.6 488.8,383.6 488.9,383.7 489.0,383.7 489.1,383.7 489.2,383.7 489.3,383.7 489.4,383.7 489.5,383.7 489.5,383.7 489.6,383.7 489.7,383.8 489.8,383.8 489.9,383.8 490.0,383.8 490.1,383.8 490.2,383.8 490.2,383.8 490.3,383.8 490.4,383.8 490.5,383.8 490.6,383.8 490.7,383.8 490.8,383.8 490.9,383.8 491.0,383.8 491.0,383.8 491.1,383.8 491.2,383.8 491.3,383.8 491.4,383.9 491.5,383.9 491.6,383.9 491.7,383.9 491.8,383.9 491.8,383.9 491.9,383.9 492.0,383.9 492.1,383.9 492.2,383.9 492.3,383.9 492.4,383.9 492.5,383.9 492.6,383.9 492.6,383.9 492.7,383.9 492.8,383.9 492.9,383.9 493.0,383.9 493.1,383.9 493.2,383.9 493.3,383.9 493.3,383.9 493.4,383.9 493.5,383.9 493.6,383.9 493.7,383.9 493.8,383.9 493.9,383.9 494.0,383.9 494.1,383.9 494.1,383.9 494.2,383.9 494.3,383.9 494.4,383.9 494.5,383.9 494.6,383.9 494.7,383.9 494.8,383.9 494.9,383.9 494.9,383.9 495.0,383.9 495.1,383.9 495.2,383.9 495.3,383.9 495.4,383.9 495.5,383.9 495.6,383.9 495.6,383.9 495.7,383.9 495.8,383.9 495.9,383.9 496.0,383.9 496.1,383.9 496.2,383.9 496.3,383.9 496.4,383.9 496.4,383.9 496.5,383.9 496.6,383.9 496.7,383.9 496.8,383.9 496.9,383.9 497.0,383.9 497.1,383.9 497.2,383.9 497.2,383.9 497.3,383.9 497.4,383.9 497.5,383.9 497.6,383.9 497.7,383.9 497.8,383.9 497.9,383.9 498.0,383.9 498.0,383.9 498.1,383.9 498.2,383.9 498.3,384.0 498.4,384.0 498.5,384.0 498.6,384.0 498.7,384.0 498.7,384.0 498.8,384.0 498.9,384.0 499.0,384.0 499.1,384.0 499.2,384.0 499.3,384.0 499.4,384.0 499.5,384.0 499.5,384.0 499.6,384.0 499.7,384.0 499.8,384.0 499.9,384.0 500.0,384.0 500.1,384.0 500.2,384.0 500.3,384.0 500.3,384.0 500.4,384.0 500.5,384.0 500.6,384.0 500.7,384.0 500.8,384.0 500.9,384.0 501.0,384.0 501.1,384.0 501.1,384.0 501.2,384.0 501.3,384.0 501.4,384.0 501.5,384.0 501.6,384.0 501.7,384.0 501.8,384.0 501.8,384.0 501.9,384.0 502.0,384.0 502.1,384.0 502.2,384.0 502.3,384.0 502.4,384.0 502.5,384.0 502.6,384.0 502.6,384.0 502.7,384.0 502.8,384.0 502.9,384.0 503.0,384.0 503.1,384.0 503.2,384.0 503.3,384.0 503.4,384.0 503.4,384.0 503.5,384.0 503.6,384.0 503.7,384.0 503.8,384.0 503.9,384.0 504.0,384.0 504.1,384.0 504.1,384.0 504.2,384.0 504.3,384.0 504.4,384.0 504.5,384.0 504.6,384.0 504.7,384.0 504.8,384.0 504.9,384.0 504.9,384.0 505.0,384.0 505.1,384.0 505.2,384.0 505.3,384.0 505.4,384.0 505.5,384.0 505.6,384.0 505.7,384.0 505.7,384.0 505.8,384.0 505.9,384.0 506.0,384.0 506.1,384.0 506.2,384.0 506.3,384.0 506.4,384.0 506.5,384.0 506.5,384.0 506.6,384.0 506.7,384.0 506.8,384.0 506.9,384.0 507.0,384.0 507.1,384.0 507.2,384.0 507.2,384.0 507.3,384.0 507.4,384.0 507.5,384.0 507.6,384.0 507.7,384.0 507.8,384.0 507.9,384.0 508.0,384.0 508.0,384.0 508.1,384.0 508.2,384.0 508.3,384.0 508.4,384.0 508.5,384.0 508.6,384.0 508.7,384.0 508.8,384.0 508.8,384.0 508.9,384.0 509.0,384.0 509.1,384.0 509.2,384.0 509.3,384.0 509.4,384.0 509.5,384.0 509.6,384.0 509.6,384.0 509.7,384.0 509.8,384.0 509.9,384.0 510.0,384.0 510.1,384.0 510.2,384.0 510.3,384.0 510.3,384.0 510.4,384.0 510.5,384.0 510.6,384.0 510.7,384.0 510.8,384.0 510.9,384.0 511.0,384.0 511.1,384.0 511.1,384.0 511.2,384.0 511.3,384.0 511.4,384.0 511.5,384.0 511.6,384.0 511.7,384.0 511.8,384.0 511.9,384.0 511.9,384.0 512.0,384.0 512.1,384.0 512.2,384.0 512.3,384.0 512.4,384.0 512.5,384.0 512.6,384.0 512.6,384.0 512.7,384.0 512.8,384.0 512.9,384.0 513.0,384.0 513.1,384.0 513.2,384.0 513.3,384.0 513.4,384.0 513.4,384.0 513.5,384.0 513.6,384.0 513.7,384.0 513.8,384.0"/>
<polyline fill="none" stroke="#1a1ae0" stroke-width="1.8" stroke-dasharray="1.7 2.0" points="301.4,383.9 301.5,383.9 301.6,383.9 301.7,383.9 301.8,383.9 301.8,383.9 301.9,383.9 302.0,383.9 302.1,383.9 302.2,383.9 302.3,383.9 302.4,383.9 302.5,383.9 302.6,383.9 302.6,383.9 302.7,383.9 302.8,383.9 302.9,383.9 303.0,383.9 303.1,383.9 303.2,383.9 303.3,383.9 303.3,383.9 303.4,383.9 303.5,383.9 303.6,383.9 303.7,383.9 303.8,383.9 303.9,383.9 304.0,383.9 304.1,383.9 304.1,383.9 304.2,383.9 304.3,383.9 304.4,383.9 304.5,383.9 304.6,383.9 304.7,383.9 304.8,383.9 304.9,383.9 304.9,383.9 305.0,383.9 305.1,383.9 305.2,383.9 305.3,383.9 305.4,383.9 305.5,383.9 305.6,383.9 305.6,383.9 305.7,383.9 305.8,383.9 305.9,383.9 306.0,383.9 306.1,383.9 306.2,383.9 306.3,383.9 306.4,383.9 306.4,383.9 306.5,383.9 306.6,383.9 306.7,383.9 306.8,383.9 306.9,383.9 307.0,383.9 307.1,383.9 307.2,383.9 307.2,383.9 307.3,383.9 307.4,383.9 307.5,383.9 307.6,383.9 307.7,383.9 307.8,383.9 307.9,383.9 308.0,383.9 308.0,383.9 308.1,383.9 308.2,383.9 308.3,383.9 308.4,383.9 308.5,383.9 308.6,383.9 308.7,383.9 308.7,383.9 308.8,383.9 308.9,383.9 309.0,383.9 309.1,383.9 309.2,383.9 309.3,383.9 309.4,383.9 309.5,383.9 309.5,383.9 309.6,383.9 309.7,383.9 309.8,383.9 309.9,383.9 310.0,383.9 310.1,383.9 310.2,383.9 310.3,383.9 310.3,383.9 310.4,383.9 310.5,383.9 310.6,383.9 310.7,383.9 310.8,383.9 310.9,383.9 311.0,383.9 311.1,383.9 311.1,383.9 311.2,383.9 311.3,383.9 311.4,383.9 311.5,383.9 311.6,383.9 311.7,383.9 311.8,383.9 311.8,383.9 311.9,383.9 312.0,383.9 312.1,383.9 312.2,383.9 312.3,383.9 312.4,383.9 312.5,383.9 312.6,383.9 312.6,383.9 312.7,383.9 312.8,383.9 312.9,383.9 313.0,383.9 313.1,383.9 313.2,383.9 313.3,383.9 313.4,383.9 313.4,383.9 313.5,383.9 313.6,383.9 313.7,383.9 313.8,383.9 313.9,383.9 314.0,383.9 314.1,383.9 314.1,383.9 314.2,383.9 314.3,383.9 314.4,383.9 314.5,383.9 314.6,383.9 314.7,383.9 314.8,383.9 314.9,383.9 314.9,383.9 315.0,383.9 315.1,383.9 315.2,383.9 315.3,383.9 315.4,383.9 315.5,383.9 315.6,383.9 315.7,383.9 315.7,383.9 315.8,383.9 315.9,383.9 316.0,383.9 316.1,383.9 316.2,383.9 316.3,383.9 316.4,383.9 316.5,383.9 316.5,383.8 316.6,383.8 316.7,383.8 316.8,383.8 316.9,383.8 317.0,383.8 317.1,383.8 317.2,383.8 317.2,383.8 317.3,383.8 317.4,383.8 317.5,383.8 317.6,383.8 317.7,383.8 317.8,383.8 317.9,383.8 318.0,383.8 318.0,383.8 318.1,383.8 318.2,383.8 318.3,383.8 318.4,383.8 318.5,383.8 318.6,383.8 318.7,383.8 318.8,383.8 318.8,383.8 318.9,383.8 319.0,383.8 319.1,383.8 319.2,383.8 319.3,383.8 319.4,383.8 319.5,383.8 319.6,383.8 319.6,383.8 319.7,383.8 319.8,383.8 319.9,383.8 320.0,383.8 320.1,383.8 320.2,383.8 320.3,383.8 320.3,383.8 320.4,383.8 320.5,383.8 320.6,383.8 320.7,383.8 320.8,383.8 320.9,383.8 321.0,383.8 321.1,383.8 321.1,383.8 321.2,383.8 321.3,383.8 321.4,383.8 321.5,383.8 321.6,383.7 321.7,383.7 321.8,383.7 321.9,383.7 321.9,383.7 322.0,383.7 322.1,383.7 322.2,383.7 322.3,383.7 322.4,383.7 322.5,383.7 322.6,383.7 322.6,383.7 322.7,383.7 322.8,383.7 322.9,383.7 323.0,383.7 323.1,383.7 323.2,383.7 323.3,383.7 323.4,383.7 323.4,383.7 323.5,383.7 323.6,383.7 323.7,383.7 323.8,383.7 323.9,383.7 324.0,383.7 324.1,383.7 324.2,383.6 324.2,383.6 324.3,383.6 324.4,383.6 324.5,383.6 324.6,383.6 324.7,383.6 324.8,383.6 324.9,383.6 325.0,383.6 325.0,383.6 325.1,383.6 325.2,383.6 325.3,383.6 325.4,383.6 325.5,383.6 325.6,383.6 325.7,383.6 325.7,383.6 325.8,383.5 325.9,383.5 326.0,383.5 326.1,383.5 326.2,383.5 326.3,383.5 326.4,383.5 326.5,383.5 326.5,383.5 326.6,383.5 326.7,383.5 326.8,383.5 326.9,383.5 327.0,383.4 327.1,383.4 327.2,383.4 327.3,383.4 327.3,383.4 327.4,383.4 327.5,383.4 327.6,383.4 327.7,383.4 327.8,383.4 327.9,383.3 328.0,383.3 328.0,383.3 328.1,383.3 328.2,383.3 328.3,383.3 328.4,383.3 328.5,383.3 328.6,383.2 328.7,383.2 328.8,383.2 328.8,383.2 328.9,383.2 329.0,383.2 329.1,383.1 329.2,383.1 329.3,383.1 329.4,383.1 329.5,383.1 329.6,383.0 329.6,383.0 329.7,383.0 329.8,383.0 329.9,383.0 330.0,382.9 330.1,382.9 330.2,382.9 330.3,382.9 330.4,382.8 330.4,382.8 330.5,382.8 330.6,382.7 330.7,382.7 330.8,382.7 330.9,382.6 331.0,382.6 331.1,382.6 331.1,382.5 331.2,382.5 331.3,382.4 331.4,382.4 331.5,382.3 331.6,382.3 331.7,382.2 331.8,382.2 331.9,382.1 331.9,382.1 332.0,382.0 332.1,381.9 332.2,381.9 332.3,381.8 332.4,381.7 332.5,381.6 332.6,381.5 332.7,381.5 332.7,381.3 332.8,381.2 332.9,381.1 333.0,381.0 333.1,380.8 333.2,380.7 333.3,380.5 333.4,380.3 333.5,380.0 333.5,379.8 333.6,379.4 333.7,379.1 333.8,378.6 333.9,378.1 334.0,377.5 334.1,376.8 334.2,376.0 334.2,375.0 334.3,373.8 334.4,372.5 334.5,370.9 334.6,369.1 334.7,367.0 334.8,364.6 334.9,361.8 335.0,358.7 335.0,355.2 335.1,351.3 335.2,346.9 335.3,342.1 335.4,336.8 335.5,331.1 335.6,325.0 335.7,318.4 335.8,311.5 335.8,304.2 335.9,296.6 336.0,288.9 336.1,281.0 336.2,273.0 336.3,265.2 336.4,257.5 336.5,250.1 336.5,243.2 336.6,236.9 336.7,231.3 336.8,226.5 336.9,222.7 337.0,219.9 337.1,218.3 337.2,217.9 337.3,218.7 337.3,220.7 337.4,223.8 337.5,228.0 337.6,233.1 337.7,238.9 337.8,245.5 337.9,252.6 338.0,260.0 338.1,267.8 338.1,275.7 338.2,283.6 338.3,291.5 338.4,299.2 338.5,306.7 338.6,313.8 338.7,320.7 338.8,327.1 338.9,333.1 338.9,338.6 339.0,343.7 339.1,348.4 339.2,352.6 339.3,356.4 339.4,359.8 339.5,362.7 339.6,365.4 339.6,367.7 339.7,369.7 339.8,371.4 339.9,372.9 340.0,374.2 340.1,375.3 340.2,376.2 340.3,377.0 340.4,377.7 340.4,378.2 340.5,378.7 340.6,379.1 340.7,379.5 340.8,379.8 340.9,380.1 341.0,380.3 341.1,380.5 341.2,380.7 341.2,380.8 341.3,381.0 341.4,381.1 341.5,381.2 341.6,381.3 341.7,381.4 341.8,381.5 341.9,381.6 341.9,381.7 342.0,381.7 342.1,381.8 342.2,381.9 342.3,381.9 342.4,382.0 342.5,382.1 342.6,382.1 342.7,382.2 342.7,382.2 342.8,382.3 342.9,382.3 343.0,382.3 343.1,382.4 343.2,382.4 343.3,382.5 343.4,382.5 343.5,382.5 343.5,382.6 343.6,382.6 343.7,382.6 343.8,382.6 343.9,382.7 344.0,382.7 344.1,382.7 344.2,382.7 344.3,382.8 344.3,382.8 344.4,382.8 344.5,382.8 344.6,382.9 344.7,382.9 344.8,382.9 344.9,382.9 345.0,382.9 345.0,382.9 345.1,383.0 345.2,383.0 345.3,383.0 345.4,383.0 345.5,383.0 345.6,383.0 345.7,383.0 345.8,383.1 345.8,383.1 345.9,383.1 346.0,383.1 346.1,383.1 346.2,383.1 346.3,383.1 346.4,383.1 346.5,383.1 346.6,383.1 346.6,383.1 346.7,383.1 346.8,383.2 346.9,383.2 347.0,383.2 347.1,383.2 347.2,383.2 347.3,383.2 347.4,383.2 347.4,383.2 347.5,383.2 347.6,383.2 347.7,383.2 347.8,383.2 347.9,383.2 348.0,383.2 348.1,383.2 348.1,383.2 348.2,383.2 348.3,383.2 348.4,383.2 348.5,383.2 348.6,383.2 348.7,383.2 348.8,383.2 348.9,383.2 348.9,383.2 349.0,383.2 349.1,383.2 349.2,383.2 349.3,383.2 349.4,383.2 349.5,383.2 349.6,383.2 349.7,383.2 349.7,383.2 349.8,383.2 349.9,383.2 350.0,383.2 350.1,383.2 350.2,383.2 350.3,383.2 350.4,383.1 350.4,383.1 350.5,383.1 350.6,383.1 350.7,383.1 350.8,383.1 350.9,383.1 351.0,383.1 351.1,383.1 351.2,383.1 351.2,383.1 351.3,383.0 351.4,383.0 351.5,383.0 351.6,383.0 351.7,383.0 351.8,383.0 351.9,383.0 352.0,382.9 352.0,382.9 352.1,382.9 352.2,382.9 352.3,382.9 352.4,382.8 352.5,382.8 352.6,382.8 352.7,382.8 352.8,382.7 352.8,382.7 352.9,382.7 353.0,382.7 353.1,382.6 353.2,382.6 353.3,382.6 353.4,382.5 353.5,382.5 353.5,382.4 353.6,382.4 353.7,382.3 353.8,382.3 353.9,382.2 354.0,382.2 354.1,382.1 354.2,382.0 354.3,381.9 354.3,381.8 354.4,381.7 354.5,381.6 354.6,381.4 354.7,381.3 354.8,381.1 354.9,380.9 355.0,380.6 355.1,380.3 355.1,380.0 355.2,379.6 355.3,379.2 355.4,378.7 355.5,378.1 355.6,377.5 355.7,376.8 355.8,375.9 355.9,375.0 355.9,373.9 356.0,372.7 356.1,371.4 356.2,369.9 356.3,368.2 356.4,366.4 356.5,364.5 356.6,362.3 356.6,360.0 356.7,357.5 356.8,354.8 356.9,351.9 357.0,348.9 357.1,345.7 357.2,342.4 357.3,338.9 357.4,335.4 357.4,331.8 357.5,328.2 357.6,324.5 357.7,320.9 357.8,317.3 357.9,313.8 358.0,310.5 358.1,307.4 358.2,304.5 358.2,301.9 358.3,299.6 358.4,297.7 358.5,296.2 358.6,295.2 358.7,294.6 358.8,294.5 358.9,294.9 358.9,295.7 359.0,297.0 359.1,298.7 359.2,300.8 359.3,303.3 359.4,306.0 359.5,309.0 359.6,312.3 359.7,315.7 359.7,319.2 359.8,322.8 359.9,326.5 360.0,330.2 360.1,333.8 360.2,337.4 360.3,340.8 360.4,344.2 360.5,347.5 360.5,350.6 360.6,353.5 360.7,356.3 360.8,358.9 360.9,361.3 361.0,363.5 361.1,365.6 361.2,367.5 361.3,369.2 361.3,370.8 361.4,372.2 361.5,373.4 361.6,374.6 361.7,375.6 361.8,376.5 361.9,377.2 362.0,377.9 362.0,378.5 362.1,379.1 362.2,379.5 362.3,379.9 362.4,380.3 362.5,380.6 362.6,380.9 362.7,381.1 362.8,381.3 362.8,381.5 362.9,381.6 363.0,381.8 363.1,381.9 363.2,382.0 363.3,382.1 363.4,382.2 363.5,382.2 363.6,382.3 363.6,382.4 363.7,382.4 363.8,382.5 363.9,382.5 364.0,382.6 364.1,382.6 364.2,382.7 364.3,382.7 364.3,382.7 364.4,382.8 364.5,382.8 364.6,382.8 364.7,382.9 364.8,382.9 364.9,382.9 365.0,383.0 365.1,383.0 365.1,383.0 365.2,383.0 365.3,383.1 365.4,383.1 365.5,383.1 365.6,383.1 365.7,383.1 365.8,383.2 365.9,383.2 365.9,383.2 366.0,383.2 366.1,383.2 366.2,383.2 366.3,383.3 366.4,383.3 366.5,383.3 366.6,383.3 366.7,383.3 366.7,383.3 366.8,383.3 366.9,383.4 367.0,383.4 367.1,383.4 367.2,383.4 367.3,383.4 367.4,383.4 367.4,383.4 367.5,383.4 367.6,383.4 367.7,383.5 367.8,383.5 367.9,383.5 368.0,383.5 368.1,383.5 368.2,383.5 368.2,383.5 368.3,383.5 368.4,383.5 368.5,383.5 368.6,383.5 368.7,383.5 368.8,383.6 368.9,383.6 369.0,383.6 369.0,383.6 369.1,383.6 369.2,383.6 369.3,383.6 369.4,383.6 369.5,383.6 369.6,383.6 369.7,383.6 369.8,383.6 369.8,383.6 369.9,383.6 370.0,383.6 370.1,383.6 370.2,383.6 370.3,383.7 370.4,383.7 370.5,383.7 370.5,383.7 370.6,383.7 370.7,383.7 370.8,383.7 370.9,383.7 371.0,383.7 371.1,383.7 371.2,383.7 371.3,383.7 371.3,383.7 371.4,383.7 371.5,383.7 371.6,383.7 371.7,383.7 371.8,383.7 371.9,383.7 372.0,383.7 372.1,383.7 372.1,383.7 372.2,383.7 372.3,383.7 372.4,383.7 372.5,383.7 372.6,383.7 372.7,383.7 372.8,383.8 372.8,383.8 372.9,383.8 373.0,383.8 373.1,383.8 373.2,383.8 373.3,383.8 373.4,383.8 373.5,383.8 373.6,383.8 373.6,383.8 373.7,383.8 373.8,383.8 373.9,383.8 374.0,383.8 374.1,383.8 374.2,383.8 374.3,383.8 374.4,383.8 374.4,383.8 374.5,383.8 374.6,383.8 374.7,383.8 374.8,383.8 374.9,383.8 375.0,383.8 375.1,383.8 375.2,383.8 375.2,383.8 375.3,383.8 375.4,383.8 375.5,383.8 375.6,383.8 375.7,383.8 375.8,383.8 375.9,383.8 375.9,383.8 376.0,383.8 376.1,383.8 376.2,383.8 376.3,383.8 376.4,383.8 376.5,383.8 376.6,383.8 376.7,383.8 376.7,383.8 376.8,383.8 376.9,383.8 377.0,383.8 377.1,383.8 377.2,383.8 377.3,383.8 377.4,383.8 377.5,383.8 377.5,383.8 377.6,383.8 377.7,383.8 377.8,383.9 377.9,383.9 378.0,383.9 378.1,383.9 378.2,383.9 378.3,383.9 378.3,383.9 378.4,383.9 378.5,383.9 378.6,383.9 378.7,383.9 378.8,383.9 378.9,383.9 379.0,383.9 379.0,383.9 379.1,383.9 379.2,383.9 379.3,383.9 379.4,383.9 379.5,383.9 379.6,383.9 379.7,383.9 379.8,383.9 379.8,383.9 379.9,383.9 380.0,383.9 380.1,383.9 380.2,383.9 380.3,383.9 380.4,383.9 380.5,383.9 380.6,383.9 380.6,383.9 380.7,383.9 380.8,383.9 380.9,383.9 381.0,383.9 381.1,383.9 381.2,383.9 381.3,383.9 381.3,383.9 381.4,383.9 381.5,383.9 381.6,383.9 381.7,383.9 381.8,383.9 381.9,383.9 382.0,383.9 382.1,383.9 382.1,383.9 382.2,383.9 382.3,383.9 382.4,383.9 382.5,383.9 382.6,383.9 382.7,383.9 382.8,383.9 382.9,383.9 382.9,383.9 383.0,383.9 383.1,383.9 383.2,383.9 383.3,383.9 383.4,383.9 383.5,383.9 383.6,383.9 383.7,383.9 383.7,383.9 383.8,383.9 383.9,383.9 384.0,383.9 384.1,383.9 384.2,383.9 384.3,383.9 384.4,383.9 384.4,383.9 384.5,383.9 384.6,383.9 384.7,383.9 384.8,383.9 384.9,383.9 385.0,383.9 385.1,383.9 385.2,383.9 385.2,383.9 385.3,383.9 385.4,383.9 385.5,383.9 385.6,383.9 385.7,383.9 385.8,383.9 385.9,383.9 386.0,383.9 386.0,383.9 386.1,383.9 386.2,383.9 386.3,383.9 386.4,383.9 386.5,383.9 386.6,383.9 386.7,383.9 386.7,383.9 386.8,383.9 386.9,383.9 387.0,383.9 387.1,383.9 387.2,383.9 387.3,383.9 387.4,383.9 387.5,383.9 387.5,383.9 387.6,383.9 387.7,383.9 387.8,383.9 387.9,383.9 388.0,383.9 388.1,383.9 388.2,383.9 388.3,383.9 388.3,383.9 388.4,383.9 388.5,383.9 388.6,383.9 388.7,383.9 388.8,383.9 388.9,383.9 389.0,383.9 389.1,383.9 389.1,383.9 389.2,383.9 389.3,383.9 389.4,383.9 389.5,383.9 389.6,383.9 389.7,383.9 389.8,383.9 389.8,383.9 389.9,383.9 390.0,383.9 390.1,383.9 390.2,383.9 390.3,383.9 390.4,383.9 390.5,383.9 390.6,383.9 390.6,383.9 390.7,383.9 390.8,383.9 390.9,383.9 391.0,383.9 391.1,383.9 391.2,383.9 391.3,383.9 391.4,383.9 391.4,383.9 391.5,383.9 391.6,383.9 391.7,383.9 391.8,383.9 391.9,383.9 392.0,383.9 392.1,383.9 392.2,383.9 392.2,383.9 392.3,383.9 392.4,383.9 392.5,383.9 392.6,383.9 392.7,383.9 392.8,383.9 392.9,383.9 392.9,383.9 393.0,383.9 393.1,383.9 393.2,383.9 393.3,383.9 393.4,383.9 393.5,383.9 393.6,383.9 393.7,383.9 393.7,383.9 393.8,383.9 393.9,383.9 394.0,383.9 394.1,383.9 394.2,383.9 394.3,383.9 394.4,383.9 394.5,383.9 394.5,383.9 394.6,383.9 394.7,383.9 394.8,383.9 394.9,383.9 395.0,383.9 395.1,383.9 395.2,383.9 395.2,383.9 395.3,383.9 395.4,383.9 395.5,383.9 395.6,383.9 395.7,383.9 395.8,383.9 395.9,383.9 396.0,383.9 396.0,383.9 396.1,383.9 396.2,383.9 396.3,383.9 396.4,383.9 396.5,383.9 396.6,383.9 396.7,383.9 396.8,383.9 396.8,383.9 396.9,383.9 397.0,383.9 397.1,383.9 397.2,383.9 397.3,383.9 397.4,383.9 397.5,383.9 397.6,383.9 397.6,383.9 397.7,383.9 397.8,383.9 397.9,383.9 398.0,383.9 398.1,383.9 398.2,383.9 398.3,383.9 398.3,383.9 398.4,383.9 398.5,383.9 398.6,383.9 398.7,383.9 398.8,383.9 398.9,383.9 399.0,383.9 399.1,383.9 399.1,383.9 399.2,383.9 399.3,383.9 399.4,383.9 399.5,383.9 399.6,383.9 399.7,383.9 399.8,383.9 399.9,383.9 399.9,383.9 400.0,383.9 400.1,383.9 400.2,383.9 400.3,383.9 400.4,383.9 400.5,383.9 400.6,383.9 400.6,383.9 400.7,383.9 400.8,383.9 400.9,383.9 401.0,383.9 401.1,383.9 401.2,383.9 401.3,383.9 401.4,383.9 401.4,383.9 401.5,383.9 401.6,383.9 401.7,383.9 401.8,383.9 401.9,383.9 402.0,383.9 402.1,383.9 402.2,383.9 402.2,383.9 402.3,383.9 402.4,383.9 402.5,383.9 402.6,383.9 402.7,383.9 402.8,383.9 402.9,383.9 403.0,383.9 403.0,383.9 403.1,383.9 403.2,383.9 403.3,383.9 403.4,383.9 403.5,383.9 403.6,383.9 403.7,383.9 403.7,383.9 403.8,383.9 403.9,383.9 404.0,383.9 404.1,383.9 404.2,383.9 404.3,383.9 404.4,383.9 404.5,383.9 404.5,383.9 404.6,383.9 404.7,383.9 404.8,383.9 404.9,383.9 405.0,383.9 405.1,383.9 405.2,383.9 405.3,383.9 405.3,383.9 405.4,383.9 405.5,383.9 405.6,383.9 405.7,383.9 405.8,383.9 405.9,383.9 406.0,383.9 406.1,383.9 406.1,383.9 406.2,383.9 406.3,383.9 406.4,383.9 406.5,383.9 406.6,383.9 406.7,383.9 406.8,383.9 406.8,383.9 406.9,383.9 407.0,383.9 407.1,383.9 407.2,383.9 407.3,383.9 407.4,383.9 407.5,383.9 407.6,383.9 407.6,383.9 407.7,383.9 407.8,383.9 407.9,383.9 408.0,383.9 408.1,383.9 408.2,383.9 408.3,383.9 408.4,383.9 408.4,383.9 408.5,383.9 408.6,383.9 408.7,383.9 408.8,383.9 408.9,383.9 409.0,383.9 409.1,383.9 409.1,383.9 409.2,383.9 409.3,383.9 409.4,383.9 409.5,383.9 409.6,383.9 409.7,383.9 409.8,383.9 409.9,383.9 409.9,383.9 410.0,383.9 410.1,383.9 410.2,383.9 410.3,383.9 410.4,383.9 410.5,383.9 410.6,383.9 410.7,383.9 410.7,383.9 410.8,383.9 410.9,383.9 411.0,383.9 411.1,383.9 411.2,383.9 411.3,383.9 411.4,383.9 411.5,383.9 411.5,383.9 411.6,383.9 411.7,383.9 411.8,383.9 411.9,383.9 412.0,383.9 412.1,383.9 412.2,383.9 412.2,383.9 412.3,383.9 412.4,383.9 412.5,383.9 412.6,383.9 412.7,383.9 412.8,383.9 412.9,383.9 413.0,383.9 413.0,383.9 413.1,383.9 413.2,383.9 413.3,383.9 413.4,383.9 413.5,383.9 413.6,383.9 413.7,383.9 413.8,383.9 413.8,383.9 413.9,383.9 414.0,383.9 414.1,383.9 414.2,383.9 414.3,383.9 414.4,383.9 414.5,383.9 414.6,383.9 414.6,383.9 414.7,383.9 414.8,383.9 414.9,383.9 415.0,383.9 415.1,383.9 415.2,383.9 415.3,383.9 415.3,383.9 415.4,383.9 415.5,383.9 415.6,383.9 415.7,383.9 415.8,383.9 415.9,383.9 416.0,383.9 416.1,383.9 416.1,383.9 416.2,383.9 416.3,383.9 416.4,383.9 416.5,383.9 416.6,383.9 416.7,383.9 416.8,383.9 416.9,383.9 416.9,383.9 417.0,383.9 417.1,383.9 417.2,383.9 417.3,383.9 417.4,383.9 417.5,383.9 417.6,383.9 417.6,383.9 417.7,383.9 417.8,383.9 417.9,383.9 418.0,383.9 418.1,383.9 418.2,383.9 418.3,383.9 418.4,383.9 418.4,383.9 418.5,383.9 418.6,383.9 418.7,383.9 418.8,383.9 418.9,383.9 419.0,383.9 419.1,383.9 419.2,383.9 419.2,383.9 419.3,383.9 419.4,383.9 419.5,383.9 419.6,383.9 419.7,383.9 419.8,383.9 419.9,383.9 420.0,383.9 420.0,383.9 420.1,383.9 420.2,383.9 420.3,383.9 420.4,383.9 420.5,383.9 420.6,383.9 420.7,383.9 420.7,383.9 420.8,383.9 420.9,383.9 421.0,383.9 421.1,383.9 421.2,383.9 421.3,383.9 421.4,383.9 421.5,383.9 421.5,383.9 421.6,383.9 421.7,383.9 421.8,383.9 421.9,383.9 422.0,383.9 422.1,383.9 422.2,383.9 422.3,383.9 422.3,383.9 422.4,383.9 422.5,383.9 422.6,383.9 422.7,383.9 422.8,383.9 422.9,383.9 423.0,383.8 423.0,383.8 423.1,383.8 423.2,383.8 423.3,383.8 423.4,383.8 423.5,383.8 423.6,383.8 423.7,383.8 423.8,383.8 423.8,383.8 423.9,383.8 424.0,383.8 424.1,383.8 424.2,383.8 424.3,383.8 424.4,383.8 424.5,383.8 424.6,383.8 424.6,383.8 424.7,383.8 424.8,383.8 424.9,383.8 425.0,383.8 425.1,383.8 425.2,383.8 425.3,383.8 425.4,383.8 425.4,383.8 425.5,383.8 425.6,383.8 425.7,383.8 425.8,383.8 425.9,383.8 426.0,383.8 426.1,383.8 426.1,383.8 426.2,383.7 426.3,383.7 426.4,383.7 426.5,383.7 426.6,383.7 426.7,383.7 426.8,383.7 426.9,383.7 426.9,383.7 427.0,383.7 427.1,383.7 427.2,383.7 427.3,383.7 427.4,383.7 427.5,383.7 427.6,383.7 427.7,383.7 427.7,383.7 427.8,383.7 427.9,383.6 428.0,383.6 428.1,383.6 428.2,383.6 428.3,383.6 428.4,383.6 428.5,383.6 428.5,383.6 428.6,383.6 428.7,383.6 428.8,383.6 428.9,383.6 429.0,383.5 429.1,383.5 429.2,383.5 429.2,383.5 429.3,383.5 429.4,383.5 429.5,383.5 429.6,383.4 429.7,383.4 429.8,383.4 429.9,383.4 430.0,383.4 430.0,383.4 430.1,383.3 430.2,383.3 430.3,383.3 430.4,383.2 430.5,383.2 430.6,383.2 430.7,383.1 430.8,383.1 430.8,383.0 430.9,383.0 431.0,382.9 431.1,382.8 431.2,382.7 431.3,382.6 431.4,382.5 431.5,382.4 431.5,382.3 431.6,382.1 431.7,382.0 431.8,381.8 431.9,381.6 432.0,381.3 432.1,381.1 432.2,380.8 432.3,380.5 432.3,380.2 432.4,379.8 432.5,379.4 432.6,379.0 432.7,378.5 432.8,378.0 432.9,377.5 433.0,376.9 433.1,376.2 433.1,375.6 433.2,374.9 433.3,374.1 433.4,373.3 433.5,372.5 433.6,371.6 433.7,370.7 433.8,369.8 433.9,368.8 433.9,367.9 434.0,366.8 434.1,365.8 434.2,364.8 434.3,363.8 434.4,362.7 434.5,361.7 434.6,360.7 434.6,359.7 434.7,358.7 434.8,357.8 434.9,356.9 435.0,356.1 435.1,355.4 435.2,354.7 435.3,354.1 435.4,353.6 435.4,353.2 435.5,352.9 435.6,352.7 435.7,352.6 435.8,352.6 435.9,352.7 436.0,353.0 436.1,353.3 436.2,353.7 436.2,354.3 436.3,354.9 436.4,355.6 436.5,356.3 436.6,357.2 436.7,358.0 436.8,359.0 436.9,359.9 436.9,360.9 437.0,362.0 437.1,363.0 437.2,364.0 437.3,365.1 437.4,366.1 437.5,367.1 437.6,368.1 437.7,369.1 437.7,370.1 437.8,371.0 437.9,371.9 438.0,372.7 438.1,373.5 438.2,374.3 438.3,375.1 438.4,375.8 438.5,376.4 438.5,377.0 438.6,377.6 438.7,378.1 438.8,378.6 438.9,379.1 439.0,379.5 439.1,379.9 439.2,380.3 439.3,380.6 439.3,380.9 439.4,381.2 439.5,381.4 439.6,381.6 439.7,381.8 439.8,382.0 439.9,382.2 440.0,382.3 440.0,382.4 440.1,382.6 440.2,382.7 440.3,382.7 440.4,382.8 440.5,382.9 440.6,383.0 440.7,383.0 440.8,383.1 440.8,383.1 440.9,383.2 441.0,383.2 441.1,383.2 441.2,383.3 441.3,383.3 441.4,383.3 441.5,383.4 441.6,383.4 441.6,383.4 441.7,383.4 441.8,383.4 441.9,383.5 442.0,383.5 442.1,383.5 442.2,383.5 442.3,383.5 442.4,383.5 442.4,383.5 442.5,383.5 442.6,383.6 442.7,383.6 442.8,383.6 442.9,383.6 443.0,383.6 443.1,383.6 443.1,383.6 443.2,383.6 443.3,383.6 443.4,383.6 443.5,383.6 443.6,383.6 443.7,383.7 443.8,383.7 443.9,383.7 443.9,383.7 444.0,383.7 444.1,383.7 444.2,383.7 444.3,383.7 444.4,383.7 444.5,383.7 444.6,383.7 444.7,383.7 444.7,383.7 444.8,383.7 444.9,383.7 445.0,383.7 445.1,383.7 445.2,383.7 445.3,383.7 445.4,383.8 445.4,383.8 445.5,383.8 445.6,383.8 445.7,383.8 445.8,383.8 445.9,383.8 446.0,383.8 446.1,383.8 446.2,383.8 446.2,383.8 446.3,383.8 446.4,383.8 446.5,383.8 446.6,383.8 446.7,383.8 446.8,383.8 446.9,383.8 447.0,383.8 447.0,383.8 447.1,383.8 447.2,383.8 447.3,383.8 447.4,383.8 447.5,383.8 447.6,383.8 447.7,383.8 447.8,383.8 447.8,383.8 447.9,383.8 448.0,383.8 448.1,383.8 448.2,383.8 448.3,383.8 448.4,383.8 448.5,383.8 448.5,383.8 448.6,383.8 448.7,383.8 448.8,383.8 448.9,383.8 449.0,383.9 449.1,383.9 449.2,383.9 449.3,383.9 449.3,383.9 449.4,383.9 449.5,383.9 449.6,383.9 449.7,383.9 449.8,383.9 449.9,383.9 450.0,383.9 450.1,383.9 450.1,383.9 450.2,383.9 450.3,383.9 450.4,383.9 450.5,383.9 450.6,383.9 450.7,383.9 450.8,383.9 450.9,383.9 450.9,383.9 451.0,383.9 451.1,383.9 451.2,383.9 451.3,383.9 451.4,383.9 451.5,383.9 451.6,383.9 451.6,383.9 451.7,383.9 451.8,383.9 451.9,383.9 452.0,383.9 452.1,383.9 452.2,383.9 452.3,383.9 452.4,383.9 452.4,383.9 452.5,383.9 452.6,383.9 452.7,383.9 452.8,383.9 452.9,383.9 453.0,383.9 453.1,383.9 453.2,383.9 453.2,383.9 453.3,383.9 453.4,383.9 453.5,383.9 453.6,383.9 453.7,383.9 453.8,383.9 453.9,383.9 453.9,383.9 454.0,383.9 454.1,383.9 454.2,383.9 454.3,383.9 454.4,383.9 454.5,383.9 454.6,383.9 454.7,383.9 454.7,383.9 454.8,383.9 454.9,383.9 455.0,383.9 455.1,383.9 455.2,383.9 455.3,383.9 455.4,383.9 455.5,383.9 455.5,383.9 455.6,383.9 455.7,383.9 455.8,383.9 455.9,383.9 456.0,383.9 456.1,383.9 456.2,383.9 456.3,383.9 456.3,383.9 456.4,383.9 456.5,383.9 456.6,383.9 456.7,383.9 456.8,383.9 456.9,383.9 457.0,383.9 457.0,383.9 457.1,383.9 457.2,383.9 457.3,383.9 457.4,383.9 457.5,383.9 457.6,383.9 457.7,383.9 457.8,383.9 457.8,383.9 457.9,383.9 458.0,383.9 458.1,383.9 458.2,383.9 458.3,383.9 458.4,383.9 458.5,383.9 458.6,383.9 458.6,383.9 458.7,383.9 458.8,383.9 458.9,383.9 459.0,383.9 459.1,383.9 459.2,383.9 459.3,383.9 459.3,383.9 459.4,383.9 459.5,383.9 459.6,383.9 459.7,383.9 459.8,383.9 459.9,383.9 460.0,383.9 460.1,383.9 460.1,383.9 460.2,383.9 460.3,383.9 460.4,383.9 460.5,383.9 460.6,383.9 460.7,383.9 460.8,383.9 460.9,383.9 460.9,383.9 461.0,383.9 461.1,383.9 461.2,383.9 461.3,383.9 461.4,383.9 461.5,383.9 461.6,383.9 461.7,383.9 461.7,383.9 461.8,383.9 461.9,383.9 462.0,383.9 462.1,383.9 462.2,383.9 462.3,383.9 462.4,383.9 462.4,383.9 462.5,383.9 462.6,383.9 462.7,383.9 462.8,383.9 462.9,383.9 463.0,383.9 463.1,383.9 463.2,383.9 463.2,383.9 463.3,383.9 463.4,383.9 463.5,383.9 463.6,383.9 463.7,383.9 463.8,383.9 463.9,383.9 464.0,383.9 464.0,383.9 464.1,383.9 464.2,383.9 464.3,383.9 464.4,383.9 464.5,383.9 464.6,383.9 464.7,383.9 464.8,383.9 464.8,383.9 464.9,383.9 465.0,383.9 465.1,383.9 465.2,383.9 465.3,383.9 465.4,383.9 465.5,383.9 465.5,383.9 465.6,383.9 465.7,383.9 465.8,383.9 465.9,383.9 466.0,383.9 466.1,383.9 466.2,383.9 466.3,383.9 466.3,383.9 466.4,383.9 466.5,383.9 466.6,383.9 466.7,383.9 466.8,383.9 466.9,383.9 467.0,383.9 467.1,383.9 467.1,383.9 467.2,383.9 467.3,383.9 467.4,383.9 467.5,383.9 467.6,383.9 467.7,383.9 467.8,383.9 467.8,383.9 467.9,383.9 468.0,383.9 468.1,383.9 468.2,383.9 468.3,383.9 468.4,383.9 468.5,383.9 468.6,383.9 468.6,383.9 468.7,383.9 468.8,383.9 468.9,383.9 469.0,383.9 469.1,383.9 469.2,383.9 469.3,383.9 469.4,383.9 469.4,383.9 469.5,383.9 469.6,383.9 469.7,383.9 469.8,383.9 469.9,383.9 470.0,383.9 470.1,383.9 470.2,383.9 470.2,383.9 470.3,383.9 470.4,383.9 470.5,383.8 470.6,383.8 470.7,383.8 470.8,383.8 470.9,383.8 470.9,383.8 471.0,383.8 471.1,383.8 471.2,383.8 471.3,383.8 471.4,383.8 471.5,383.8 471.6,383.8 471.7,383.8 471.7,383.8 471.8,383.8 471.9,383.8 472.0,383.8 472.1,383.8 472.2,383.8 472.3,383.8 472.4,383.8 472.5,383.8 472.5,383.8 472.6,383.8 472.7,383.8 472.8,383.8 472.9,383.8 473.0,383.8 473.1,383.8 473.2,383.8 473.3,383.8 473.3,383.8 473.4,383.8 473.5,383.8 473.6,383.8 473.7,383.8 473.8,383.8 473.9,383.8 474.0,383.8 474.0,383.8 474.1,383.7 474.2,383.7 474.3,383.7 474.4,383.7 474.5,383.7 474.6,383.7 474.7,383.7 474.8,383.7 474.8,383.7 474.9,383.7 475.0,383.7 475.1,383.7 475.2,383.7 475.3,383.7 475.4,383.7 475.5,383.7 475.6,383.7 475.6,383.7 475.7,383.7 475.8,383.7 475.9,383.6 476.0,383.6 476.1,383.6 476.2,383.6 476.3,383.6 476.3,383.6 476.4,383.6 476.5,383.6 476.6,383.6 476.7,383.6 476.8,383.6 476.9,383.6 477.0,383.5 477.1,383.5 477.1,383.5 477.2,383.5 477.3,383.5 477.4,383.5 477.5,383.5 477.6,383.5 477.7,383.4 477.8,383.4 477.9,383.4 477.9,383.4 478.0,383.4 478.1,383.3 478.2,383.3 478.3,383.3 478.4,383.2 478.5,383.2 478.6,383.2 478.7,383.1 478.7,383.1 478.8,383.0 478.9,383.0 479.0,382.9 479.1,382.8 479.2,382.7 479.3,382.6 479.4,382.5 479.4,382.4 479.5,382.3 479.6,382.2 479.7,382.0 479.8,381.8 479.9,381.6 480.0,381.4 480.1,381.2 480.2,380.9 480.2,380.7 480.3,380.4 480.4,380.0 480.5,379.7 480.6,379.3 480.7,378.9 480.8,378.5 480.9,378.0 481.0,377.5 481.0,376.9 481.1,376.4 481.2,375.8 481.3,375.1 481.4,374.4 481.5,373.7 481.6,373.0 481.7,372.2 481.7,371.4 481.8,370.6 481.9,369.8 482.0,368.9 482.1,368.1 482.2,367.2 482.3,366.3 482.4,365.4 482.5,364.5 482.5,363.6 482.6,362.7 482.7,361.9 482.8,361.1 482.9,360.3 483.0,359.5 483.1,358.8 483.2,358.1 483.3,357.5 483.3,357.0 483.4,356.5 483.5,356.1 483.6,355.8 483.7,355.6 483.8,355.4 483.9,355.4 484.0,355.4 484.1,355.5 484.1,355.7 484.2,356.0 484.3,356.4 484.4,356.8 484.5,357.4 484.6,357.9 484.7,358.6 484.8,359.3 484.8,360.0 484.9,360.8 485.0,361.6 485.1,362.5 485.2,363.4 485.3,364.2 485.4,365.1 485.5,366.0 485.6,366.9 485.6,367.8 485.7,368.7 485.8,369.5 485.9,370.4 486.0,371.2 486.1,372.0 486.2,372.8 486.3,373.5 486.4,374.2 486.4,374.9 486.5,375.6 486.6,376.2 486.7,376.8 486.8,377.3 486.9,377.8 487.0,378.3 487.1,378.8 487.2,379.2 487.2,379.6 487.3,379.9 487.4,380.3 487.5,380.6 487.6,380.9 487.7,381.1 487.8,381.3 487.9,381.6 487.9,381.8 488.0,381.9 488.1,382.1 488.2,382.2 488.3,382.4 488.4,382.5 488.5,382.6 488.6,382.7 488.7,382.8 488.7,382.8 488.8,382.9 488.9,383.0 489.0,383.0 489.1,383.1 489.2,383.1 489.3,383.2 489.4,383.2 489.5,383.2 489.5,383.3 489.6,383.3 489.7,383.3 489.8,383.3 489.9,383.4 490.0,383.4 490.1,383.4 490.2,383.4 490.2,383.4 490.3,383.4 490.4,383.4 490.5,383.5 490.6,383.5 490.7,383.5 490.8,383.5 490.9,383.5 491.0,383.5 491.0,383.5 491.1,383.5 491.2,383.5 491.3,383.5 491.4,383.6 491.5,383.6 491.6,383.6 491.7,383.6 491.8,383.6 491.8,383.6 491.9,383.6 492.0,383.6 492.1,383.6 492.2,383.6 492.3,383.6 492.4,383.6 492.5,383.6 492.6,383.6 492.6,383.6 492.7,383.6 492.8,383.6 492.9,383.6 493.0,383.6 493.1,383.6 493.2,383.6 493.3,383.6 493.3,383.6 493.4,383.6 493.5,383.6 493.6,383.6 493.7,383.6 493.8,383.6 493.9,383.6 494.0,383.6 494.1,383.6 494.1,383.6 494.2,383.6 494.3,383.6 494.4,383.6 494.5,383.6 494.6,383.6 494.7,383.6 494.8,383.6 494.9,383.6 494.9,383.6 495.0,383.6 495.1,383.6 495.2,383.6 495.3,383.6 495.4,383.6 495.5,383.6 495.6,383.6 495.6,383.6 495.7,383.6 495.8,383.6 495.9,383.6 496.0,383.5 496.1,383.5 496.2,383.5 496.3,383.5 496.4,383.5 496.4,383.4 496.5,383.4 496.6,383.4 496.7,383.3 496.8,383.3 496.9,383.3 497.0,383.2 497.1,383.2 497.2,383.1 497.2,383.0 497.3,383.0 497.4,382.9 497.5,382.8 497.6,382.7 497.7,382.6 497.8,382.5 497.9,382.3 498.0,382.2 498.0,382.1 498.1,381.9 498.2,381.7 498.3,381.6 498.4,381.4 498.5,381.2 498.6,380.9 498.7,380.7 498.7,380.5 498.8,380.2 498.9,380.0 499.0,379.7 499.1,379.4 499.2,379.1 499.3,378.8 499.4,378.5 499.5,378.2 499.5,377.9 499.6,377.6 499.7,377.3 499.8,376.9 499.9,376.6 500.0,376.3 500.1,376.0 500.2,375.7 500.3,375.4 500.3,375.2 500.4,374.9 500.5,374.7 500.6,374.5 500.7,374.3 500.8,374.1 500.9,374.0 501.0,373.9 501.1,373.8 501.1,373.7 501.2,373.7 501.3,373.7 501.4,373.8 501.5,373.9 501.6,374.0 501.7,374.1 501.8,374.3 501.8,374.5 501.9,374.7 502.0,374.9 502.1,375.2 502.2,375.4 502.3,375.7 502.4,376.0 502.5,376.3 502.6,376.6 502.6,376.9 502.7,377.2 502.8,377.6 502.9,377.9 503.0,378.2 503.1,378.5 503.2,378.8 503.3,379.1 503.4,379.4 503.4,379.7 503.5,380.0 503.6,380.2 503.7,380.5 503.8,380.7 503.9,381.0 504.0,381.2 504.1,381.4 504.1,381.6 504.2,381.8 504.3,381.9 504.4,382.1 504.5,382.3 504.6,382.4 504.7,382.5 504.8,382.6 504.9,382.7 504.9,382.8 505.0,382.9 505.1,383.0 505.2,383.1 505.3,383.2 505.4,383.2 505.5,383.3 505.6,383.3 505.7,383.4 505.7,383.4 505.8,383.5 505.9,383.5 506.0,383.5 506.1,383.6 506.2,383.6 506.3,383.6 506.4,383.6 506.5,383.6 506.5,383.7 506.6,383.7 506.7,383.7 506.8,383.7 506.9,383.7 507.0,383.7 507.1,383.7 507.2,383.7 507.2,383.7 507.3,383.8 507.4,383.8 507.5,383.8 507.6,383.8 507.7,383.8 507.8,383.8 507.9,383.8 508.0,383.8 508.0,383.8 508.1,383.8 508.2,383.8 508.3,383.8 508.4,383.8 508.5,383.8 508.6,383.8 508.7,383.8 508.8,383.8 508.8,383.8 508.9,383.8 509.0,383.8 509.1,383.8 509.2,383.8 509.3,383.8 509.4,383.8 509.5,383.9 509.6,383.9 509.6,383.9 509.7,383.9 509.8,383.9 509.9,383.9 510.0,383.9 510.1,383.9 510.2,383.9 510.3,383.9 510.3,383.9 510.4,383.9 510.5,383.9 510.6,383.9 510.7,383.9 510.8,383.9 510.9,383.9 511.0,383.9 511.1,383.9 511.1,383.9 511.2,383.9 511.3,383.9 511.4,383.9 511.5,383.9 511.6,383.9 511.7,383.9 511.8,383.9 511.9,383.9 511.9,383.9 512.0,383.9 512.1,383.9 512.2,383.9 512.3,383.9 512.4,383.9 512.5,383.9 512.6,383.9 512.6,383.9 512.7,383.9 512.8,383.9 512.9,383.9 513.0,383.9 513.1,383.9 513.2,383.9 513.3,383.9 513.4,383.9 513.4,383.9 513.5,383.9 513.6,383.9 513.7,383.9 513.8,383.9"/>
<rect class="ax" x="301.4" y="1.5" width="212.39999999999998" height="417.3"/>
<rect x="439.8" y="35.6" width="66.7" height="33.2" fill="#fff" stroke="#777" stroke-width="0.8"/>
<path d="M444 45.2H464.2" stroke="#e31c1c" stroke-width="1.2"/>
<path d="M444 59.6H464.2" stroke="#1a1ae0" stroke-width="1.8" stroke-dasharray="1.7 2.0"/>
<text x="467.7" y="49.2" text-anchor="start" style="font-size:11px" textLength="32.1" lengthAdjust="spacingAndGlyphs">XRD 1</text>
<text x="467.7" y="63.6" text-anchor="start" style="font-size:11px" textLength="32.1" lengthAdjust="spacingAndGlyphs">XRD 2</text>
<text x="496.2" y="18.5" text-anchor="middle" style="font-size:11.3px;stroke:#161616;stroke-width:0.3px">(b)</text>
<text class="tk" x="301.4" y="431.8">30</text>
<text class="tk" x="336.8" y="431.8">40</text>
<text class="tk" x="372.2" y="431.8">50</text>
<text class="tk" x="407.6" y="431.8">60</text>
<text class="tk" x="443.0" y="431.8">70</text>
<text class="tk" x="478.4" y="431.8">80</text>
<text class="tk" x="513.8" y="431.8">90</text>
<text x="407.7" y="448" text-anchor="middle" style="font-size:11.2px" textLength="62.5" lengthAdjust="spacingAndGlyphs">2θ (degrees)</text>
<text x="0" y="0" text-anchor="middle" style="font-size:11.2px" textLength="102" lengthAdjust="spacingAndGlyphs" transform="translate(286 210.2) rotate(-90)">Intensity (arb. units)</text>
</svg></body></html>
